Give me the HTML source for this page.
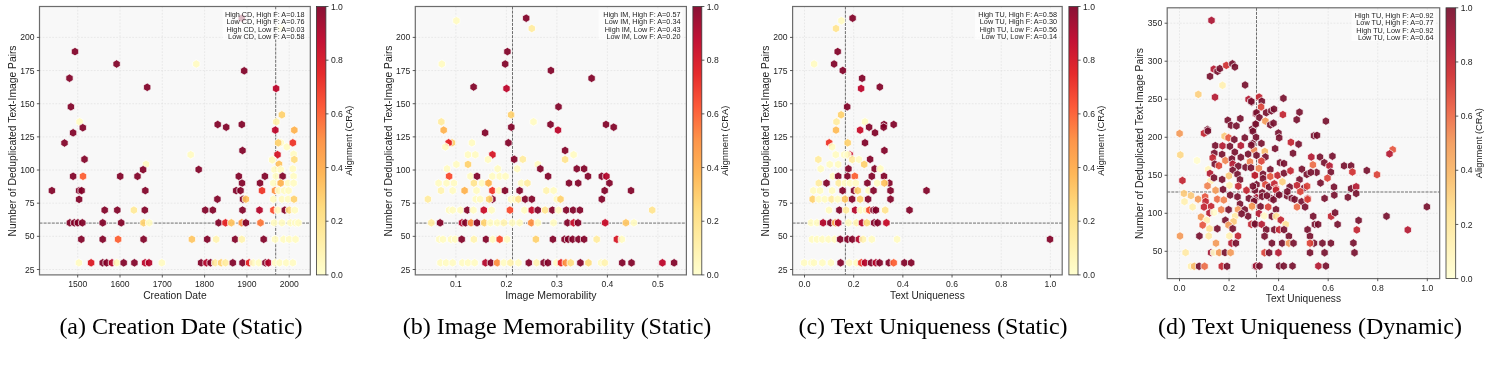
<!DOCTYPE html>
<html><head><meta charset="utf-8"><style>html,body{margin:0;padding:0;background:#fff;width:1496px;height:370px;overflow:hidden}svg{display:block;will-change:transform}</style></head>
<body><svg width="1496" height="370" viewBox="0 0 1496 370">
<rect x="39.5" y="6.5" width="270.8" height="268.4" fill="#f8f8f8"/>
<line x1="77.7" y1="6.5" x2="77.7" y2="274.9" stroke="#dedede" stroke-width="0.6" stroke-dasharray="1.7,1.5"/>
<line x1="120.0" y1="6.5" x2="120.0" y2="274.9" stroke="#dedede" stroke-width="0.6" stroke-dasharray="1.7,1.5"/>
<line x1="162.3" y1="6.5" x2="162.3" y2="274.9" stroke="#dedede" stroke-width="0.6" stroke-dasharray="1.7,1.5"/>
<line x1="204.6" y1="6.5" x2="204.6" y2="274.9" stroke="#dedede" stroke-width="0.6" stroke-dasharray="1.7,1.5"/>
<line x1="246.89999999999998" y1="6.5" x2="246.89999999999998" y2="274.9" stroke="#dedede" stroke-width="0.6" stroke-dasharray="1.7,1.5"/>
<line x1="289.2" y1="6.5" x2="289.2" y2="274.9" stroke="#dedede" stroke-width="0.6" stroke-dasharray="1.7,1.5"/>
<line x1="39.5" y1="269.5" x2="310.3" y2="269.5" stroke="#dedede" stroke-width="0.6" stroke-dasharray="1.7,1.5"/>
<line x1="39.5" y1="236.3425" x2="310.3" y2="236.3425" stroke="#dedede" stroke-width="0.6" stroke-dasharray="1.7,1.5"/>
<line x1="39.5" y1="203.185" x2="310.3" y2="203.185" stroke="#dedede" stroke-width="0.6" stroke-dasharray="1.7,1.5"/>
<line x1="39.5" y1="170.0275" x2="310.3" y2="170.0275" stroke="#dedede" stroke-width="0.6" stroke-dasharray="1.7,1.5"/>
<line x1="39.5" y1="136.87" x2="310.3" y2="136.87" stroke="#dedede" stroke-width="0.6" stroke-dasharray="1.7,1.5"/>
<line x1="39.5" y1="103.7125" x2="310.3" y2="103.7125" stroke="#dedede" stroke-width="0.6" stroke-dasharray="1.7,1.5"/>
<line x1="39.5" y1="70.555" x2="310.3" y2="70.555" stroke="#dedede" stroke-width="0.6" stroke-dasharray="1.7,1.5"/>
<line x1="39.5" y1="37.39750000000001" x2="310.3" y2="37.39750000000001" stroke="#dedede" stroke-width="0.6" stroke-dasharray="1.7,1.5"/>
<line x1="275.7" y1="6.5" x2="275.7" y2="274.9" stroke="#6e6e6e" stroke-width="1" stroke-dasharray="3,1.1"/>
<line x1="39.5" y1="223.0795" x2="310.3" y2="223.0795" stroke="#6e6e6e" stroke-width="1" stroke-dasharray="3,1.1"/>
<polygon points="75.00,47.40 71.36,49.50 71.36,53.70 75.00,55.80 78.64,53.70 78.64,49.50" fill="#800026" fill-opacity="0.92" stroke="#fff" stroke-width="0.7"/>
<polygon points="116.60,59.80 112.96,61.90 112.96,66.10 116.60,68.20 120.24,66.10 120.24,61.90" fill="#800026" fill-opacity="0.92" stroke="#fff" stroke-width="0.7"/>
<polygon points="69.50,74.00 65.86,76.10 65.86,80.30 69.50,82.40 73.14,80.30 73.14,76.10" fill="#800026" fill-opacity="0.92" stroke="#fff" stroke-width="0.7"/>
<polygon points="147.20,83.10 143.56,85.20 143.56,89.40 147.20,91.50 150.84,89.40 150.84,85.20" fill="#800026" fill-opacity="0.92" stroke="#fff" stroke-width="0.7"/>
<polygon points="70.90,102.60 67.26,104.70 67.26,108.90 70.90,111.00 74.54,108.90 74.54,104.70" fill="#800026" fill-opacity="0.92" stroke="#fff" stroke-width="0.7"/>
<polygon points="79.60,117.60 75.96,119.70 75.96,123.90 79.60,126.00 83.24,123.90 83.24,119.70" fill="#fffbc1" fill-opacity="0.92" stroke="#fff" stroke-width="0.7"/>
<polygon points="82.80,123.50 79.16,125.60 79.16,129.80 82.80,131.90 86.44,129.80 86.44,125.60" fill="#800026" fill-opacity="0.92" stroke="#fff" stroke-width="0.7"/>
<polygon points="73.10,128.60 69.46,130.70 69.46,134.90 73.10,137.00 76.74,134.90 76.74,130.70" fill="#800026" fill-opacity="0.92" stroke="#fff" stroke-width="0.7"/>
<polygon points="64.50,138.80 60.86,140.90 60.86,145.10 64.50,147.20 68.14,145.10 68.14,140.90" fill="#800026" fill-opacity="0.92" stroke="#fff" stroke-width="0.7"/>
<polygon points="84.50,155.10 80.86,157.20 80.86,161.40 84.50,163.50 88.14,161.40 88.14,157.20" fill="#800026" fill-opacity="0.92" stroke="#fff" stroke-width="0.7"/>
<polygon points="146.00,160.10 142.36,162.20 142.36,166.40 146.00,168.50 149.64,166.40 149.64,162.20" fill="#fffbc1" fill-opacity="0.92" stroke="#fff" stroke-width="0.7"/>
<polygon points="143.10,165.50 139.46,167.60 139.46,171.80 143.10,173.90 146.74,171.80 146.74,167.60" fill="#800026" fill-opacity="0.92" stroke="#fff" stroke-width="0.7"/>
<polygon points="73.10,172.10 69.46,174.20 69.46,178.40 73.10,180.50 76.74,178.40 76.74,174.20" fill="#800026" fill-opacity="0.92" stroke="#fff" stroke-width="0.7"/>
<polygon points="83.00,172.10 79.36,174.20 79.36,178.40 83.00,180.50 86.64,178.40 86.64,174.20" fill="#fc5b2e" fill-opacity="0.92" stroke="#fff" stroke-width="0.7"/>
<polygon points="120.20,172.10 116.56,174.20 116.56,178.40 120.20,180.50 123.84,178.40 123.84,174.20" fill="#800026" fill-opacity="0.92" stroke="#fff" stroke-width="0.7"/>
<polygon points="137.50,172.10 133.86,174.20 133.86,178.40 137.50,180.50 141.14,178.40 141.14,174.20" fill="#800026" fill-opacity="0.92" stroke="#fff" stroke-width="0.7"/>
<polygon points="51.90,186.40 48.26,188.50 48.26,192.70 51.90,194.80 55.54,192.70 55.54,188.50" fill="#800026" fill-opacity="0.92" stroke="#fff" stroke-width="0.7"/>
<polygon points="79.10,186.40 75.46,188.50 75.46,192.70 79.10,194.80 82.74,192.70 82.74,188.50" fill="#800026" fill-opacity="0.92" stroke="#fff" stroke-width="0.7"/>
<polygon points="81.60,186.40 77.96,188.50 77.96,192.70 81.60,194.80 85.24,192.70 85.24,188.50" fill="#800026" fill-opacity="0.92" stroke="#fff" stroke-width="0.7"/>
<polygon points="145.30,186.40 141.66,188.50 141.66,192.70 145.30,194.80 148.94,192.70 148.94,188.50" fill="#800026" fill-opacity="0.92" stroke="#fff" stroke-width="0.7"/>
<polygon points="79.10,195.20 75.46,197.30 75.46,201.50 79.10,203.60 82.74,201.50 82.74,197.30" fill="#800026" fill-opacity="0.92" stroke="#fff" stroke-width="0.7"/>
<polygon points="104.70,205.90 101.06,208.00 101.06,212.20 104.70,214.30 108.34,212.20 108.34,208.00" fill="#800026" fill-opacity="0.92" stroke="#fff" stroke-width="0.7"/>
<polygon points="117.30,205.90 113.66,208.00 113.66,212.20 117.30,214.30 120.94,212.20 120.94,208.00" fill="#800026" fill-opacity="0.92" stroke="#fff" stroke-width="0.7"/>
<polygon points="133.90,205.90 130.26,208.00 130.26,212.20 133.90,214.30 137.54,212.20 137.54,208.00" fill="#ffe998" fill-opacity="0.92" stroke="#fff" stroke-width="0.7"/>
<polygon points="144.80,205.90 141.16,208.00 141.16,212.20 144.80,214.30 148.44,212.20 148.44,208.00" fill="#800026" fill-opacity="0.92" stroke="#fff" stroke-width="0.7"/>
<polygon points="69.90,218.60 66.26,220.70 66.26,224.90 69.90,227.00 73.54,224.90 73.54,220.70" fill="#800026" fill-opacity="0.92" stroke="#fff" stroke-width="0.7"/>
<polygon points="74.30,218.60 70.66,220.70 70.66,224.90 74.30,227.00 77.94,224.90 77.94,220.70" fill="#800026" fill-opacity="0.92" stroke="#fff" stroke-width="0.7"/>
<polygon points="77.90,218.60 74.26,220.70 74.26,224.90 77.90,227.00 81.54,224.90 81.54,220.70" fill="#800026" fill-opacity="0.92" stroke="#fff" stroke-width="0.7"/>
<polygon points="82.30,218.60 78.66,220.70 78.66,224.90 82.30,227.00 85.94,224.90 85.94,220.70" fill="#800026" fill-opacity="0.92" stroke="#fff" stroke-width="0.7"/>
<polygon points="102.70,218.60 99.06,220.70 99.06,224.90 102.70,227.00 106.34,224.90 106.34,220.70" fill="#800026" fill-opacity="0.92" stroke="#fff" stroke-width="0.7"/>
<polygon points="121.20,218.60 117.56,220.70 117.56,224.90 121.20,227.00 124.84,224.90 124.84,220.70" fill="#800026" fill-opacity="0.92" stroke="#fff" stroke-width="0.7"/>
<polygon points="143.60,218.60 139.96,220.70 139.96,224.90 143.60,227.00 147.24,224.90 147.24,220.70" fill="#fed06c" fill-opacity="0.92" stroke="#fff" stroke-width="0.7"/>
<polygon points="149.20,218.60 145.56,220.70 145.56,224.90 149.20,227.00 152.84,224.90 152.84,220.70" fill="#fffbc1" fill-opacity="0.92" stroke="#fff" stroke-width="0.7"/>
<polygon points="81.30,235.10 77.66,237.20 77.66,241.40 81.30,243.50 84.94,241.40 84.94,237.20" fill="#800026" fill-opacity="0.92" stroke="#fff" stroke-width="0.7"/>
<polygon points="102.70,235.10 99.06,237.20 99.06,241.40 102.70,243.50 106.34,241.40 106.34,237.20" fill="#800026" fill-opacity="0.92" stroke="#fff" stroke-width="0.7"/>
<polygon points="118.10,235.10 114.46,237.20 114.46,241.40 118.10,243.50 121.74,241.40 121.74,237.20" fill="#fc5b2e" fill-opacity="0.92" stroke="#fff" stroke-width="0.7"/>
<polygon points="143.60,235.10 139.96,237.20 139.96,241.40 143.60,243.50 147.24,241.40 147.24,237.20" fill="#800026" fill-opacity="0.92" stroke="#fff" stroke-width="0.7"/>
<polygon points="78.90,258.60 75.26,260.70 75.26,264.90 78.90,267.00 82.54,264.90 82.54,260.70" fill="#fffbc1" fill-opacity="0.92" stroke="#fff" stroke-width="0.7"/>
<polygon points="91.10,258.60 87.46,260.70 87.46,264.90 91.10,267.00 94.74,264.90 94.74,260.70" fill="#da141e" fill-opacity="0.92" stroke="#fff" stroke-width="0.7"/>
<polygon points="102.70,258.60 99.06,260.70 99.06,264.90 102.70,267.00 106.34,264.90 106.34,260.70" fill="#800026" fill-opacity="0.92" stroke="#fff" stroke-width="0.7"/>
<polygon points="106.60,258.60 102.96,260.70 102.96,264.90 106.60,267.00 110.24,264.90 110.24,260.70" fill="#800026" fill-opacity="0.92" stroke="#fff" stroke-width="0.7"/>
<polygon points="112.00,258.60 108.36,260.70 108.36,264.90 112.00,267.00 115.64,264.90 115.64,260.70" fill="#b10026" fill-opacity="0.92" stroke="#fff" stroke-width="0.7"/>
<polygon points="116.80,258.60 113.16,260.70 113.16,264.90 116.80,267.00 120.44,264.90 120.44,260.70" fill="#fff8ba" fill-opacity="0.92" stroke="#fff" stroke-width="0.7"/>
<polygon points="123.70,258.60 120.06,260.70 120.06,264.90 123.70,267.00 127.34,264.90 127.34,260.70" fill="#800026" fill-opacity="0.92" stroke="#fff" stroke-width="0.7"/>
<polygon points="134.40,258.60 130.76,260.70 130.76,264.90 134.40,267.00 138.04,264.90 138.04,260.70" fill="#800026" fill-opacity="0.92" stroke="#fff" stroke-width="0.7"/>
<polygon points="145.10,258.60 141.46,260.70 141.46,264.90 145.10,267.00 148.74,264.90 148.74,260.70" fill="#bb0026" fill-opacity="0.92" stroke="#fff" stroke-width="0.7"/>
<polygon points="149.00,258.60 145.36,260.70 145.36,264.90 149.00,267.00 152.64,264.90 152.64,260.70" fill="#b10026" fill-opacity="0.92" stroke="#fff" stroke-width="0.7"/>
<polygon points="161.80,258.60 158.16,260.70 158.16,264.90 161.80,267.00 165.44,264.90 165.44,260.70" fill="#fffbc1" fill-opacity="0.92" stroke="#fff" stroke-width="0.7"/>
<polygon points="241.80,14.00 238.16,16.10 238.16,20.30 241.80,22.40 245.44,20.30 245.44,16.10" fill="#800026" fill-opacity="0.92" stroke="#fff" stroke-width="0.7"/>
<polygon points="280.70,23.80 277.06,25.90 277.06,30.10 280.70,32.20 284.34,30.10 284.34,25.90" fill="#fffbc1" fill-opacity="0.92" stroke="#fff" stroke-width="0.7"/>
<polygon points="196.30,59.80 192.66,61.90 192.66,66.10 196.30,68.20 199.94,66.10 199.94,61.90" fill="#fffbc1" fill-opacity="0.92" stroke="#fff" stroke-width="0.7"/>
<polygon points="244.20,66.60 240.56,68.70 240.56,72.90 244.20,75.00 247.84,72.90 247.84,68.70" fill="#800026" fill-opacity="0.92" stroke="#fff" stroke-width="0.7"/>
<polygon points="276.10,84.30 272.46,86.40 272.46,90.60 276.10,92.70 279.74,90.60 279.74,86.40" fill="#bb0026" fill-opacity="0.92" stroke="#fff" stroke-width="0.7"/>
<polygon points="281.90,110.60 278.26,112.70 278.26,116.90 281.90,119.00 285.54,116.90 285.54,112.70" fill="#fed06c" fill-opacity="0.92" stroke="#fff" stroke-width="0.7"/>
<polygon points="276.30,117.60 272.66,119.70 272.66,123.90 276.30,126.00 279.94,123.90 279.94,119.70" fill="#fff1a9" fill-opacity="0.92" stroke="#fff" stroke-width="0.7"/>
<polygon points="217.70,120.30 214.06,122.40 214.06,126.60 217.70,128.70 221.34,126.60 221.34,122.40" fill="#800026" fill-opacity="0.92" stroke="#fff" stroke-width="0.7"/>
<polygon points="226.20,123.00 222.56,125.10 222.56,129.30 226.20,131.40 229.84,129.30 229.84,125.10" fill="#800026" fill-opacity="0.92" stroke="#fff" stroke-width="0.7"/>
<polygon points="241.80,120.30 238.16,122.40 238.16,126.60 241.80,128.70 245.44,126.60 245.44,122.40" fill="#800026" fill-opacity="0.92" stroke="#fff" stroke-width="0.7"/>
<polygon points="275.30,125.90 271.66,128.00 271.66,132.20 275.30,134.30 278.94,132.20 278.94,128.00" fill="#bb0026" fill-opacity="0.92" stroke="#fff" stroke-width="0.7"/>
<polygon points="294.30,125.90 290.66,128.00 290.66,132.20 294.30,134.30 297.94,132.20 297.94,128.00" fill="#feb14b" fill-opacity="0.92" stroke="#fff" stroke-width="0.7"/>
<polygon points="280.70,138.60 277.06,140.70 277.06,144.90 280.70,147.00 284.34,144.90 284.34,140.70" fill="#fffbc1" fill-opacity="0.92" stroke="#fff" stroke-width="0.7"/>
<polygon points="278.20,138.60 274.56,140.70 274.56,144.90 278.20,147.00 281.84,144.90 281.84,140.70" fill="#fed06c" fill-opacity="0.92" stroke="#fff" stroke-width="0.7"/>
<polygon points="286.80,142.70 283.16,144.80 283.16,149.00 286.80,151.10 290.44,149.00 290.44,144.80" fill="#fffbc1" fill-opacity="0.92" stroke="#fff" stroke-width="0.7"/>
<polygon points="292.80,138.60 289.16,140.70 289.16,144.90 292.80,147.00 296.44,144.90 296.44,140.70" fill="#ed2f22" fill-opacity="0.92" stroke="#fff" stroke-width="0.7"/>
<polygon points="242.50,146.30 238.86,148.40 238.86,152.60 242.50,154.70 246.14,152.60 246.14,148.40" fill="#800026" fill-opacity="0.92" stroke="#fff" stroke-width="0.7"/>
<polygon points="190.70,150.50 187.06,152.60 187.06,156.80 190.70,158.90 194.34,156.80 194.34,152.60" fill="#fffbc1" fill-opacity="0.92" stroke="#fff" stroke-width="0.7"/>
<polygon points="277.50,150.50 273.86,152.60 273.86,156.80 277.50,158.90 281.14,156.80 281.14,152.60" fill="#d41020" fill-opacity="0.92" stroke="#fff" stroke-width="0.7"/>
<polygon points="293.60,150.00 289.96,152.10 289.96,156.30 293.60,158.40 297.24,156.30 297.24,152.10" fill="#fffbc1" fill-opacity="0.92" stroke="#fff" stroke-width="0.7"/>
<polygon points="272.20,155.30 268.56,157.40 268.56,161.60 272.20,163.70 275.84,161.60 275.84,157.40" fill="#ffe998" fill-opacity="0.92" stroke="#fff" stroke-width="0.7"/>
<polygon points="294.30,155.30 290.66,157.40 290.66,161.60 294.30,163.70 297.94,161.60 297.94,157.40" fill="#fedc7d" fill-opacity="0.92" stroke="#fff" stroke-width="0.7"/>
<polygon points="279.00,160.00 275.36,162.10 275.36,166.30 279.00,168.40 282.64,166.30 282.64,162.10" fill="#fec05b" fill-opacity="0.92" stroke="#fff" stroke-width="0.7"/>
<polygon points="198.70,165.30 195.06,167.40 195.06,171.60 198.70,173.70 202.34,171.60 202.34,167.40" fill="#800026" fill-opacity="0.92" stroke="#fff" stroke-width="0.7"/>
<polygon points="292.80,164.60 289.16,166.70 289.16,170.90 292.80,173.00 296.44,170.90 296.44,166.70" fill="#fffbc1" fill-opacity="0.92" stroke="#fff" stroke-width="0.7"/>
<polygon points="272.20,155.80 268.56,157.90 268.56,162.10 272.20,164.20 275.84,162.10 275.84,157.90" fill="#fffbc1" fill-opacity="0.92" stroke="#fff" stroke-width="0.7"/>
<polygon points="274.60,165.50 270.96,167.60 270.96,171.80 274.60,173.90 278.24,171.80 278.24,167.60" fill="#fffbc1" fill-opacity="0.92" stroke="#fff" stroke-width="0.7"/>
<polygon points="280.70,165.50 277.06,167.60 277.06,171.80 280.70,173.90 284.34,171.80 284.34,167.60" fill="#fffbc1" fill-opacity="0.92" stroke="#fff" stroke-width="0.7"/>
<polygon points="238.80,172.10 235.16,174.20 235.16,178.40 238.80,180.50 242.44,178.40 242.44,174.20" fill="#800026" fill-opacity="0.92" stroke="#fff" stroke-width="0.7"/>
<polygon points="264.90,172.10 261.26,174.20 261.26,178.40 264.90,180.50 268.54,178.40 268.54,174.20" fill="#800026" fill-opacity="0.92" stroke="#fff" stroke-width="0.7"/>
<polygon points="275.80,172.10 272.16,174.20 272.16,178.40 275.80,180.50 279.44,178.40 279.44,174.20" fill="#fffbc1" fill-opacity="0.92" stroke="#fff" stroke-width="0.7"/>
<polygon points="282.60,172.10 278.96,174.20 278.96,178.40 282.60,180.50 286.24,178.40 286.24,174.20" fill="#800026" fill-opacity="0.92" stroke="#fff" stroke-width="0.7"/>
<polygon points="293.60,172.10 289.96,174.20 289.96,178.40 293.60,180.50 297.24,178.40 297.24,174.20" fill="#fffbc1" fill-opacity="0.92" stroke="#fff" stroke-width="0.7"/>
<polygon points="242.00,178.90 238.36,181.00 238.36,185.20 242.00,187.30 245.64,185.20 245.64,181.00" fill="#800026" fill-opacity="0.92" stroke="#fff" stroke-width="0.7"/>
<polygon points="260.00,178.90 256.36,181.00 256.36,185.20 260.00,187.30 263.64,185.20 263.64,181.00" fill="#800026" fill-opacity="0.92" stroke="#fff" stroke-width="0.7"/>
<polygon points="273.40,178.90 269.76,181.00 269.76,185.20 273.40,187.30 277.04,185.20 277.04,181.00" fill="#fffbc1" fill-opacity="0.92" stroke="#fff" stroke-width="0.7"/>
<polygon points="280.70,178.90 277.06,181.00 277.06,185.20 280.70,187.30 284.34,185.20 284.34,181.00" fill="#feb14b" fill-opacity="0.92" stroke="#fff" stroke-width="0.7"/>
<polygon points="288.00,178.90 284.36,181.00 284.36,185.20 288.00,187.30 291.64,185.20 291.64,181.00" fill="#fffbc1" fill-opacity="0.92" stroke="#fff" stroke-width="0.7"/>
<polygon points="293.60,178.90 289.96,181.00 289.96,185.20 293.60,187.30 297.24,185.20 297.24,181.00" fill="#fffbc1" fill-opacity="0.92" stroke="#fff" stroke-width="0.7"/>
<polygon points="236.20,186.40 232.56,188.50 232.56,192.70 236.20,194.80 239.84,192.70 239.84,188.50" fill="#800026" fill-opacity="0.92" stroke="#fff" stroke-width="0.7"/>
<polygon points="240.50,186.40 236.86,188.50 236.86,192.70 240.50,194.80 244.14,192.70 244.14,188.50" fill="#800026" fill-opacity="0.92" stroke="#fff" stroke-width="0.7"/>
<polygon points="262.00,186.40 258.36,188.50 258.36,192.70 262.00,194.80 265.64,192.70 265.64,188.50" fill="#ed2f22" fill-opacity="0.92" stroke="#fff" stroke-width="0.7"/>
<polygon points="275.00,186.40 271.36,188.50 271.36,192.70 275.00,194.80 278.64,192.70 278.64,188.50" fill="#fd8d3c" fill-opacity="0.92" stroke="#fff" stroke-width="0.7"/>
<polygon points="278.70,186.40 275.06,188.50 275.06,192.70 278.70,194.80 282.34,192.70 282.34,188.50" fill="#fffbc1" fill-opacity="0.92" stroke="#fff" stroke-width="0.7"/>
<polygon points="284.30,186.40 280.66,188.50 280.66,192.70 284.30,194.80 287.94,192.70 287.94,188.50" fill="#fffbc1" fill-opacity="0.92" stroke="#fff" stroke-width="0.7"/>
<polygon points="288.50,186.40 284.86,188.50 284.86,192.70 288.50,194.80 292.14,192.70 292.14,188.50" fill="#fffbc1" fill-opacity="0.92" stroke="#fff" stroke-width="0.7"/>
<polygon points="217.40,195.00 213.76,197.10 213.76,201.30 217.40,203.40 221.04,201.30 221.04,197.10" fill="#800026" fill-opacity="0.92" stroke="#fff" stroke-width="0.7"/>
<polygon points="243.00,195.00 239.36,197.10 239.36,201.30 243.00,203.40 246.64,201.30 246.64,197.10" fill="#800026" fill-opacity="0.92" stroke="#fff" stroke-width="0.7"/>
<polygon points="245.90,195.00 242.26,197.10 242.26,201.30 245.90,203.40 249.54,201.30 249.54,197.10" fill="#fec05b" fill-opacity="0.92" stroke="#fff" stroke-width="0.7"/>
<polygon points="273.40,195.00 269.76,197.10 269.76,201.30 273.40,203.40 277.04,201.30 277.04,197.10" fill="#fffbc1" fill-opacity="0.92" stroke="#fff" stroke-width="0.7"/>
<polygon points="281.90,195.00 278.26,197.10 278.26,201.30 281.90,203.40 285.54,201.30 285.54,197.10" fill="#fffbc1" fill-opacity="0.92" stroke="#fff" stroke-width="0.7"/>
<polygon points="288.00,195.00 284.36,197.10 284.36,201.30 288.00,203.40 291.64,201.30 291.64,197.10" fill="#fffbc1" fill-opacity="0.92" stroke="#fff" stroke-width="0.7"/>
<polygon points="294.00,195.00 290.36,197.10 290.36,201.30 294.00,203.40 297.64,201.30 297.64,197.10" fill="#fed06c" fill-opacity="0.92" stroke="#fff" stroke-width="0.7"/>
<polygon points="205.30,205.90 201.66,208.00 201.66,212.20 205.30,214.30 208.94,212.20 208.94,208.00" fill="#800026" fill-opacity="0.92" stroke="#fff" stroke-width="0.7"/>
<polygon points="212.80,205.90 209.16,208.00 209.16,212.20 212.80,214.30 216.44,212.20 216.44,208.00" fill="#800026" fill-opacity="0.92" stroke="#fff" stroke-width="0.7"/>
<polygon points="242.50,205.90 238.86,208.00 238.86,212.20 242.50,214.30 246.14,212.20 246.14,208.00" fill="#800026" fill-opacity="0.92" stroke="#fff" stroke-width="0.7"/>
<polygon points="259.50,205.90 255.86,208.00 255.86,212.20 259.50,214.30 263.14,212.20 263.14,208.00" fill="#b10026" fill-opacity="0.92" stroke="#fff" stroke-width="0.7"/>
<polygon points="273.40,205.90 269.76,208.00 269.76,212.20 273.40,214.30 277.04,212.20 277.04,208.00" fill="#f74427" fill-opacity="0.92" stroke="#fff" stroke-width="0.7"/>
<polygon points="277.80,205.90 274.16,208.00 274.16,212.20 277.80,214.30 281.44,212.20 281.44,208.00" fill="#fffbc1" fill-opacity="0.92" stroke="#fff" stroke-width="0.7"/>
<polygon points="284.80,205.90 281.16,208.00 281.16,212.20 284.80,214.30 288.44,212.20 288.44,208.00" fill="#800026" fill-opacity="0.92" stroke="#fff" stroke-width="0.7"/>
<polygon points="289.20,205.90 285.56,208.00 285.56,212.20 289.20,214.30 292.84,212.20 292.84,208.00" fill="#fedc7d" fill-opacity="0.92" stroke="#fff" stroke-width="0.7"/>
<polygon points="294.80,205.90 291.16,208.00 291.16,212.20 294.80,214.30 298.44,212.20 298.44,208.00" fill="#fffbc1" fill-opacity="0.92" stroke="#fff" stroke-width="0.7"/>
<polygon points="218.60,218.60 214.96,220.70 214.96,224.90 218.60,227.00 222.24,224.90 222.24,220.70" fill="#800026" fill-opacity="0.92" stroke="#fff" stroke-width="0.7"/>
<polygon points="225.50,218.60 221.86,220.70 221.86,224.90 225.50,227.00 229.14,224.90 229.14,220.70" fill="#e31a1c" fill-opacity="0.92" stroke="#fff" stroke-width="0.7"/>
<polygon points="231.30,218.60 227.66,220.70 227.66,224.90 231.30,227.00 234.94,224.90 234.94,220.70" fill="#fec05b" fill-opacity="0.92" stroke="#fff" stroke-width="0.7"/>
<polygon points="241.80,218.60 238.16,220.70 238.16,224.90 241.80,227.00 245.44,224.90 245.44,220.70" fill="#fd8d3c" fill-opacity="0.92" stroke="#fff" stroke-width="0.7"/>
<polygon points="245.90,218.60 242.26,220.70 242.26,224.90 245.90,227.00 249.54,224.90 249.54,220.70" fill="#800026" fill-opacity="0.92" stroke="#fff" stroke-width="0.7"/>
<polygon points="260.50,218.60 256.86,220.70 256.86,224.90 260.50,227.00 264.14,224.90 264.14,220.70" fill="#fd7435" fill-opacity="0.92" stroke="#fff" stroke-width="0.7"/>
<polygon points="274.10,218.60 270.46,220.70 270.46,224.90 274.10,227.00 277.74,224.90 277.74,220.70" fill="#fffbc1" fill-opacity="0.92" stroke="#fff" stroke-width="0.7"/>
<polygon points="281.90,218.60 278.26,220.70 278.26,224.90 281.90,227.00 285.54,224.90 285.54,220.70" fill="#fffbc1" fill-opacity="0.92" stroke="#fff" stroke-width="0.7"/>
<polygon points="290.40,218.60 286.76,220.70 286.76,224.90 290.40,227.00 294.04,224.90 294.04,220.70" fill="#fffbc1" fill-opacity="0.92" stroke="#fff" stroke-width="0.7"/>
<polygon points="295.30,218.60 291.66,220.70 291.66,224.90 295.30,227.00 298.94,224.90 298.94,220.70" fill="#fffbc1" fill-opacity="0.92" stroke="#fff" stroke-width="0.7"/>
<polygon points="298.40,218.60 294.76,220.70 294.76,224.90 298.40,227.00 302.04,224.90 302.04,220.70" fill="#fffbc1" fill-opacity="0.92" stroke="#fff" stroke-width="0.7"/>
<polygon points="191.90,235.10 188.26,237.20 188.26,241.40 191.90,243.50 195.54,241.40 195.54,237.20" fill="#fec662" fill-opacity="0.92" stroke="#fff" stroke-width="0.7"/>
<polygon points="207.20,235.10 203.56,237.20 203.56,241.40 207.20,243.50 210.84,241.40 210.84,237.20" fill="#800026" fill-opacity="0.92" stroke="#fff" stroke-width="0.7"/>
<polygon points="216.20,235.10 212.56,237.20 212.56,241.40 216.20,243.50 219.84,241.40 219.84,237.20" fill="#fff3b0" fill-opacity="0.92" stroke="#fff" stroke-width="0.7"/>
<polygon points="235.20,235.10 231.56,237.20 231.56,241.40 235.20,243.50 238.84,241.40 238.84,237.20" fill="#800026" fill-opacity="0.92" stroke="#fff" stroke-width="0.7"/>
<polygon points="241.80,235.10 238.16,237.20 238.16,241.40 241.80,243.50 245.44,241.40 245.44,237.20" fill="#fff3b0" fill-opacity="0.92" stroke="#fff" stroke-width="0.7"/>
<polygon points="263.70,235.10 260.06,237.20 260.06,241.40 263.70,243.50 267.34,241.40 267.34,237.20" fill="#800026" fill-opacity="0.92" stroke="#fff" stroke-width="0.7"/>
<polygon points="275.10,235.10 271.46,237.20 271.46,241.40 275.10,243.50 278.74,241.40 278.74,237.20" fill="#fffbc1" fill-opacity="0.92" stroke="#fff" stroke-width="0.7"/>
<polygon points="283.60,235.10 279.96,237.20 279.96,241.40 283.60,243.50 287.24,241.40 287.24,237.20" fill="#fffbc1" fill-opacity="0.92" stroke="#fff" stroke-width="0.7"/>
<polygon points="289.20,235.10 285.56,237.20 285.56,241.40 289.20,243.50 292.84,241.40 292.84,237.20" fill="#fffbc1" fill-opacity="0.92" stroke="#fff" stroke-width="0.7"/>
<polygon points="295.50,235.10 291.86,237.20 291.86,241.40 295.50,243.50 299.14,241.40 299.14,237.20" fill="#fffbc1" fill-opacity="0.92" stroke="#fff" stroke-width="0.7"/>
<polygon points="201.10,258.60 197.46,260.70 197.46,264.90 201.10,267.00 204.74,264.90 204.74,260.70" fill="#800026" fill-opacity="0.92" stroke="#fff" stroke-width="0.7"/>
<polygon points="206.50,258.60 202.86,260.70 202.86,264.90 206.50,267.00 210.14,264.90 210.14,260.70" fill="#b10026" fill-opacity="0.92" stroke="#fff" stroke-width="0.7"/>
<polygon points="210.60,258.60 206.96,260.70 206.96,264.90 210.60,267.00 214.24,264.90 214.24,260.70" fill="#800026" fill-opacity="0.92" stroke="#fff" stroke-width="0.7"/>
<polygon points="215.20,258.60 211.56,260.70 211.56,264.90 215.20,267.00 218.84,264.90 218.84,260.70" fill="#ffec9e" fill-opacity="0.92" stroke="#fff" stroke-width="0.7"/>
<polygon points="221.10,258.60 217.46,260.70 217.46,264.90 221.10,267.00 224.74,264.90 224.74,260.70" fill="#fed06c" fill-opacity="0.92" stroke="#fff" stroke-width="0.7"/>
<polygon points="225.50,258.60 221.86,260.70 221.86,264.90 225.50,267.00 229.14,264.90 229.14,260.70" fill="#ffec9e" fill-opacity="0.92" stroke="#fff" stroke-width="0.7"/>
<polygon points="232.80,258.60 229.16,260.70 229.16,264.90 232.80,267.00 236.44,264.90 236.44,260.70" fill="#800026" fill-opacity="0.92" stroke="#fff" stroke-width="0.7"/>
<polygon points="242.50,258.60 238.86,260.70 238.86,264.90 242.50,267.00 246.14,264.90 246.14,260.70" fill="#800026" fill-opacity="0.92" stroke="#fff" stroke-width="0.7"/>
<polygon points="249.10,258.60 245.46,260.70 245.46,264.90 249.10,267.00 252.74,264.90 252.74,260.70" fill="#e31a1c" fill-opacity="0.92" stroke="#fff" stroke-width="0.7"/>
<polygon points="253.20,258.60 249.56,260.70 249.56,264.90 253.20,267.00 256.84,264.90 256.84,260.70" fill="#fffbc1" fill-opacity="0.92" stroke="#fff" stroke-width="0.7"/>
<polygon points="258.80,258.60 255.16,260.70 255.16,264.90 258.80,267.00 262.44,264.90 262.44,260.70" fill="#fffbc1" fill-opacity="0.92" stroke="#fff" stroke-width="0.7"/>
<polygon points="265.40,258.60 261.76,260.70 261.76,264.90 265.40,267.00 269.04,264.90 269.04,260.70" fill="#800026" fill-opacity="0.92" stroke="#fff" stroke-width="0.7"/>
<polygon points="268.50,258.60 264.86,260.70 264.86,264.90 268.50,267.00 272.14,264.90 272.14,260.70" fill="#b10026" fill-opacity="0.92" stroke="#fff" stroke-width="0.7"/>
<polygon points="275.10,258.60 271.46,260.70 271.46,264.90 275.10,267.00 278.74,264.90 278.74,260.70" fill="#fffbc1" fill-opacity="0.92" stroke="#fff" stroke-width="0.7"/>
<polygon points="279.50,258.60 275.86,260.70 275.86,264.90 279.50,267.00 283.14,264.90 283.14,260.70" fill="#fffbc1" fill-opacity="0.92" stroke="#fff" stroke-width="0.7"/>
<polygon points="286.30,258.60 282.66,260.70 282.66,264.90 286.30,267.00 289.94,264.90 289.94,260.70" fill="#fffbc1" fill-opacity="0.92" stroke="#fff" stroke-width="0.7"/>
<polygon points="292.80,258.60 289.16,260.70 289.16,264.90 292.80,267.00 296.44,264.90 296.44,260.70" fill="#fffbc1" fill-opacity="0.92" stroke="#fff" stroke-width="0.7"/>
<rect x="222.60000000000002" y="9.5" width="84" height="30" fill="#fff" fill-opacity="0.7"/>
<text x="304.6" y="16.7" font-family="Liberation Sans" font-size="6.9" fill="#222" text-anchor="end" textLength="79.7" lengthAdjust="spacingAndGlyphs">High CD, High F: A=0.18</text>
<text x="304.6" y="24.1" font-family="Liberation Sans" font-size="6.9" fill="#222" text-anchor="end" textLength="78.1" lengthAdjust="spacingAndGlyphs">Low CD, High F: A=0.76</text>
<text x="304.6" y="31.5" font-family="Liberation Sans" font-size="6.9" fill="#222" text-anchor="end" textLength="78.1" lengthAdjust="spacingAndGlyphs">High CD, Low F: A=0.03</text>
<text x="304.6" y="38.900000000000006" font-family="Liberation Sans" font-size="6.9" fill="#222" text-anchor="end" textLength="76.49" lengthAdjust="spacingAndGlyphs">Low CD, Low F: A=0.58</text>
<rect x="39.5" y="6.5" width="270.8" height="268.4" fill="none" stroke="#6c6c6c" stroke-width="1.2"/>
<line x1="77.7" y1="274.9" x2="77.7" y2="277.5" stroke="#333" stroke-width="0.8"/>
<text x="77.7" y="287.09999999999997" font-family="Liberation Sans" font-size="8.6" fill="#1e1e1e" text-anchor="middle">1500</text>
<line x1="120.0" y1="274.9" x2="120.0" y2="277.5" stroke="#333" stroke-width="0.8"/>
<text x="120.0" y="287.09999999999997" font-family="Liberation Sans" font-size="8.6" fill="#1e1e1e" text-anchor="middle">1600</text>
<line x1="162.3" y1="274.9" x2="162.3" y2="277.5" stroke="#333" stroke-width="0.8"/>
<text x="162.3" y="287.09999999999997" font-family="Liberation Sans" font-size="8.6" fill="#1e1e1e" text-anchor="middle">1700</text>
<line x1="204.6" y1="274.9" x2="204.6" y2="277.5" stroke="#333" stroke-width="0.8"/>
<text x="204.6" y="287.09999999999997" font-family="Liberation Sans" font-size="8.6" fill="#1e1e1e" text-anchor="middle">1800</text>
<line x1="246.89999999999998" y1="274.9" x2="246.89999999999998" y2="277.5" stroke="#333" stroke-width="0.8"/>
<text x="246.89999999999998" y="287.09999999999997" font-family="Liberation Sans" font-size="8.6" fill="#1e1e1e" text-anchor="middle">1900</text>
<line x1="289.2" y1="274.9" x2="289.2" y2="277.5" stroke="#333" stroke-width="0.8"/>
<text x="289.2" y="287.09999999999997" font-family="Liberation Sans" font-size="8.6" fill="#1e1e1e" text-anchor="middle">2000</text>
<line x1="36.9" y1="269.5" x2="39.5" y2="269.5" stroke="#333" stroke-width="0.8"/>
<text x="34.5" y="272.6" font-family="Liberation Sans" font-size="8.6" fill="#1e1e1e" text-anchor="end">25</text>
<line x1="36.9" y1="236.3425" x2="39.5" y2="236.3425" stroke="#333" stroke-width="0.8"/>
<text x="34.5" y="239.4425" font-family="Liberation Sans" font-size="8.6" fill="#1e1e1e" text-anchor="end">50</text>
<line x1="36.9" y1="203.185" x2="39.5" y2="203.185" stroke="#333" stroke-width="0.8"/>
<text x="34.5" y="206.285" font-family="Liberation Sans" font-size="8.6" fill="#1e1e1e" text-anchor="end">75</text>
<line x1="36.9" y1="170.0275" x2="39.5" y2="170.0275" stroke="#333" stroke-width="0.8"/>
<text x="34.5" y="173.1275" font-family="Liberation Sans" font-size="8.6" fill="#1e1e1e" text-anchor="end">100</text>
<line x1="36.9" y1="136.87" x2="39.5" y2="136.87" stroke="#333" stroke-width="0.8"/>
<text x="34.5" y="139.97" font-family="Liberation Sans" font-size="8.6" fill="#1e1e1e" text-anchor="end">125</text>
<line x1="36.9" y1="103.7125" x2="39.5" y2="103.7125" stroke="#333" stroke-width="0.8"/>
<text x="34.5" y="106.8125" font-family="Liberation Sans" font-size="8.6" fill="#1e1e1e" text-anchor="end">150</text>
<line x1="36.9" y1="70.555" x2="39.5" y2="70.555" stroke="#333" stroke-width="0.8"/>
<text x="34.5" y="73.655" font-family="Liberation Sans" font-size="8.6" fill="#1e1e1e" text-anchor="end">175</text>
<line x1="36.9" y1="37.39750000000001" x2="39.5" y2="37.39750000000001" stroke="#333" stroke-width="0.8"/>
<text x="34.5" y="40.49750000000001" font-family="Liberation Sans" font-size="8.6" fill="#1e1e1e" text-anchor="end">200</text>
<text x="174.9" y="298.59999999999997" font-family="Liberation Sans" font-size="10.2" fill="#1e1e1e" text-anchor="middle" textLength="63.5" lengthAdjust="spacingAndGlyphs">Creation Date</text>
<text transform="translate(15.7,141.0) rotate(-90)" font-family="Liberation Sans" font-size="10.3" fill="#1e1e1e" text-anchor="middle" textLength="191" lengthAdjust="spacingAndGlyphs">Number of Deduplicated Text-Image Pairs</text>
<defs><linearGradient id="ga" x1="0" y1="1" x2="0" y2="0"><stop offset="0.0" stop-color="#ffffcc"/><stop offset="0.125" stop-color="#ffeda0"/><stop offset="0.25" stop-color="#fed976"/><stop offset="0.375" stop-color="#feb24c"/><stop offset="0.5" stop-color="#fd8d3c"/><stop offset="0.625" stop-color="#fc4e2a"/><stop offset="0.75" stop-color="#e31a1c"/><stop offset="0.875" stop-color="#bd0026"/><stop offset="1.0" stop-color="#800026"/></linearGradient></defs>
<rect x="316.4" y="6.5" width="9.5" height="268.4" fill="url(#ga)" fill-opacity="0.93" stroke="#3a3a3a" stroke-width="0.8"/>
<line x1="325.9" y1="274.9" x2="328.5" y2="274.9" stroke="#333" stroke-width="0.8"/>
<text x="330.9" y="278.0" font-family="Liberation Sans" font-size="8.6" fill="#1e1e1e">0.0</text>
<line x1="325.9" y1="221.21999999999997" x2="328.5" y2="221.21999999999997" stroke="#333" stroke-width="0.8"/>
<text x="330.9" y="224.31999999999996" font-family="Liberation Sans" font-size="8.6" fill="#1e1e1e">0.2</text>
<line x1="325.9" y1="167.53999999999996" x2="328.5" y2="167.53999999999996" stroke="#333" stroke-width="0.8"/>
<text x="330.9" y="170.63999999999996" font-family="Liberation Sans" font-size="8.6" fill="#1e1e1e">0.4</text>
<line x1="325.9" y1="113.85999999999996" x2="328.5" y2="113.85999999999996" stroke="#333" stroke-width="0.8"/>
<text x="330.9" y="116.95999999999995" font-family="Liberation Sans" font-size="8.6" fill="#1e1e1e">0.6</text>
<line x1="325.9" y1="60.17999999999998" x2="328.5" y2="60.17999999999998" stroke="#333" stroke-width="0.8"/>
<text x="330.9" y="63.27999999999998" font-family="Liberation Sans" font-size="8.6" fill="#1e1e1e">0.8</text>
<line x1="325.9" y1="6.5" x2="328.5" y2="6.5" stroke="#333" stroke-width="0.8"/>
<text x="330.9" y="9.6" font-family="Liberation Sans" font-size="8.6" fill="#1e1e1e">1.0</text>
<text transform="translate(351.9,140.7) rotate(-90)" font-family="Liberation Sans" font-size="9.2" fill="#1e1e1e" text-anchor="middle" textLength="70" lengthAdjust="spacingAndGlyphs">Alignment (CRA)</text>
<text x="181" y="333.8" font-family="Liberation Serif" font-size="24" fill="#000" text-anchor="middle">(a) Creation Date (Static)</text>
<rect x="415.3" y="6.5" width="271.09999999999997" height="268.4" fill="#f8f8f8"/>
<line x1="455.9" y1="6.5" x2="455.9" y2="274.9" stroke="#dedede" stroke-width="0.6" stroke-dasharray="1.7,1.5"/>
<line x1="506.4" y1="6.5" x2="506.4" y2="274.9" stroke="#dedede" stroke-width="0.6" stroke-dasharray="1.7,1.5"/>
<line x1="556.9" y1="6.5" x2="556.9" y2="274.9" stroke="#dedede" stroke-width="0.6" stroke-dasharray="1.7,1.5"/>
<line x1="607.4" y1="6.5" x2="607.4" y2="274.9" stroke="#dedede" stroke-width="0.6" stroke-dasharray="1.7,1.5"/>
<line x1="657.9" y1="6.5" x2="657.9" y2="274.9" stroke="#dedede" stroke-width="0.6" stroke-dasharray="1.7,1.5"/>
<line x1="415.3" y1="269.5" x2="686.4" y2="269.5" stroke="#dedede" stroke-width="0.6" stroke-dasharray="1.7,1.5"/>
<line x1="415.3" y1="236.3425" x2="686.4" y2="236.3425" stroke="#dedede" stroke-width="0.6" stroke-dasharray="1.7,1.5"/>
<line x1="415.3" y1="203.185" x2="686.4" y2="203.185" stroke="#dedede" stroke-width="0.6" stroke-dasharray="1.7,1.5"/>
<line x1="415.3" y1="170.0275" x2="686.4" y2="170.0275" stroke="#dedede" stroke-width="0.6" stroke-dasharray="1.7,1.5"/>
<line x1="415.3" y1="136.87" x2="686.4" y2="136.87" stroke="#dedede" stroke-width="0.6" stroke-dasharray="1.7,1.5"/>
<line x1="415.3" y1="103.7125" x2="686.4" y2="103.7125" stroke="#dedede" stroke-width="0.6" stroke-dasharray="1.7,1.5"/>
<line x1="415.3" y1="70.555" x2="686.4" y2="70.555" stroke="#dedede" stroke-width="0.6" stroke-dasharray="1.7,1.5"/>
<line x1="415.3" y1="37.39750000000001" x2="686.4" y2="37.39750000000001" stroke="#dedede" stroke-width="0.6" stroke-dasharray="1.7,1.5"/>
<line x1="512.5" y1="6.5" x2="512.5" y2="274.9" stroke="#6e6e6e" stroke-width="1" stroke-dasharray="3,1.1"/>
<line x1="415.3" y1="223.0795" x2="686.4" y2="223.0795" stroke="#6e6e6e" stroke-width="1" stroke-dasharray="3,1.1"/>
<polygon points="456.40,16.50 452.76,18.60 452.76,22.80 456.40,24.90 460.04,22.80 460.04,18.60" fill="#fffbc1" fill-opacity="0.92" stroke="#fff" stroke-width="0.7"/>
<polygon points="526.20,14.00 522.56,16.10 522.56,20.30 526.20,22.40 529.84,20.30 529.84,16.10" fill="#800026" fill-opacity="0.92" stroke="#fff" stroke-width="0.7"/>
<polygon points="531.80,24.30 528.16,26.40 528.16,30.60 531.80,32.70 535.44,30.60 535.44,26.40" fill="#ffec9e" fill-opacity="0.92" stroke="#fff" stroke-width="0.7"/>
<polygon points="507.40,47.40 503.76,49.50 503.76,53.70 507.40,55.80 511.04,53.70 511.04,49.50" fill="#800026" fill-opacity="0.92" stroke="#fff" stroke-width="0.7"/>
<polygon points="441.80,59.80 438.16,61.90 438.16,66.10 441.80,68.20 445.44,66.10 445.44,61.90" fill="#fffbc1" fill-opacity="0.92" stroke="#fff" stroke-width="0.7"/>
<polygon points="505.20,59.80 501.56,61.90 501.56,66.10 505.20,68.20 508.84,66.10 508.84,61.90" fill="#800026" fill-opacity="0.92" stroke="#fff" stroke-width="0.7"/>
<polygon points="550.90,66.30 547.26,68.40 547.26,72.60 550.90,74.70 554.54,72.60 554.54,68.40" fill="#800026" fill-opacity="0.92" stroke="#fff" stroke-width="0.7"/>
<polygon points="473.60,82.80 469.96,84.90 469.96,89.10 473.60,91.20 477.24,89.10 477.24,84.90" fill="#800026" fill-opacity="0.92" stroke="#fff" stroke-width="0.7"/>
<polygon points="506.50,84.30 502.86,86.40 502.86,90.60 506.50,92.70 510.14,90.60 510.14,86.40" fill="#bb0026" fill-opacity="0.92" stroke="#fff" stroke-width="0.7"/>
<polygon points="591.60,74.10 587.96,76.20 587.96,80.40 591.60,82.50 595.24,80.40 595.24,76.20" fill="#800026" fill-opacity="0.92" stroke="#fff" stroke-width="0.7"/>
<polygon points="511.10,110.60 507.46,112.70 507.46,116.90 511.10,119.00 514.74,116.90 514.74,112.70" fill="#fed06c" fill-opacity="0.92" stroke="#fff" stroke-width="0.7"/>
<polygon points="441.30,117.60 437.66,119.70 437.66,123.90 441.30,126.00 444.94,123.90 444.94,119.70" fill="#ffec9e" fill-opacity="0.92" stroke="#fff" stroke-width="0.7"/>
<polygon points="533.50,117.60 529.86,119.70 529.86,123.90 533.50,126.00 537.14,123.90 537.14,119.70" fill="#fffbc1" fill-opacity="0.92" stroke="#fff" stroke-width="0.7"/>
<polygon points="550.50,120.30 546.86,122.40 546.86,126.60 550.50,128.70 554.14,126.60 554.14,122.40" fill="#800026" fill-opacity="0.92" stroke="#fff" stroke-width="0.7"/>
<polygon points="443.70,125.90 440.06,128.00 440.06,132.20 443.70,134.30 447.34,132.20 447.34,128.00" fill="#feb14b" fill-opacity="0.92" stroke="#fff" stroke-width="0.7"/>
<polygon points="511.30,123.00 507.66,125.10 507.66,129.30 511.30,131.40 514.94,129.30 514.94,125.10" fill="#800026" fill-opacity="0.92" stroke="#fff" stroke-width="0.7"/>
<polygon points="485.10,128.60 481.46,130.70 481.46,134.90 485.10,137.00 488.74,134.90 488.74,130.70" fill="#800026" fill-opacity="0.92" stroke="#fff" stroke-width="0.7"/>
<polygon points="452.00,138.60 448.36,140.70 448.36,144.90 452.00,147.00 455.64,144.90 455.64,140.70" fill="#fed06c" fill-opacity="0.92" stroke="#fff" stroke-width="0.7"/>
<polygon points="448.60,138.60 444.96,140.70 444.96,144.90 448.60,147.00 452.24,144.90 452.24,140.70" fill="#e31a1c" fill-opacity="0.92" stroke="#fff" stroke-width="0.7"/>
<polygon points="445.40,142.70 441.76,144.80 441.76,149.00 445.40,151.10 449.04,149.00 449.04,144.80" fill="#fffbc1" fill-opacity="0.92" stroke="#fff" stroke-width="0.7"/>
<polygon points="471.90,138.60 468.26,140.70 468.26,144.90 471.90,147.00 475.54,144.90 475.54,140.70" fill="#fffbc1" fill-opacity="0.92" stroke="#fff" stroke-width="0.7"/>
<polygon points="508.40,138.60 504.76,140.70 504.76,144.90 508.40,147.00 512.04,144.90 512.04,140.70" fill="#800026" fill-opacity="0.92" stroke="#fff" stroke-width="0.7"/>
<polygon points="468.00,150.50 464.36,152.60 464.36,156.80 468.00,158.90 471.64,156.80 471.64,152.60" fill="#fffbc1" fill-opacity="0.92" stroke="#fff" stroke-width="0.7"/>
<polygon points="475.30,150.50 471.66,152.60 471.66,156.80 475.30,158.90 478.94,156.80 478.94,152.60" fill="#fffbc1" fill-opacity="0.92" stroke="#fff" stroke-width="0.7"/>
<polygon points="492.40,150.50 488.76,152.60 488.76,156.80 492.40,158.90 496.04,156.80 496.04,152.60" fill="#d41020" fill-opacity="0.92" stroke="#fff" stroke-width="0.7"/>
<polygon points="488.00,155.30 484.36,157.40 484.36,161.60 488.00,163.70 491.64,161.60 491.64,157.40" fill="#fffbc1" fill-opacity="0.92" stroke="#fff" stroke-width="0.7"/>
<polygon points="514.20,155.10 510.56,157.20 510.56,161.40 514.20,163.50 517.84,161.40 517.84,157.20" fill="#800026" fill-opacity="0.92" stroke="#fff" stroke-width="0.7"/>
<polygon points="522.80,155.10 519.16,157.20 519.16,161.40 522.80,163.50 526.44,161.40 526.44,157.20" fill="#ffec9e" fill-opacity="0.92" stroke="#fff" stroke-width="0.7"/>
<polygon points="456.40,160.20 452.76,162.30 452.76,166.50 456.40,168.60 460.04,166.50 460.04,162.30" fill="#fffbc1" fill-opacity="0.92" stroke="#fff" stroke-width="0.7"/>
<polygon points="468.00,160.20 464.36,162.30 464.36,166.50 468.00,168.60 471.64,166.50 471.64,162.30" fill="#fed06c" fill-opacity="0.92" stroke="#fff" stroke-width="0.7"/>
<polygon points="537.80,160.20 534.16,162.30 534.16,166.50 537.80,168.60 541.44,166.50 541.44,162.30" fill="#fffbc1" fill-opacity="0.92" stroke="#fff" stroke-width="0.7"/>
<polygon points="447.10,164.60 443.46,166.70 443.46,170.90 447.10,173.00 450.74,170.90 450.74,166.70" fill="#fffbc1" fill-opacity="0.92" stroke="#fff" stroke-width="0.7"/>
<polygon points="497.70,164.60 494.06,166.70 494.06,170.90 497.70,173.00 501.34,170.90 501.34,166.70" fill="#fffbc1" fill-opacity="0.92" stroke="#fff" stroke-width="0.7"/>
<polygon points="517.20,164.60 513.56,166.70 513.56,170.90 517.20,173.00 520.84,170.90 520.84,166.70" fill="#fffbc1" fill-opacity="0.92" stroke="#fff" stroke-width="0.7"/>
<polygon points="540.30,164.60 536.66,166.70 536.66,170.90 540.30,173.00 543.94,170.90 543.94,166.70" fill="#800026" fill-opacity="0.92" stroke="#fff" stroke-width="0.7"/>
<polygon points="558.50,102.60 554.86,104.70 554.86,108.90 558.50,111.00 562.14,108.90 562.14,104.70" fill="#800026" fill-opacity="0.92" stroke="#fff" stroke-width="0.7"/>
<polygon points="558.00,125.90 554.36,128.00 554.36,132.20 558.00,134.30 561.64,132.20 561.64,128.00" fill="#bb0026" fill-opacity="0.92" stroke="#fff" stroke-width="0.7"/>
<polygon points="606.00,120.30 602.36,122.40 602.36,126.60 606.00,128.70 609.64,126.60 609.64,122.40" fill="#800026" fill-opacity="0.92" stroke="#fff" stroke-width="0.7"/>
<polygon points="613.70,123.00 610.06,125.10 610.06,129.30 613.70,131.40 617.34,129.30 617.34,125.10" fill="#800026" fill-opacity="0.92" stroke="#fff" stroke-width="0.7"/>
<polygon points="565.10,146.30 561.46,148.40 561.46,152.60 565.10,154.70 568.74,152.60 568.74,148.40" fill="#800026" fill-opacity="0.92" stroke="#fff" stroke-width="0.7"/>
<polygon points="573.60,150.50 569.96,152.60 569.96,156.80 573.60,158.90 577.24,156.80 577.24,152.60" fill="#fffbc1" fill-opacity="0.92" stroke="#fff" stroke-width="0.7"/>
<polygon points="565.10,155.30 561.46,157.40 561.46,161.60 565.10,163.70 568.74,161.60 568.74,157.40" fill="#ffe48e" fill-opacity="0.92" stroke="#fff" stroke-width="0.7"/>
<polygon points="576.80,164.60 573.16,166.70 573.16,170.90 576.80,173.00 580.44,170.90 580.44,166.70" fill="#800026" fill-opacity="0.92" stroke="#fff" stroke-width="0.7"/>
<polygon points="584.10,164.60 580.46,166.70 580.46,170.90 584.10,173.00 587.74,170.90 587.74,166.70" fill="#800026" fill-opacity="0.92" stroke="#fff" stroke-width="0.7"/>
<polygon points="449.10,172.10 445.46,174.20 445.46,178.40 449.10,180.50 452.74,178.40 452.74,174.20" fill="#f74427" fill-opacity="0.92" stroke="#fff" stroke-width="0.7"/>
<polygon points="470.50,172.10 466.86,174.20 466.86,178.40 470.50,180.50 474.14,178.40 474.14,174.20" fill="#fffbc1" fill-opacity="0.92" stroke="#fff" stroke-width="0.7"/>
<polygon points="477.00,172.10 473.36,174.20 473.36,178.40 477.00,180.50 480.64,178.40 480.64,174.20" fill="#800026" fill-opacity="0.92" stroke="#fff" stroke-width="0.7"/>
<polygon points="492.40,172.10 488.76,174.20 488.76,178.40 492.40,180.50 496.04,178.40 496.04,174.20" fill="#fffbc1" fill-opacity="0.92" stroke="#fff" stroke-width="0.7"/>
<polygon points="499.70,172.10 496.06,174.20 496.06,178.40 499.70,180.50 503.34,178.40 503.34,174.20" fill="#fffbc1" fill-opacity="0.92" stroke="#fff" stroke-width="0.7"/>
<polygon points="505.50,172.10 501.86,174.20 501.86,178.40 505.50,180.50 509.14,178.40 509.14,174.20" fill="#fffbc1" fill-opacity="0.92" stroke="#fff" stroke-width="0.7"/>
<polygon points="548.10,172.10 544.46,174.20 544.46,178.40 548.10,180.50 551.74,178.40 551.74,174.20" fill="#800026" fill-opacity="0.92" stroke="#fff" stroke-width="0.7"/>
<polygon points="588.00,172.10 584.36,174.20 584.36,178.40 588.00,180.50 591.64,178.40 591.64,174.20" fill="#800026" fill-opacity="0.92" stroke="#fff" stroke-width="0.7"/>
<polygon points="601.80,172.10 598.16,174.20 598.16,178.40 601.80,180.50 605.44,178.40 605.44,174.20" fill="#800026" fill-opacity="0.92" stroke="#fff" stroke-width="0.7"/>
<polygon points="606.40,172.10 602.76,174.20 602.76,178.40 606.40,180.50 610.04,178.40 610.04,174.20" fill="#b10026" fill-opacity="0.92" stroke="#fff" stroke-width="0.7"/>
<polygon points="438.60,178.90 434.96,181.00 434.96,185.20 438.60,187.30 442.24,185.20 442.24,181.00" fill="#fffbc1" fill-opacity="0.92" stroke="#fff" stroke-width="0.7"/>
<polygon points="446.60,178.90 442.96,181.00 442.96,185.20 446.60,187.30 450.24,185.20 450.24,181.00" fill="#fffbc1" fill-opacity="0.92" stroke="#fff" stroke-width="0.7"/>
<polygon points="453.90,178.90 450.26,181.00 450.26,185.20 453.90,187.30 457.54,185.20 457.54,181.00" fill="#fffbc1" fill-opacity="0.92" stroke="#fff" stroke-width="0.7"/>
<polygon points="473.90,178.90 470.26,181.00 470.26,185.20 473.90,187.30 477.54,185.20 477.54,181.00" fill="#ffe48e" fill-opacity="0.92" stroke="#fff" stroke-width="0.7"/>
<polygon points="481.90,178.90 478.26,181.00 478.26,185.20 481.90,187.30 485.54,185.20 485.54,181.00" fill="#fffbc1" fill-opacity="0.92" stroke="#fff" stroke-width="0.7"/>
<polygon points="488.50,178.90 484.86,181.00 484.86,185.20 488.50,187.30 492.14,185.20 492.14,181.00" fill="#feb14b" fill-opacity="0.92" stroke="#fff" stroke-width="0.7"/>
<polygon points="521.30,178.90 517.66,181.00 517.66,185.20 521.30,187.30 524.94,185.20 524.94,181.00" fill="#fffbc1" fill-opacity="0.92" stroke="#fff" stroke-width="0.7"/>
<polygon points="527.40,178.90 523.76,181.00 523.76,185.20 527.40,187.30 531.04,185.20 531.04,181.00" fill="#ffec9e" fill-opacity="0.92" stroke="#fff" stroke-width="0.7"/>
<polygon points="569.00,178.90 565.36,181.00 565.36,185.20 569.00,187.30 572.64,185.20 572.64,181.00" fill="#800026" fill-opacity="0.92" stroke="#fff" stroke-width="0.7"/>
<polygon points="578.20,178.90 574.56,181.00 574.56,185.20 578.20,187.30 581.84,185.20 581.84,181.00" fill="#800026" fill-opacity="0.92" stroke="#fff" stroke-width="0.7"/>
<polygon points="609.40,178.90 605.76,181.00 605.76,185.20 609.40,187.30 613.04,185.20 613.04,181.00" fill="#800026" fill-opacity="0.92" stroke="#fff" stroke-width="0.7"/>
<polygon points="441.00,186.40 437.36,188.50 437.36,192.70 441.00,194.80 444.64,192.70 444.64,188.50" fill="#fff3b0" fill-opacity="0.92" stroke="#fff" stroke-width="0.7"/>
<polygon points="452.70,186.40 449.06,188.50 449.06,192.70 452.70,194.80 456.34,192.70 456.34,188.50" fill="#fffbc1" fill-opacity="0.92" stroke="#fff" stroke-width="0.7"/>
<polygon points="464.60,186.40 460.96,188.50 460.96,192.70 464.60,194.80 468.24,192.70 468.24,188.50" fill="#feb14b" fill-opacity="0.92" stroke="#fff" stroke-width="0.7"/>
<polygon points="476.50,186.40 472.86,188.50 472.86,192.70 476.50,194.80 480.14,192.70 480.14,188.50" fill="#fffbc1" fill-opacity="0.92" stroke="#fff" stroke-width="0.7"/>
<polygon points="492.40,186.40 488.76,188.50 488.76,192.70 492.40,194.80 496.04,192.70 496.04,188.50" fill="#ed2f22" fill-opacity="0.92" stroke="#fff" stroke-width="0.7"/>
<polygon points="498.90,186.40 495.26,188.50 495.26,192.70 498.90,194.80 502.54,192.70 502.54,188.50" fill="#fffbc1" fill-opacity="0.92" stroke="#fff" stroke-width="0.7"/>
<polygon points="505.00,186.40 501.36,188.50 501.36,192.70 505.00,194.80 508.64,192.70 508.64,188.50" fill="#800026" fill-opacity="0.92" stroke="#fff" stroke-width="0.7"/>
<polygon points="519.60,186.40 515.96,188.50 515.96,192.70 519.60,194.80 523.24,192.70 523.24,188.50" fill="#800026" fill-opacity="0.92" stroke="#fff" stroke-width="0.7"/>
<polygon points="546.40,186.40 542.76,188.50 542.76,192.70 546.40,194.80 550.04,192.70 550.04,188.50" fill="#fff3b0" fill-opacity="0.92" stroke="#fff" stroke-width="0.7"/>
<polygon points="553.60,186.40 549.96,188.50 549.96,192.70 553.60,194.80 557.24,192.70 557.24,188.50" fill="#fffbc1" fill-opacity="0.92" stroke="#fff" stroke-width="0.7"/>
<polygon points="604.70,186.40 601.06,188.50 601.06,192.70 604.70,194.80 608.34,192.70 608.34,188.50" fill="#800026" fill-opacity="0.92" stroke="#fff" stroke-width="0.7"/>
<polygon points="631.00,186.40 627.36,188.50 627.36,192.70 631.00,194.80 634.64,192.70 634.64,188.50" fill="#800026" fill-opacity="0.92" stroke="#fff" stroke-width="0.7"/>
<polygon points="427.90,195.00 424.26,197.10 424.26,201.30 427.90,203.40 431.54,201.30 431.54,197.10" fill="#ffec9e" fill-opacity="0.92" stroke="#fff" stroke-width="0.7"/>
<polygon points="475.80,195.00 472.16,197.10 472.16,201.30 475.80,203.40 479.44,201.30 479.44,197.10" fill="#fffbc1" fill-opacity="0.92" stroke="#fff" stroke-width="0.7"/>
<polygon points="480.20,195.00 476.56,197.10 476.56,201.30 480.20,203.40 483.84,201.30 483.84,197.10" fill="#fffbc1" fill-opacity="0.92" stroke="#fff" stroke-width="0.7"/>
<polygon points="492.40,195.00 488.76,197.10 488.76,201.30 492.40,203.40 496.04,201.30 496.04,197.10" fill="#800026" fill-opacity="0.92" stroke="#fff" stroke-width="0.7"/>
<polygon points="489.20,195.00 485.56,197.10 485.56,201.30 489.20,203.40 492.84,201.30 492.84,197.10" fill="#fed06c" fill-opacity="0.92" stroke="#fff" stroke-width="0.7"/>
<polygon points="511.10,195.00 507.46,197.10 507.46,201.30 511.10,203.40 514.74,201.30 514.74,197.10" fill="#fffbc1" fill-opacity="0.92" stroke="#fff" stroke-width="0.7"/>
<polygon points="514.70,195.00 511.06,197.10 511.06,201.30 514.70,203.40 518.34,201.30 518.34,197.10" fill="#fffbc1" fill-opacity="0.92" stroke="#fff" stroke-width="0.7"/>
<polygon points="518.40,195.00 514.76,197.10 514.76,201.30 518.40,203.40 522.04,201.30 522.04,197.10" fill="#ffe48e" fill-opacity="0.92" stroke="#fff" stroke-width="0.7"/>
<polygon points="525.20,195.00 521.56,197.10 521.56,201.30 525.20,203.40 528.84,201.30 528.84,197.10" fill="#800026" fill-opacity="0.92" stroke="#fff" stroke-width="0.7"/>
<polygon points="531.80,195.00 528.16,197.10 528.16,201.30 531.80,203.40 535.44,201.30 535.44,197.10" fill="#800026" fill-opacity="0.92" stroke="#fff" stroke-width="0.7"/>
<polygon points="556.80,195.00 553.16,197.10 553.16,201.30 556.80,203.40 560.44,201.30 560.44,197.10" fill="#fffbc1" fill-opacity="0.92" stroke="#fff" stroke-width="0.7"/>
<polygon points="560.50,195.00 556.86,197.10 556.86,201.30 560.50,203.40 564.14,201.30 564.14,197.10" fill="#fed06c" fill-opacity="0.92" stroke="#fff" stroke-width="0.7"/>
<polygon points="601.80,195.00 598.16,197.10 598.16,201.30 601.80,203.40 605.44,201.30 605.44,197.10" fill="#800026" fill-opacity="0.92" stroke="#fff" stroke-width="0.7"/>
<polygon points="449.10,205.90 445.46,208.00 445.46,212.20 449.10,214.30 452.74,212.20 452.74,208.00" fill="#fffbc1" fill-opacity="0.92" stroke="#fff" stroke-width="0.7"/>
<polygon points="452.70,205.90 449.06,208.00 449.06,212.20 452.70,214.30 456.34,212.20 456.34,208.00" fill="#fffbc1" fill-opacity="0.92" stroke="#fff" stroke-width="0.7"/>
<polygon points="460.50,205.90 456.86,208.00 456.86,212.20 460.50,214.30 464.14,212.20 464.14,208.00" fill="#fffbc1" fill-opacity="0.92" stroke="#fff" stroke-width="0.7"/>
<polygon points="467.30,205.90 463.66,208.00 463.66,212.20 467.30,214.30 470.94,212.20 470.94,208.00" fill="#800026" fill-opacity="0.92" stroke="#fff" stroke-width="0.7"/>
<polygon points="473.40,205.90 469.76,208.00 469.76,212.20 473.40,214.30 477.04,212.20 477.04,208.00" fill="#fffbc1" fill-opacity="0.92" stroke="#fff" stroke-width="0.7"/>
<polygon points="483.80,205.90 480.16,208.00 480.16,212.20 483.80,214.30 487.44,212.20 487.44,208.00" fill="#c50524" fill-opacity="0.92" stroke="#fff" stroke-width="0.7"/>
<polygon points="491.60,205.90 487.96,208.00 487.96,212.20 491.60,214.30 495.24,212.20 495.24,208.00" fill="#fffbc1" fill-opacity="0.92" stroke="#fff" stroke-width="0.7"/>
<polygon points="509.90,205.90 506.26,208.00 506.26,212.20 509.90,214.30 513.54,212.20 513.54,208.00" fill="#f74427" fill-opacity="0.92" stroke="#fff" stroke-width="0.7"/>
<polygon points="524.50,205.90 520.86,208.00 520.86,212.20 524.50,214.30 528.14,212.20 528.14,208.00" fill="#fffbc1" fill-opacity="0.92" stroke="#fff" stroke-width="0.7"/>
<polygon points="531.80,205.90 528.16,208.00 528.16,212.20 531.80,214.30 535.44,212.20 535.44,208.00" fill="#c50524" fill-opacity="0.92" stroke="#fff" stroke-width="0.7"/>
<polygon points="537.80,205.90 534.16,208.00 534.16,212.20 537.80,214.30 541.44,212.20 541.44,208.00" fill="#800026" fill-opacity="0.92" stroke="#fff" stroke-width="0.7"/>
<polygon points="545.10,205.90 541.46,208.00 541.46,212.20 545.10,214.30 548.74,212.20 548.74,208.00" fill="#ffe48e" fill-opacity="0.92" stroke="#fff" stroke-width="0.7"/>
<polygon points="552.40,205.90 548.76,208.00 548.76,212.20 552.40,214.30 556.04,212.20 556.04,208.00" fill="#800026" fill-opacity="0.92" stroke="#fff" stroke-width="0.7"/>
<polygon points="558.50,205.90 554.86,208.00 554.86,212.20 558.50,214.30 562.14,212.20 562.14,208.00" fill="#fffbc1" fill-opacity="0.92" stroke="#fff" stroke-width="0.7"/>
<polygon points="566.30,205.90 562.66,208.00 562.66,212.20 566.30,214.30 569.94,212.20 569.94,208.00" fill="#800026" fill-opacity="0.92" stroke="#fff" stroke-width="0.7"/>
<polygon points="573.10,205.90 569.46,208.00 569.46,212.20 573.10,214.30 576.74,212.20 576.74,208.00" fill="#800026" fill-opacity="0.92" stroke="#fff" stroke-width="0.7"/>
<polygon points="579.90,205.90 576.26,208.00 576.26,212.20 579.90,214.30 583.54,212.20 583.54,208.00" fill="#800026" fill-opacity="0.92" stroke="#fff" stroke-width="0.7"/>
<polygon points="652.20,205.90 648.56,208.00 648.56,212.20 652.20,214.30 655.84,212.20 655.84,208.00" fill="#ffe48e" fill-opacity="0.92" stroke="#fff" stroke-width="0.7"/>
<polygon points="431.30,218.60 427.66,220.70 427.66,224.90 431.30,227.00 434.94,224.90 434.94,220.70" fill="#ffec9e" fill-opacity="0.92" stroke="#fff" stroke-width="0.7"/>
<polygon points="440.10,218.60 436.46,220.70 436.46,224.90 440.10,227.00 443.74,224.90 443.74,220.70" fill="#800026" fill-opacity="0.92" stroke="#fff" stroke-width="0.7"/>
<polygon points="462.00,218.60 458.36,220.70 458.36,224.90 462.00,227.00 465.64,224.90 465.64,220.70" fill="#b10026" fill-opacity="0.92" stroke="#fff" stroke-width="0.7"/>
<polygon points="465.40,218.60 461.76,220.70 461.76,224.90 465.40,227.00 469.04,224.90 469.04,220.70" fill="#800026" fill-opacity="0.92" stroke="#fff" stroke-width="0.7"/>
<polygon points="471.00,218.60 467.36,220.70 467.36,224.90 471.00,227.00 474.64,224.90 474.64,220.70" fill="#fd8d3c" fill-opacity="0.92" stroke="#fff" stroke-width="0.7"/>
<polygon points="477.00,218.60 473.36,220.70 473.36,224.90 477.00,227.00 480.64,224.90 480.64,220.70" fill="#800026" fill-opacity="0.92" stroke="#fff" stroke-width="0.7"/>
<polygon points="484.30,218.60 480.66,220.70 480.66,224.90 484.30,227.00 487.94,224.90 487.94,220.70" fill="#fed06c" fill-opacity="0.92" stroke="#fff" stroke-width="0.7"/>
<polygon points="490.40,218.60 486.76,220.70 486.76,224.90 490.40,227.00 494.04,224.90 494.04,220.70" fill="#fffbc1" fill-opacity="0.92" stroke="#fff" stroke-width="0.7"/>
<polygon points="497.20,218.60 493.56,220.70 493.56,224.90 497.20,227.00 500.84,224.90 500.84,220.70" fill="#fffbc1" fill-opacity="0.92" stroke="#fff" stroke-width="0.7"/>
<polygon points="503.80,218.60 500.16,220.70 500.16,224.90 503.80,227.00 507.44,224.90 507.44,220.70" fill="#fff3b0" fill-opacity="0.92" stroke="#fff" stroke-width="0.7"/>
<polygon points="512.30,218.60 508.66,220.70 508.66,224.90 512.30,227.00 515.94,224.90 515.94,220.70" fill="#fffbc1" fill-opacity="0.92" stroke="#fff" stroke-width="0.7"/>
<polygon points="519.60,218.60 515.96,220.70 515.96,224.90 519.60,227.00 523.24,224.90 523.24,220.70" fill="#fffbc1" fill-opacity="0.92" stroke="#fff" stroke-width="0.7"/>
<polygon points="531.30,218.60 527.66,220.70 527.66,224.90 531.30,227.00 534.94,224.90 534.94,220.70" fill="#fd8d3c" fill-opacity="0.92" stroke="#fff" stroke-width="0.7"/>
<polygon points="537.80,218.60 534.16,220.70 534.16,224.90 537.80,227.00 541.44,224.90 541.44,220.70" fill="#fffbc1" fill-opacity="0.92" stroke="#fff" stroke-width="0.7"/>
<polygon points="553.60,218.60 549.96,220.70 549.96,224.90 553.60,227.00 557.24,224.90 557.24,220.70" fill="#fffbc1" fill-opacity="0.92" stroke="#fff" stroke-width="0.7"/>
<polygon points="567.50,218.60 563.86,220.70 563.86,224.90 567.50,227.00 571.14,224.90 571.14,220.70" fill="#800026" fill-opacity="0.92" stroke="#fff" stroke-width="0.7"/>
<polygon points="573.60,218.60 569.96,220.70 569.96,224.90 573.60,227.00 577.24,224.90 577.24,220.70" fill="#c50524" fill-opacity="0.92" stroke="#fff" stroke-width="0.7"/>
<polygon points="578.00,218.60 574.36,220.70 574.36,224.90 578.00,227.00 581.64,224.90 581.64,220.70" fill="#800026" fill-opacity="0.92" stroke="#fff" stroke-width="0.7"/>
<polygon points="605.20,218.60 601.56,220.70 601.56,224.90 605.20,227.00 608.84,224.90 608.84,220.70" fill="#c50524" fill-opacity="0.92" stroke="#fff" stroke-width="0.7"/>
<polygon points="625.90,218.60 622.26,220.70 622.26,224.90 625.90,227.00 629.54,224.90 629.54,220.70" fill="#fec662" fill-opacity="0.92" stroke="#fff" stroke-width="0.7"/>
<polygon points="633.90,218.60 630.26,220.70 630.26,224.90 633.90,227.00 637.54,224.90 637.54,220.70" fill="#fffbc1" fill-opacity="0.92" stroke="#fff" stroke-width="0.7"/>
<polygon points="439.30,235.10 435.66,237.20 435.66,241.40 439.30,243.50 442.94,241.40 442.94,237.20" fill="#fffbc1" fill-opacity="0.92" stroke="#fff" stroke-width="0.7"/>
<polygon points="443.00,235.10 439.36,237.20 439.36,241.40 443.00,243.50 446.64,241.40 446.64,237.20" fill="#fffbc1" fill-opacity="0.92" stroke="#fff" stroke-width="0.7"/>
<polygon points="451.00,235.10 447.36,237.20 447.36,241.40 451.00,243.50 454.64,241.40 454.64,237.20" fill="#fffbc1" fill-opacity="0.92" stroke="#fff" stroke-width="0.7"/>
<polygon points="455.10,235.10 451.46,237.20 451.46,241.40 455.10,243.50 458.74,241.40 458.74,237.20" fill="#fffbc1" fill-opacity="0.92" stroke="#fff" stroke-width="0.7"/>
<polygon points="461.70,235.10 458.06,237.20 458.06,241.40 461.70,243.50 465.34,241.40 465.34,237.20" fill="#800026" fill-opacity="0.92" stroke="#fff" stroke-width="0.7"/>
<polygon points="473.90,235.10 470.26,237.20 470.26,241.40 473.90,243.50 477.54,241.40 477.54,237.20" fill="#fff3b0" fill-opacity="0.92" stroke="#fff" stroke-width="0.7"/>
<polygon points="486.00,235.10 482.36,237.20 482.36,241.40 486.00,243.50 489.64,241.40 489.64,237.20" fill="#800026" fill-opacity="0.92" stroke="#fff" stroke-width="0.7"/>
<polygon points="492.80,235.10 489.16,237.20 489.16,241.40 492.80,243.50 496.44,241.40 496.44,237.20" fill="#fffbc1" fill-opacity="0.92" stroke="#fff" stroke-width="0.7"/>
<polygon points="499.70,235.10 496.06,237.20 496.06,241.40 499.70,243.50 503.34,241.40 503.34,237.20" fill="#f74427" fill-opacity="0.92" stroke="#fff" stroke-width="0.7"/>
<polygon points="507.00,235.10 503.36,237.20 503.36,241.40 507.00,243.50 510.64,241.40 510.64,237.20" fill="#fffbc1" fill-opacity="0.92" stroke="#fff" stroke-width="0.7"/>
<polygon points="535.90,235.10 532.26,237.20 532.26,241.40 535.90,243.50 539.54,241.40 539.54,237.20" fill="#fed06c" fill-opacity="0.92" stroke="#fff" stroke-width="0.7"/>
<polygon points="552.90,235.10 549.26,237.20 549.26,241.40 552.90,243.50 556.54,241.40 556.54,237.20" fill="#800026" fill-opacity="0.92" stroke="#fff" stroke-width="0.7"/>
<polygon points="564.60,235.10 560.96,237.20 560.96,241.40 564.60,243.50 568.24,241.40 568.24,237.20" fill="#800026" fill-opacity="0.92" stroke="#fff" stroke-width="0.7"/>
<polygon points="568.20,235.10 564.56,237.20 564.56,241.40 568.20,243.50 571.84,241.40 571.84,237.20" fill="#800026" fill-opacity="0.92" stroke="#fff" stroke-width="0.7"/>
<polygon points="572.60,235.10 568.96,237.20 568.96,241.40 572.60,243.50 576.24,241.40 576.24,237.20" fill="#800026" fill-opacity="0.92" stroke="#fff" stroke-width="0.7"/>
<polygon points="578.50,235.10 574.86,237.20 574.86,241.40 578.50,243.50 582.14,241.40 582.14,237.20" fill="#800026" fill-opacity="0.92" stroke="#fff" stroke-width="0.7"/>
<polygon points="584.10,235.10 580.46,237.20 580.46,241.40 584.10,243.50 587.74,241.40 587.74,237.20" fill="#800026" fill-opacity="0.92" stroke="#fff" stroke-width="0.7"/>
<polygon points="596.70,235.10 593.06,237.20 593.06,241.40 596.70,243.50 600.34,241.40 600.34,237.20" fill="#ffec9e" fill-opacity="0.92" stroke="#fff" stroke-width="0.7"/>
<polygon points="616.90,235.10 613.26,237.20 613.26,241.40 616.90,243.50 620.54,241.40 620.54,237.20" fill="#d41020" fill-opacity="0.92" stroke="#fff" stroke-width="0.7"/>
<polygon points="621.80,235.10 618.16,237.20 618.16,241.40 621.80,243.50 625.44,241.40 625.44,237.20" fill="#fffbc1" fill-opacity="0.92" stroke="#fff" stroke-width="0.7"/>
<polygon points="440.50,258.60 436.86,260.70 436.86,264.90 440.50,267.00 444.14,264.90 444.14,260.70" fill="#fffbc1" fill-opacity="0.92" stroke="#fff" stroke-width="0.7"/>
<polygon points="446.10,258.60 442.46,260.70 442.46,264.90 446.10,267.00 449.74,264.90 449.74,260.70" fill="#fffbc1" fill-opacity="0.92" stroke="#fff" stroke-width="0.7"/>
<polygon points="452.70,258.60 449.06,260.70 449.06,264.90 452.70,267.00 456.34,264.90 456.34,260.70" fill="#fffbc1" fill-opacity="0.92" stroke="#fff" stroke-width="0.7"/>
<polygon points="462.40,258.60 458.76,260.70 458.76,264.90 462.40,267.00 466.04,264.90 466.04,260.70" fill="#fffbc1" fill-opacity="0.92" stroke="#fff" stroke-width="0.7"/>
<polygon points="468.00,258.60 464.36,260.70 464.36,264.90 468.00,267.00 471.64,264.90 471.64,260.70" fill="#fffbc1" fill-opacity="0.92" stroke="#fff" stroke-width="0.7"/>
<polygon points="474.60,258.60 470.96,260.70 470.96,264.90 474.60,267.00 478.24,264.90 478.24,260.70" fill="#fffbc1" fill-opacity="0.92" stroke="#fff" stroke-width="0.7"/>
<polygon points="485.50,258.60 481.86,260.70 481.86,264.90 485.50,267.00 489.14,264.90 489.14,260.70" fill="#b10026" fill-opacity="0.92" stroke="#fff" stroke-width="0.7"/>
<polygon points="490.90,258.60 487.26,260.70 487.26,264.90 490.90,267.00 494.54,264.90 494.54,260.70" fill="#800026" fill-opacity="0.92" stroke="#fff" stroke-width="0.7"/>
<polygon points="497.20,258.60 493.56,260.70 493.56,264.90 497.20,267.00 500.84,264.90 500.84,260.70" fill="#fd8d3c" fill-opacity="0.92" stroke="#fff" stroke-width="0.7"/>
<polygon points="503.80,258.60 500.16,260.70 500.16,264.90 503.80,267.00 507.44,264.90 507.44,260.70" fill="#fffbc1" fill-opacity="0.92" stroke="#fff" stroke-width="0.7"/>
<polygon points="510.40,258.60 506.76,260.70 506.76,264.90 510.40,267.00 514.04,264.90 514.04,260.70" fill="#fff1a9" fill-opacity="0.92" stroke="#fff" stroke-width="0.7"/>
<polygon points="518.40,258.60 514.76,260.70 514.76,264.90 518.40,267.00 522.04,264.90 522.04,260.70" fill="#fffbc1" fill-opacity="0.92" stroke="#fff" stroke-width="0.7"/>
<polygon points="528.80,258.60 525.16,260.70 525.16,264.90 528.80,267.00 532.44,264.90 532.44,260.70" fill="#800026" fill-opacity="0.92" stroke="#fff" stroke-width="0.7"/>
<polygon points="536.60,258.60 532.96,260.70 532.96,264.90 536.60,267.00 540.24,264.90 540.24,260.70" fill="#fff3b0" fill-opacity="0.92" stroke="#fff" stroke-width="0.7"/>
<polygon points="543.70,258.60 540.06,260.70 540.06,264.90 543.70,267.00 547.34,264.90 547.34,260.70" fill="#800026" fill-opacity="0.92" stroke="#fff" stroke-width="0.7"/>
<polygon points="547.90,258.60 544.26,260.70 544.26,264.90 547.90,267.00 551.54,264.90 551.54,260.70" fill="#800026" fill-opacity="0.92" stroke="#fff" stroke-width="0.7"/>
<polygon points="556.40,258.60 552.76,260.70 552.76,264.90 556.40,267.00 560.04,264.90 560.04,260.70" fill="#fffbc1" fill-opacity="0.92" stroke="#fff" stroke-width="0.7"/>
<polygon points="561.00,258.60 557.36,260.70 557.36,264.90 561.00,267.00 564.64,264.90 564.64,260.70" fill="#e31a1c" fill-opacity="0.92" stroke="#fff" stroke-width="0.7"/>
<polygon points="565.80,258.60 562.16,260.70 562.16,264.90 565.80,267.00 569.44,264.90 569.44,260.70" fill="#fd8d3c" fill-opacity="0.92" stroke="#fff" stroke-width="0.7"/>
<polygon points="570.70,258.60 567.06,260.70 567.06,264.90 570.70,267.00 574.34,264.90 574.34,260.70" fill="#fedc7d" fill-opacity="0.92" stroke="#fff" stroke-width="0.7"/>
<polygon points="580.40,258.60 576.76,260.70 576.76,264.90 580.40,267.00 584.04,264.90 584.04,260.70" fill="#800026" fill-opacity="0.92" stroke="#fff" stroke-width="0.7"/>
<polygon points="588.40,258.60 584.76,260.70 584.76,264.90 588.40,267.00 592.04,264.90 592.04,260.70" fill="#fedc7d" fill-opacity="0.92" stroke="#fff" stroke-width="0.7"/>
<polygon points="601.10,258.60 597.46,260.70 597.46,264.90 601.10,267.00 604.74,264.90 604.74,260.70" fill="#fffbc1" fill-opacity="0.92" stroke="#fff" stroke-width="0.7"/>
<polygon points="604.70,258.60 601.06,260.70 601.06,264.90 604.70,267.00 608.34,264.90 608.34,260.70" fill="#fff3b0" fill-opacity="0.92" stroke="#fff" stroke-width="0.7"/>
<polygon points="622.20,258.60 618.56,260.70 618.56,264.90 622.20,267.00 625.84,264.90 625.84,260.70" fill="#800026" fill-opacity="0.92" stroke="#fff" stroke-width="0.7"/>
<polygon points="631.50,258.60 627.86,260.70 627.86,264.90 631.50,267.00 635.14,264.90 635.14,260.70" fill="#800026" fill-opacity="0.92" stroke="#fff" stroke-width="0.7"/>
<polygon points="662.40,258.60 658.76,260.70 658.76,264.90 662.40,267.00 666.04,264.90 666.04,260.70" fill="#bb0026" fill-opacity="0.92" stroke="#fff" stroke-width="0.7"/>
<polygon points="674.10,258.60 670.46,260.70 670.46,264.90 674.10,267.00 677.74,264.90 677.74,260.70" fill="#800026" fill-opacity="0.92" stroke="#fff" stroke-width="0.7"/>
<rect x="598.5" y="9.5" width="84" height="30" fill="#fff" fill-opacity="0.7"/>
<text x="680.5" y="16.7" font-family="Liberation Sans" font-size="6.9" fill="#222" text-anchor="end" textLength="77.3" lengthAdjust="spacingAndGlyphs">High IM, High F: A=0.57</text>
<text x="680.5" y="24.1" font-family="Liberation Sans" font-size="6.9" fill="#222" text-anchor="end" textLength="75.69" lengthAdjust="spacingAndGlyphs">Low IM, High F: A=0.34</text>
<text x="680.5" y="31.5" font-family="Liberation Sans" font-size="6.9" fill="#222" text-anchor="end" textLength="75.69" lengthAdjust="spacingAndGlyphs">High IM, Low F: A=0.43</text>
<text x="680.5" y="38.900000000000006" font-family="Liberation Sans" font-size="6.9" fill="#222" text-anchor="end" textLength="74.08" lengthAdjust="spacingAndGlyphs">Low IM, Low F: A=0.20</text>
<rect x="415.3" y="6.5" width="271.09999999999997" height="268.4" fill="none" stroke="#6c6c6c" stroke-width="1.2"/>
<line x1="455.9" y1="274.9" x2="455.9" y2="277.5" stroke="#333" stroke-width="0.8"/>
<text x="455.9" y="287.09999999999997" font-family="Liberation Sans" font-size="8.6" fill="#1e1e1e" text-anchor="middle">0.1</text>
<line x1="506.4" y1="274.9" x2="506.4" y2="277.5" stroke="#333" stroke-width="0.8"/>
<text x="506.4" y="287.09999999999997" font-family="Liberation Sans" font-size="8.6" fill="#1e1e1e" text-anchor="middle">0.2</text>
<line x1="556.9" y1="274.9" x2="556.9" y2="277.5" stroke="#333" stroke-width="0.8"/>
<text x="556.9" y="287.09999999999997" font-family="Liberation Sans" font-size="8.6" fill="#1e1e1e" text-anchor="middle">0.3</text>
<line x1="607.4" y1="274.9" x2="607.4" y2="277.5" stroke="#333" stroke-width="0.8"/>
<text x="607.4" y="287.09999999999997" font-family="Liberation Sans" font-size="8.6" fill="#1e1e1e" text-anchor="middle">0.4</text>
<line x1="657.9" y1="274.9" x2="657.9" y2="277.5" stroke="#333" stroke-width="0.8"/>
<text x="657.9" y="287.09999999999997" font-family="Liberation Sans" font-size="8.6" fill="#1e1e1e" text-anchor="middle">0.5</text>
<line x1="412.7" y1="269.5" x2="415.3" y2="269.5" stroke="#333" stroke-width="0.8"/>
<text x="410.3" y="272.6" font-family="Liberation Sans" font-size="8.6" fill="#1e1e1e" text-anchor="end">25</text>
<line x1="412.7" y1="236.3425" x2="415.3" y2="236.3425" stroke="#333" stroke-width="0.8"/>
<text x="410.3" y="239.4425" font-family="Liberation Sans" font-size="8.6" fill="#1e1e1e" text-anchor="end">50</text>
<line x1="412.7" y1="203.185" x2="415.3" y2="203.185" stroke="#333" stroke-width="0.8"/>
<text x="410.3" y="206.285" font-family="Liberation Sans" font-size="8.6" fill="#1e1e1e" text-anchor="end">75</text>
<line x1="412.7" y1="170.0275" x2="415.3" y2="170.0275" stroke="#333" stroke-width="0.8"/>
<text x="410.3" y="173.1275" font-family="Liberation Sans" font-size="8.6" fill="#1e1e1e" text-anchor="end">100</text>
<line x1="412.7" y1="136.87" x2="415.3" y2="136.87" stroke="#333" stroke-width="0.8"/>
<text x="410.3" y="139.97" font-family="Liberation Sans" font-size="8.6" fill="#1e1e1e" text-anchor="end">125</text>
<line x1="412.7" y1="103.7125" x2="415.3" y2="103.7125" stroke="#333" stroke-width="0.8"/>
<text x="410.3" y="106.8125" font-family="Liberation Sans" font-size="8.6" fill="#1e1e1e" text-anchor="end">150</text>
<line x1="412.7" y1="70.555" x2="415.3" y2="70.555" stroke="#333" stroke-width="0.8"/>
<text x="410.3" y="73.655" font-family="Liberation Sans" font-size="8.6" fill="#1e1e1e" text-anchor="end">175</text>
<line x1="412.7" y1="37.39750000000001" x2="415.3" y2="37.39750000000001" stroke="#333" stroke-width="0.8"/>
<text x="410.3" y="40.49750000000001" font-family="Liberation Sans" font-size="8.6" fill="#1e1e1e" text-anchor="end">200</text>
<text x="550.85" y="298.59999999999997" font-family="Liberation Sans" font-size="10.2" fill="#1e1e1e" text-anchor="middle" textLength="91.4" lengthAdjust="spacingAndGlyphs">Image Memorability</text>
<text transform="translate(391.5,141.0) rotate(-90)" font-family="Liberation Sans" font-size="10.3" fill="#1e1e1e" text-anchor="middle" textLength="191" lengthAdjust="spacingAndGlyphs">Number of Deduplicated Text-Image Pairs</text>
<defs><linearGradient id="gb" x1="0" y1="1" x2="0" y2="0"><stop offset="0.0" stop-color="#ffffcc"/><stop offset="0.125" stop-color="#ffeda0"/><stop offset="0.25" stop-color="#fed976"/><stop offset="0.375" stop-color="#feb24c"/><stop offset="0.5" stop-color="#fd8d3c"/><stop offset="0.625" stop-color="#fc4e2a"/><stop offset="0.75" stop-color="#e31a1c"/><stop offset="0.875" stop-color="#bd0026"/><stop offset="1.0" stop-color="#800026"/></linearGradient></defs>
<rect x="692.9" y="6.5" width="8.899999999999977" height="268.4" fill="url(#gb)" fill-opacity="0.93" stroke="#3a3a3a" stroke-width="0.8"/>
<line x1="701.8" y1="274.9" x2="704.4" y2="274.9" stroke="#333" stroke-width="0.8"/>
<text x="706.8" y="278.0" font-family="Liberation Sans" font-size="8.6" fill="#1e1e1e">0.0</text>
<line x1="701.8" y1="221.21999999999997" x2="704.4" y2="221.21999999999997" stroke="#333" stroke-width="0.8"/>
<text x="706.8" y="224.31999999999996" font-family="Liberation Sans" font-size="8.6" fill="#1e1e1e">0.2</text>
<line x1="701.8" y1="167.53999999999996" x2="704.4" y2="167.53999999999996" stroke="#333" stroke-width="0.8"/>
<text x="706.8" y="170.63999999999996" font-family="Liberation Sans" font-size="8.6" fill="#1e1e1e">0.4</text>
<line x1="701.8" y1="113.85999999999996" x2="704.4" y2="113.85999999999996" stroke="#333" stroke-width="0.8"/>
<text x="706.8" y="116.95999999999995" font-family="Liberation Sans" font-size="8.6" fill="#1e1e1e">0.6</text>
<line x1="701.8" y1="60.17999999999998" x2="704.4" y2="60.17999999999998" stroke="#333" stroke-width="0.8"/>
<text x="706.8" y="63.27999999999998" font-family="Liberation Sans" font-size="8.6" fill="#1e1e1e">0.8</text>
<line x1="701.8" y1="6.5" x2="704.4" y2="6.5" stroke="#333" stroke-width="0.8"/>
<text x="706.8" y="9.6" font-family="Liberation Sans" font-size="8.6" fill="#1e1e1e">1.0</text>
<text transform="translate(727.8,140.7) rotate(-90)" font-family="Liberation Sans" font-size="9.2" fill="#1e1e1e" text-anchor="middle" textLength="70" lengthAdjust="spacingAndGlyphs">Alignment (CRA)</text>
<text x="557" y="333.8" font-family="Liberation Serif" font-size="24" fill="#000" text-anchor="middle">(b) Image Memorability (Static)</text>
<rect x="792.6" y="6.5" width="269.6" height="268.4" fill="#f8f8f8"/>
<line x1="804.5" y1="6.5" x2="804.5" y2="274.9" stroke="#dedede" stroke-width="0.6" stroke-dasharray="1.7,1.5"/>
<line x1="853.6800000000001" y1="6.5" x2="853.6800000000001" y2="274.9" stroke="#dedede" stroke-width="0.6" stroke-dasharray="1.7,1.5"/>
<line x1="902.86" y1="6.5" x2="902.86" y2="274.9" stroke="#dedede" stroke-width="0.6" stroke-dasharray="1.7,1.5"/>
<line x1="952.04" y1="6.5" x2="952.04" y2="274.9" stroke="#dedede" stroke-width="0.6" stroke-dasharray="1.7,1.5"/>
<line x1="1001.22" y1="6.5" x2="1001.22" y2="274.9" stroke="#dedede" stroke-width="0.6" stroke-dasharray="1.7,1.5"/>
<line x1="1050.4" y1="6.5" x2="1050.4" y2="274.9" stroke="#dedede" stroke-width="0.6" stroke-dasharray="1.7,1.5"/>
<line x1="792.6" y1="269.5" x2="1062.2" y2="269.5" stroke="#dedede" stroke-width="0.6" stroke-dasharray="1.7,1.5"/>
<line x1="792.6" y1="236.3425" x2="1062.2" y2="236.3425" stroke="#dedede" stroke-width="0.6" stroke-dasharray="1.7,1.5"/>
<line x1="792.6" y1="203.185" x2="1062.2" y2="203.185" stroke="#dedede" stroke-width="0.6" stroke-dasharray="1.7,1.5"/>
<line x1="792.6" y1="170.0275" x2="1062.2" y2="170.0275" stroke="#dedede" stroke-width="0.6" stroke-dasharray="1.7,1.5"/>
<line x1="792.6" y1="136.87" x2="1062.2" y2="136.87" stroke="#dedede" stroke-width="0.6" stroke-dasharray="1.7,1.5"/>
<line x1="792.6" y1="103.7125" x2="1062.2" y2="103.7125" stroke="#dedede" stroke-width="0.6" stroke-dasharray="1.7,1.5"/>
<line x1="792.6" y1="70.555" x2="1062.2" y2="70.555" stroke="#dedede" stroke-width="0.6" stroke-dasharray="1.7,1.5"/>
<line x1="792.6" y1="37.39750000000001" x2="1062.2" y2="37.39750000000001" stroke="#dedede" stroke-width="0.6" stroke-dasharray="1.7,1.5"/>
<line x1="845.4" y1="6.5" x2="845.4" y2="274.9" stroke="#6e6e6e" stroke-width="1" stroke-dasharray="3,1.1"/>
<line x1="792.6" y1="223.0795" x2="1062.2" y2="223.0795" stroke="#6e6e6e" stroke-width="1" stroke-dasharray="3,1.1"/>
<polygon points="841.40,16.50 837.76,18.60 837.76,22.80 841.40,24.90 845.04,22.80 845.04,18.60" fill="#fffbc1" fill-opacity="0.92" stroke="#fff" stroke-width="0.7"/>
<polygon points="852.60,14.00 848.96,16.10 848.96,20.30 852.60,22.40 856.24,20.30 856.24,16.10" fill="#800026" fill-opacity="0.92" stroke="#fff" stroke-width="0.7"/>
<polygon points="836.00,24.30 832.36,26.40 832.36,30.60 836.00,32.70 839.64,30.60 839.64,26.40" fill="#ffe48e" fill-opacity="0.92" stroke="#fff" stroke-width="0.7"/>
<polygon points="837.70,47.40 834.06,49.50 834.06,53.70 837.70,55.80 841.34,53.70 841.34,49.50" fill="#800026" fill-opacity="0.92" stroke="#fff" stroke-width="0.7"/>
<polygon points="814.10,59.80 810.46,61.90 810.46,66.10 814.10,68.20 817.74,66.10 817.74,61.90" fill="#fffbc1" fill-opacity="0.92" stroke="#fff" stroke-width="0.7"/>
<polygon points="834.10,59.80 830.46,61.90 830.46,66.10 834.10,68.20 837.74,66.10 837.74,61.90" fill="#800026" fill-opacity="0.92" stroke="#fff" stroke-width="0.7"/>
<polygon points="842.80,66.30 839.16,68.40 839.16,72.60 842.80,74.70 846.44,72.60 846.44,68.40" fill="#800026" fill-opacity="0.92" stroke="#fff" stroke-width="0.7"/>
<polygon points="862.10,74.10 858.46,76.20 858.46,80.40 862.10,82.50 865.74,80.40 865.74,76.20" fill="#800026" fill-opacity="0.92" stroke="#fff" stroke-width="0.7"/>
<polygon points="861.10,84.30 857.46,86.40 857.46,90.60 861.10,92.70 864.74,90.60 864.74,86.40" fill="#bb0026" fill-opacity="0.92" stroke="#fff" stroke-width="0.7"/>
<polygon points="879.80,82.80 876.16,84.90 876.16,89.10 879.80,91.20 883.44,89.10 883.44,84.90" fill="#800026" fill-opacity="0.92" stroke="#fff" stroke-width="0.7"/>
<polygon points="847.20,102.60 843.56,104.70 843.56,108.90 847.20,111.00 850.84,108.90 850.84,104.70" fill="#800026" fill-opacity="0.92" stroke="#fff" stroke-width="0.7"/>
<polygon points="841.10,110.60 837.46,112.70 837.46,116.90 841.10,119.00 844.74,116.90 844.74,112.70" fill="#fed06c" fill-opacity="0.92" stroke="#fff" stroke-width="0.7"/>
<polygon points="836.50,117.60 832.86,119.70 832.86,123.90 836.50,126.00 840.14,123.90 840.14,119.70" fill="#ffec9e" fill-opacity="0.92" stroke="#fff" stroke-width="0.7"/>
<polygon points="865.00,117.60 861.36,119.70 861.36,123.90 865.00,126.00 868.64,123.90 868.64,119.70" fill="#fffbc1" fill-opacity="0.92" stroke="#fff" stroke-width="0.7"/>
<polygon points="836.00,125.90 832.36,128.00 832.36,132.20 836.00,134.30 839.64,132.20 839.64,128.00" fill="#feba54" fill-opacity="0.92" stroke="#fff" stroke-width="0.7"/>
<polygon points="860.10,125.90 856.46,128.00 856.46,132.20 860.10,134.30 863.74,132.20 863.74,128.00" fill="#c50524" fill-opacity="0.92" stroke="#fff" stroke-width="0.7"/>
<polygon points="869.10,123.00 865.46,125.10 865.46,129.30 869.10,131.40 872.74,129.30 872.74,125.10" fill="#800026" fill-opacity="0.92" stroke="#fff" stroke-width="0.7"/>
<polygon points="875.00,128.60 871.36,130.70 871.36,134.90 875.00,137.00 878.64,134.90 878.64,130.70" fill="#800026" fill-opacity="0.92" stroke="#fff" stroke-width="0.7"/>
<polygon points="884.00,120.30 880.36,122.40 880.36,126.60 884.00,128.70 887.64,126.60 887.64,122.40" fill="#800026" fill-opacity="0.92" stroke="#fff" stroke-width="0.7"/>
<polygon points="883.70,123.00 880.06,125.10 880.06,129.30 883.70,131.40 887.34,129.30 887.34,125.10" fill="#800026" fill-opacity="0.92" stroke="#fff" stroke-width="0.7"/>
<polygon points="893.70,120.30 890.06,122.40 890.06,126.60 893.70,128.70 897.34,126.60 897.34,122.40" fill="#800026" fill-opacity="0.92" stroke="#fff" stroke-width="0.7"/>
<polygon points="829.20,138.60 825.56,140.70 825.56,144.90 829.20,147.00 832.84,144.90 832.84,140.70" fill="#ed2f22" fill-opacity="0.92" stroke="#fff" stroke-width="0.7"/>
<polygon points="832.10,142.70 828.46,144.80 828.46,149.00 832.10,151.10 835.74,149.00 835.74,144.80" fill="#fffbc1" fill-opacity="0.92" stroke="#fff" stroke-width="0.7"/>
<polygon points="847.70,138.60 844.06,140.70 844.06,144.90 847.70,147.00 851.34,144.90 851.34,140.70" fill="#fed06c" fill-opacity="0.92" stroke="#fff" stroke-width="0.7"/>
<polygon points="865.00,138.60 861.36,140.70 861.36,144.90 865.00,147.00 868.64,144.90 868.64,140.70" fill="#800026" fill-opacity="0.92" stroke="#fff" stroke-width="0.7"/>
<polygon points="884.40,146.30 880.76,148.40 880.76,152.60 884.40,154.70 888.04,152.60 888.04,148.40" fill="#800026" fill-opacity="0.92" stroke="#fff" stroke-width="0.7"/>
<polygon points="818.30,155.30 814.66,157.40 814.66,161.60 818.30,163.70 821.94,161.60 821.94,157.40" fill="#ffec9e" fill-opacity="0.92" stroke="#fff" stroke-width="0.7"/>
<polygon points="835.80,150.50 832.16,152.60 832.16,156.80 835.80,158.90 839.44,156.80 839.44,152.60" fill="#fffbc1" fill-opacity="0.92" stroke="#fff" stroke-width="0.7"/>
<polygon points="849.70,150.50 846.06,152.60 846.06,156.80 849.70,158.90 853.34,156.80 853.34,152.60" fill="#c50524" fill-opacity="0.92" stroke="#fff" stroke-width="0.7"/>
<polygon points="844.30,150.50 840.66,152.60 840.66,156.80 844.30,158.90 847.94,156.80 847.94,152.60" fill="#fffbc1" fill-opacity="0.92" stroke="#fff" stroke-width="0.7"/>
<polygon points="847.50,150.50 843.86,152.60 843.86,156.80 847.50,158.90 851.14,156.80 851.14,152.60" fill="#fffbc1" fill-opacity="0.92" stroke="#fff" stroke-width="0.7"/>
<polygon points="852.30,155.30 848.66,157.40 848.66,161.60 852.30,163.70 855.94,161.60 855.94,157.40" fill="#ffec9e" fill-opacity="0.92" stroke="#fff" stroke-width="0.7"/>
<polygon points="858.90,155.30 855.26,157.40 855.26,161.60 858.90,163.70 862.54,161.60 862.54,157.40" fill="#fffbc1" fill-opacity="0.92" stroke="#fff" stroke-width="0.7"/>
<polygon points="870.10,155.10 866.46,157.20 866.46,161.40 870.10,163.50 873.74,161.40 873.74,157.20" fill="#800026" fill-opacity="0.92" stroke="#fff" stroke-width="0.7"/>
<polygon points="829.70,160.20 826.06,162.30 826.06,166.50 829.70,168.60 833.34,166.50 833.34,162.30" fill="#fffbc1" fill-opacity="0.92" stroke="#fff" stroke-width="0.7"/>
<polygon points="838.20,160.20 834.56,162.30 834.56,166.50 838.20,168.60 841.84,166.50 841.84,162.30" fill="#fffbc1" fill-opacity="0.92" stroke="#fff" stroke-width="0.7"/>
<polygon points="864.20,160.20 860.56,162.30 860.56,166.50 864.20,168.60 867.84,166.50 867.84,162.30" fill="#fed06c" fill-opacity="0.92" stroke="#fff" stroke-width="0.7"/>
<polygon points="820.70,164.60 817.06,166.70 817.06,170.90 820.70,173.00 824.34,170.90 824.34,166.70" fill="#fffbc1" fill-opacity="0.92" stroke="#fff" stroke-width="0.7"/>
<polygon points="848.40,164.60 844.76,166.70 844.76,170.90 848.40,173.00 852.04,170.90 852.04,166.70" fill="#800026" fill-opacity="0.92" stroke="#fff" stroke-width="0.7"/>
<polygon points="874.70,164.60 871.06,166.70 871.06,170.90 874.70,173.00 878.34,170.90 878.34,166.70" fill="#800026" fill-opacity="0.92" stroke="#fff" stroke-width="0.7"/>
<polygon points="880.30,164.60 876.66,166.70 876.66,170.90 880.30,173.00 883.94,170.90 883.94,166.70" fill="#fffbc1" fill-opacity="0.92" stroke="#fff" stroke-width="0.7"/>
<polygon points="832.90,172.10 829.26,174.20 829.26,178.40 832.90,180.50 836.54,178.40 836.54,174.20" fill="#fffbc1" fill-opacity="0.92" stroke="#fff" stroke-width="0.7"/>
<polygon points="838.20,172.10 834.56,174.20 834.56,178.40 838.20,180.50 841.84,178.40 841.84,174.20" fill="#800026" fill-opacity="0.92" stroke="#fff" stroke-width="0.7"/>
<polygon points="847.50,172.10 843.86,174.20 843.86,178.40 847.50,180.50 851.14,178.40 851.14,174.20" fill="#800026" fill-opacity="0.92" stroke="#fff" stroke-width="0.7"/>
<polygon points="854.80,172.10 851.16,174.20 851.16,178.40 854.80,180.50 858.44,178.40 858.44,174.20" fill="#fc5b2e" fill-opacity="0.92" stroke="#fff" stroke-width="0.7"/>
<polygon points="871.80,172.10 868.16,174.20 868.16,178.40 871.80,180.50 875.44,178.40 875.44,174.20" fill="#800026" fill-opacity="0.92" stroke="#fff" stroke-width="0.7"/>
<polygon points="884.00,172.10 880.36,174.20 880.36,178.40 884.00,180.50 887.64,178.40 887.64,174.20" fill="#800026" fill-opacity="0.92" stroke="#fff" stroke-width="0.7"/>
<polygon points="818.80,178.90 815.16,181.00 815.16,185.20 818.80,187.30 822.44,185.20 822.44,181.00" fill="#ffec9e" fill-opacity="0.92" stroke="#fff" stroke-width="0.7"/>
<polygon points="826.50,178.90 822.86,181.00 822.86,185.20 826.50,187.30 830.14,185.20 830.14,181.00" fill="#800026" fill-opacity="0.92" stroke="#fff" stroke-width="0.7"/>
<polygon points="838.70,178.90 835.06,181.00 835.06,185.20 838.70,187.30 842.34,185.20 842.34,181.00" fill="#ffec9e" fill-opacity="0.92" stroke="#fff" stroke-width="0.7"/>
<polygon points="845.00,178.90 841.36,181.00 841.36,185.20 845.00,187.30 848.64,185.20 848.64,181.00" fill="#fffbc1" fill-opacity="0.92" stroke="#fff" stroke-width="0.7"/>
<polygon points="849.90,178.90 846.26,181.00 846.26,185.20 849.90,187.30 853.54,185.20 853.54,181.00" fill="#fffbc1" fill-opacity="0.92" stroke="#fff" stroke-width="0.7"/>
<polygon points="855.70,178.90 852.06,181.00 852.06,185.20 855.70,187.30 859.34,185.20 859.34,181.00" fill="#fffbc1" fill-opacity="0.92" stroke="#fff" stroke-width="0.7"/>
<polygon points="867.40,178.90 863.76,181.00 863.76,185.20 867.40,187.30 871.04,185.20 871.04,181.00" fill="#800026" fill-opacity="0.92" stroke="#fff" stroke-width="0.7"/>
<polygon points="877.10,178.90 873.46,181.00 873.46,185.20 877.10,187.30 880.74,185.20 880.74,181.00" fill="#fffbc1" fill-opacity="0.92" stroke="#fff" stroke-width="0.7"/>
<polygon points="889.30,178.90 885.66,181.00 885.66,185.20 889.30,187.30 892.94,185.20 892.94,181.00" fill="#800026" fill-opacity="0.92" stroke="#fff" stroke-width="0.7"/>
<polygon points="884.40,178.90 880.76,181.00 880.76,185.20 884.40,187.30 888.04,185.20 888.04,181.00" fill="#fec05b" fill-opacity="0.92" stroke="#fff" stroke-width="0.7"/>
<polygon points="813.40,186.40 809.76,188.50 809.76,192.70 813.40,194.80 817.04,192.70 817.04,188.50" fill="#fffbc1" fill-opacity="0.92" stroke="#fff" stroke-width="0.7"/>
<polygon points="820.00,186.40 816.36,188.50 816.36,192.70 820.00,194.80 823.64,192.70 823.64,188.50" fill="#fffbc1" fill-opacity="0.92" stroke="#fff" stroke-width="0.7"/>
<polygon points="832.10,186.40 828.46,188.50 828.46,192.70 832.10,194.80 835.74,192.70 835.74,188.50" fill="#fffbc1" fill-opacity="0.92" stroke="#fff" stroke-width="0.7"/>
<polygon points="842.60,186.40 838.96,188.50 838.96,192.70 842.60,194.80 846.24,192.70 846.24,188.50" fill="#800026" fill-opacity="0.92" stroke="#fff" stroke-width="0.7"/>
<polygon points="854.00,186.40 850.36,188.50 850.36,192.70 854.00,194.80 857.64,192.70 857.64,188.50" fill="#800026" fill-opacity="0.92" stroke="#fff" stroke-width="0.7"/>
<polygon points="857.70,186.40 854.06,188.50 854.06,192.70 857.70,194.80 861.34,192.70 861.34,188.50" fill="#fed06c" fill-opacity="0.92" stroke="#fff" stroke-width="0.7"/>
<polygon points="868.60,186.40 864.96,188.50 864.96,192.70 868.60,194.80 872.24,192.70 872.24,188.50" fill="#fffbc1" fill-opacity="0.92" stroke="#fff" stroke-width="0.7"/>
<polygon points="873.50,186.40 869.86,188.50 869.86,192.70 873.50,194.80 877.14,192.70 877.14,188.50" fill="#800026" fill-opacity="0.92" stroke="#fff" stroke-width="0.7"/>
<polygon points="890.50,186.40 886.86,188.50 886.86,192.70 890.50,194.80 894.14,192.70 894.14,188.50" fill="#800026" fill-opacity="0.92" stroke="#fff" stroke-width="0.7"/>
<polygon points="926.50,186.40 922.86,188.50 922.86,192.70 926.50,194.80 930.14,192.70 930.14,188.50" fill="#800026" fill-opacity="0.92" stroke="#fff" stroke-width="0.7"/>
<polygon points="812.70,195.00 809.06,197.10 809.06,201.30 812.70,203.40 816.34,201.30 816.34,197.10" fill="#fed06c" fill-opacity="0.92" stroke="#fff" stroke-width="0.7"/>
<polygon points="818.80,195.00 815.16,197.10 815.16,201.30 818.80,203.40 822.44,201.30 822.44,197.10" fill="#fffbc1" fill-opacity="0.92" stroke="#fff" stroke-width="0.7"/>
<polygon points="824.80,195.00 821.16,197.10 821.16,201.30 824.80,203.40 828.44,201.30 828.44,197.10" fill="#fffbc1" fill-opacity="0.92" stroke="#fff" stroke-width="0.7"/>
<polygon points="831.60,195.00 827.96,197.10 827.96,201.30 831.60,203.40 835.24,201.30 835.24,197.10" fill="#ffec9e" fill-opacity="0.92" stroke="#fff" stroke-width="0.7"/>
<polygon points="837.70,195.00 834.06,197.10 834.06,201.30 837.70,203.40 841.34,201.30 841.34,197.10" fill="#fffbc1" fill-opacity="0.92" stroke="#fff" stroke-width="0.7"/>
<polygon points="845.00,195.00 841.36,197.10 841.36,201.30 845.00,203.40 848.64,201.30 848.64,197.10" fill="#fec662" fill-opacity="0.92" stroke="#fff" stroke-width="0.7"/>
<polygon points="852.10,195.00 848.46,197.10 848.46,201.30 852.10,203.40 855.74,201.30 855.74,197.10" fill="#800026" fill-opacity="0.92" stroke="#fff" stroke-width="0.7"/>
<polygon points="860.10,195.00 856.46,197.10 856.46,201.30 860.10,203.40 863.74,201.30 863.74,197.10" fill="#fed06c" fill-opacity="0.92" stroke="#fff" stroke-width="0.7"/>
<polygon points="868.10,195.00 864.46,197.10 864.46,201.30 868.10,203.40 871.74,201.30 871.74,197.10" fill="#800026" fill-opacity="0.92" stroke="#fff" stroke-width="0.7"/>
<polygon points="890.50,195.00 886.86,197.10 886.86,201.30 890.50,203.40 894.14,201.30 894.14,197.10" fill="#800026" fill-opacity="0.92" stroke="#fff" stroke-width="0.7"/>
<polygon points="829.00,205.90 825.36,208.00 825.36,212.20 829.00,214.30 832.64,212.20 832.64,208.00" fill="#fffbc1" fill-opacity="0.92" stroke="#fff" stroke-width="0.7"/>
<polygon points="839.40,205.90 835.76,208.00 835.76,212.20 839.40,214.30 843.04,212.20 843.04,208.00" fill="#800026" fill-opacity="0.92" stroke="#fff" stroke-width="0.7"/>
<polygon points="846.00,205.90 842.36,208.00 842.36,212.20 846.00,214.30 849.64,212.20 849.64,208.00" fill="#ffec9e" fill-opacity="0.92" stroke="#fff" stroke-width="0.7"/>
<polygon points="855.20,205.90 851.56,208.00 851.56,212.20 855.20,214.30 858.84,212.20 858.84,208.00" fill="#b10026" fill-opacity="0.92" stroke="#fff" stroke-width="0.7"/>
<polygon points="860.60,205.90 856.96,208.00 856.96,212.20 860.60,214.30 864.24,212.20 864.24,208.00" fill="#fffbc1" fill-opacity="0.92" stroke="#fff" stroke-width="0.7"/>
<polygon points="866.20,205.90 862.56,208.00 862.56,212.20 866.20,214.30 869.84,212.20 869.84,208.00" fill="#fffbc1" fill-opacity="0.92" stroke="#fff" stroke-width="0.7"/>
<polygon points="869.40,205.90 865.76,208.00 865.76,212.20 869.40,214.30 873.04,212.20 873.04,208.00" fill="#f74427" fill-opacity="0.92" stroke="#fff" stroke-width="0.7"/>
<polygon points="873.50,205.90 869.86,208.00 869.86,212.20 873.50,214.30 877.14,212.20 877.14,208.00" fill="#800026" fill-opacity="0.92" stroke="#fff" stroke-width="0.7"/>
<polygon points="875.90,205.90 872.26,208.00 872.26,212.20 875.90,214.30 879.54,212.20 879.54,208.00" fill="#800026" fill-opacity="0.92" stroke="#fff" stroke-width="0.7"/>
<polygon points="885.20,205.90 881.56,208.00 881.56,212.20 885.20,214.30 888.84,212.20 888.84,208.00" fill="#ffe48e" fill-opacity="0.92" stroke="#fff" stroke-width="0.7"/>
<polygon points="909.50,205.90 905.86,208.00 905.86,212.20 909.50,214.30 913.14,212.20 913.14,208.00" fill="#800026" fill-opacity="0.92" stroke="#fff" stroke-width="0.7"/>
<polygon points="811.00,218.60 807.36,220.70 807.36,224.90 811.00,227.00 814.64,224.90 814.64,220.70" fill="#fffbc1" fill-opacity="0.92" stroke="#fff" stroke-width="0.7"/>
<polygon points="817.00,218.60 813.36,220.70 813.36,224.90 817.00,227.00 820.64,224.90 820.64,220.70" fill="#fffbc1" fill-opacity="0.92" stroke="#fff" stroke-width="0.7"/>
<polygon points="823.10,218.60 819.46,220.70 819.46,224.90 823.10,227.00 826.74,224.90 826.74,220.70" fill="#b10026" fill-opacity="0.92" stroke="#fff" stroke-width="0.7"/>
<polygon points="830.40,218.60 826.76,220.70 826.76,224.90 830.40,227.00 834.04,224.90 834.04,220.70" fill="#800026" fill-opacity="0.92" stroke="#fff" stroke-width="0.7"/>
<polygon points="835.30,218.60 831.66,220.70 831.66,224.90 835.30,227.00 838.94,224.90 838.94,220.70" fill="#feb14b" fill-opacity="0.92" stroke="#fff" stroke-width="0.7"/>
<polygon points="838.20,218.60 834.56,220.70 834.56,224.90 838.20,227.00 841.84,224.90 841.84,220.70" fill="#b10026" fill-opacity="0.92" stroke="#fff" stroke-width="0.7"/>
<polygon points="848.40,218.60 844.76,220.70 844.76,224.90 848.40,227.00 852.04,224.90 852.04,220.70" fill="#fffbc1" fill-opacity="0.92" stroke="#fff" stroke-width="0.7"/>
<polygon points="856.50,218.60 852.86,220.70 852.86,224.90 856.50,227.00 860.14,224.90 860.14,220.70" fill="#fff3b0" fill-opacity="0.92" stroke="#fff" stroke-width="0.7"/>
<polygon points="862.00,218.60 858.36,220.70 858.36,224.90 862.00,227.00 865.64,224.90 865.64,220.70" fill="#b10026" fill-opacity="0.92" stroke="#fff" stroke-width="0.7"/>
<polygon points="866.90,218.60 863.26,220.70 863.26,224.90 866.90,227.00 870.54,224.90 870.54,220.70" fill="#fedc7d" fill-opacity="0.92" stroke="#fff" stroke-width="0.7"/>
<polygon points="874.20,218.60 870.56,220.70 870.56,224.90 874.20,227.00 877.84,224.90 877.84,220.70" fill="#800026" fill-opacity="0.92" stroke="#fff" stroke-width="0.7"/>
<polygon points="877.60,218.60 873.96,220.70 873.96,224.90 877.60,227.00 881.24,224.90 881.24,220.70" fill="#800026" fill-opacity="0.92" stroke="#fff" stroke-width="0.7"/>
<polygon points="886.40,218.60 882.76,220.70 882.76,224.90 886.40,227.00 890.04,224.90 890.04,220.70" fill="#c50524" fill-opacity="0.92" stroke="#fff" stroke-width="0.7"/>
<polygon points="812.00,235.10 808.36,237.20 808.36,241.40 812.00,243.50 815.64,241.40 815.64,237.20" fill="#fffbc1" fill-opacity="0.92" stroke="#fff" stroke-width="0.7"/>
<polygon points="817.00,235.10 813.36,237.20 813.36,241.40 817.00,243.50 820.64,241.40 820.64,237.20" fill="#fffbc1" fill-opacity="0.92" stroke="#fff" stroke-width="0.7"/>
<polygon points="822.40,235.10 818.76,237.20 818.76,241.40 822.40,243.50 826.04,241.40 826.04,237.20" fill="#fffbc1" fill-opacity="0.92" stroke="#fff" stroke-width="0.7"/>
<polygon points="828.50,235.10 824.86,237.20 824.86,241.40 828.50,243.50 832.14,241.40 832.14,237.20" fill="#fffbc1" fill-opacity="0.92" stroke="#fff" stroke-width="0.7"/>
<polygon points="834.60,235.10 830.96,237.20 830.96,241.40 834.60,243.50 838.24,241.40 838.24,237.20" fill="#fffbc1" fill-opacity="0.92" stroke="#fff" stroke-width="0.7"/>
<polygon points="840.20,235.10 836.56,237.20 836.56,241.40 840.20,243.50 843.84,241.40 843.84,237.20" fill="#800026" fill-opacity="0.92" stroke="#fff" stroke-width="0.7"/>
<polygon points="847.50,235.10 843.86,237.20 843.86,241.40 847.50,243.50 851.14,241.40 851.14,237.20" fill="#800026" fill-opacity="0.92" stroke="#fff" stroke-width="0.7"/>
<polygon points="852.30,235.10 848.66,237.20 848.66,241.40 852.30,243.50 855.94,241.40 855.94,237.20" fill="#800026" fill-opacity="0.92" stroke="#fff" stroke-width="0.7"/>
<polygon points="858.90,235.10 855.26,237.20 855.26,241.40 858.90,243.50 862.54,241.40 862.54,237.20" fill="#b10026" fill-opacity="0.92" stroke="#fff" stroke-width="0.7"/>
<polygon points="863.00,235.10 859.36,237.20 859.36,241.40 863.00,243.50 866.64,241.40 866.64,237.20" fill="#fff3b0" fill-opacity="0.92" stroke="#fff" stroke-width="0.7"/>
<polygon points="871.80,235.10 868.16,237.20 868.16,241.40 871.80,243.50 875.44,241.40 875.44,237.20" fill="#fffbc1" fill-opacity="0.92" stroke="#fff" stroke-width="0.7"/>
<polygon points="897.10,235.10 893.46,237.20 893.46,241.40 897.10,243.50 900.74,241.40 900.74,237.20" fill="#fffbc1" fill-opacity="0.92" stroke="#fff" stroke-width="0.7"/>
<polygon points="1050.00,235.10 1046.36,237.20 1046.36,241.40 1050.00,243.50 1053.64,241.40 1053.64,237.20" fill="#800026" fill-opacity="0.92" stroke="#fff" stroke-width="0.7"/>
<polygon points="804.20,258.60 800.56,260.70 800.56,264.90 804.20,267.00 807.84,264.90 807.84,260.70" fill="#fffbc1" fill-opacity="0.92" stroke="#fff" stroke-width="0.7"/>
<polygon points="811.50,258.60 807.86,260.70 807.86,264.90 811.50,267.00 815.14,264.90 815.14,260.70" fill="#fffbc1" fill-opacity="0.92" stroke="#fff" stroke-width="0.7"/>
<polygon points="813.90,258.60 810.26,260.70 810.26,264.90 813.90,267.00 817.54,264.90 817.54,260.70" fill="#fffbc1" fill-opacity="0.92" stroke="#fff" stroke-width="0.7"/>
<polygon points="822.40,258.60 818.76,260.70 818.76,264.90 822.40,267.00 826.04,264.90 826.04,260.70" fill="#fffbc1" fill-opacity="0.92" stroke="#fff" stroke-width="0.7"/>
<polygon points="830.90,258.60 827.26,260.70 827.26,264.90 830.90,267.00 834.54,264.90 834.54,260.70" fill="#fffbc1" fill-opacity="0.92" stroke="#fff" stroke-width="0.7"/>
<polygon points="840.60,258.60 836.96,260.70 836.96,264.90 840.60,267.00 844.24,264.90 844.24,260.70" fill="#800026" fill-opacity="0.92" stroke="#fff" stroke-width="0.7"/>
<polygon points="849.20,258.60 845.56,260.70 845.56,264.90 849.20,267.00 852.84,264.90 852.84,260.70" fill="#fffbc1" fill-opacity="0.92" stroke="#fff" stroke-width="0.7"/>
<polygon points="856.50,258.60 852.86,260.70 852.86,264.90 856.50,267.00 860.14,264.90 860.14,260.70" fill="#fffbc1" fill-opacity="0.92" stroke="#fff" stroke-width="0.7"/>
<polygon points="861.30,258.60 857.66,260.70 857.66,264.90 861.30,267.00 864.94,264.90 864.94,260.70" fill="#ed2f22" fill-opacity="0.92" stroke="#fff" stroke-width="0.7"/>
<polygon points="865.00,258.60 861.36,260.70 861.36,264.90 865.00,267.00 868.64,264.90 868.64,260.70" fill="#b10026" fill-opacity="0.92" stroke="#fff" stroke-width="0.7"/>
<polygon points="871.10,258.60 867.46,260.70 867.46,264.90 871.10,267.00 874.74,264.90 874.74,260.70" fill="#800026" fill-opacity="0.92" stroke="#fff" stroke-width="0.7"/>
<polygon points="875.90,258.60 872.26,260.70 872.26,264.90 875.90,267.00 879.54,264.90 879.54,260.70" fill="#b10026" fill-opacity="0.92" stroke="#fff" stroke-width="0.7"/>
<polygon points="879.60,258.60 875.96,260.70 875.96,264.90 879.60,267.00 883.24,264.90 883.24,260.70" fill="#800026" fill-opacity="0.92" stroke="#fff" stroke-width="0.7"/>
<polygon points="888.80,258.60 885.16,260.70 885.16,264.90 888.80,267.00 892.44,264.90 892.44,260.70" fill="#800026" fill-opacity="0.92" stroke="#fff" stroke-width="0.7"/>
<polygon points="893.70,258.60 890.06,260.70 890.06,264.90 893.70,267.00 897.34,264.90 897.34,260.70" fill="#fc5b2e" fill-opacity="0.92" stroke="#fff" stroke-width="0.7"/>
<polygon points="904.40,258.60 900.76,260.70 900.76,264.90 904.40,267.00 908.04,264.90 908.04,260.70" fill="#800026" fill-opacity="0.92" stroke="#fff" stroke-width="0.7"/>
<polygon points="911.20,258.60 907.56,260.70 907.56,264.90 911.20,267.00 914.84,264.90 914.84,260.70" fill="#800026" fill-opacity="0.92" stroke="#fff" stroke-width="0.7"/>
<rect x="975" y="9.5" width="84" height="30" fill="#fff" fill-opacity="0.7"/>
<text x="1057" y="16.7" font-family="Liberation Sans" font-size="6.9" fill="#222" text-anchor="end" textLength="78.77" lengthAdjust="spacingAndGlyphs">High TU, High F: A=0.58</text>
<text x="1057" y="24.1" font-family="Liberation Sans" font-size="6.9" fill="#222" text-anchor="end" textLength="77.17" lengthAdjust="spacingAndGlyphs">Low TU, High F: A=0.30</text>
<text x="1057" y="31.5" font-family="Liberation Sans" font-size="6.9" fill="#222" text-anchor="end" textLength="77.17" lengthAdjust="spacingAndGlyphs">High TU, Low F: A=0.56</text>
<text x="1057" y="38.900000000000006" font-family="Liberation Sans" font-size="6.9" fill="#222" text-anchor="end" textLength="75.56" lengthAdjust="spacingAndGlyphs">Low TU, Low F: A=0.14</text>
<rect x="792.6" y="6.5" width="269.6" height="268.4" fill="none" stroke="#6c6c6c" stroke-width="1.2"/>
<line x1="804.5" y1="274.9" x2="804.5" y2="277.5" stroke="#333" stroke-width="0.8"/>
<text x="804.5" y="287.09999999999997" font-family="Liberation Sans" font-size="8.6" fill="#1e1e1e" text-anchor="middle">0.0</text>
<line x1="853.6800000000001" y1="274.9" x2="853.6800000000001" y2="277.5" stroke="#333" stroke-width="0.8"/>
<text x="853.6800000000001" y="287.09999999999997" font-family="Liberation Sans" font-size="8.6" fill="#1e1e1e" text-anchor="middle">0.2</text>
<line x1="902.86" y1="274.9" x2="902.86" y2="277.5" stroke="#333" stroke-width="0.8"/>
<text x="902.86" y="287.09999999999997" font-family="Liberation Sans" font-size="8.6" fill="#1e1e1e" text-anchor="middle">0.4</text>
<line x1="952.04" y1="274.9" x2="952.04" y2="277.5" stroke="#333" stroke-width="0.8"/>
<text x="952.04" y="287.09999999999997" font-family="Liberation Sans" font-size="8.6" fill="#1e1e1e" text-anchor="middle">0.6</text>
<line x1="1001.22" y1="274.9" x2="1001.22" y2="277.5" stroke="#333" stroke-width="0.8"/>
<text x="1001.22" y="287.09999999999997" font-family="Liberation Sans" font-size="8.6" fill="#1e1e1e" text-anchor="middle">0.8</text>
<line x1="1050.4" y1="274.9" x2="1050.4" y2="277.5" stroke="#333" stroke-width="0.8"/>
<text x="1050.4" y="287.09999999999997" font-family="Liberation Sans" font-size="8.6" fill="#1e1e1e" text-anchor="middle">1.0</text>
<line x1="790.0" y1="269.5" x2="792.6" y2="269.5" stroke="#333" stroke-width="0.8"/>
<text x="787.6" y="272.6" font-family="Liberation Sans" font-size="8.6" fill="#1e1e1e" text-anchor="end">25</text>
<line x1="790.0" y1="236.3425" x2="792.6" y2="236.3425" stroke="#333" stroke-width="0.8"/>
<text x="787.6" y="239.4425" font-family="Liberation Sans" font-size="8.6" fill="#1e1e1e" text-anchor="end">50</text>
<line x1="790.0" y1="203.185" x2="792.6" y2="203.185" stroke="#333" stroke-width="0.8"/>
<text x="787.6" y="206.285" font-family="Liberation Sans" font-size="8.6" fill="#1e1e1e" text-anchor="end">75</text>
<line x1="790.0" y1="170.0275" x2="792.6" y2="170.0275" stroke="#333" stroke-width="0.8"/>
<text x="787.6" y="173.1275" font-family="Liberation Sans" font-size="8.6" fill="#1e1e1e" text-anchor="end">100</text>
<line x1="790.0" y1="136.87" x2="792.6" y2="136.87" stroke="#333" stroke-width="0.8"/>
<text x="787.6" y="139.97" font-family="Liberation Sans" font-size="8.6" fill="#1e1e1e" text-anchor="end">125</text>
<line x1="790.0" y1="103.7125" x2="792.6" y2="103.7125" stroke="#333" stroke-width="0.8"/>
<text x="787.6" y="106.8125" font-family="Liberation Sans" font-size="8.6" fill="#1e1e1e" text-anchor="end">150</text>
<line x1="790.0" y1="70.555" x2="792.6" y2="70.555" stroke="#333" stroke-width="0.8"/>
<text x="787.6" y="73.655" font-family="Liberation Sans" font-size="8.6" fill="#1e1e1e" text-anchor="end">175</text>
<line x1="790.0" y1="37.39750000000001" x2="792.6" y2="37.39750000000001" stroke="#333" stroke-width="0.8"/>
<text x="787.6" y="40.49750000000001" font-family="Liberation Sans" font-size="8.6" fill="#1e1e1e" text-anchor="end">200</text>
<text x="927.4000000000001" y="298.59999999999997" font-family="Liberation Sans" font-size="10.2" fill="#1e1e1e" text-anchor="middle" textLength="74.6" lengthAdjust="spacingAndGlyphs">Text Uniqueness</text>
<text transform="translate(768.8000000000001,141.0) rotate(-90)" font-family="Liberation Sans" font-size="10.3" fill="#1e1e1e" text-anchor="middle" textLength="191" lengthAdjust="spacingAndGlyphs">Number of Deduplicated Text-Image Pairs</text>
<defs><linearGradient id="gc" x1="0" y1="1" x2="0" y2="0"><stop offset="0.0" stop-color="#ffffcc"/><stop offset="0.125" stop-color="#ffeda0"/><stop offset="0.25" stop-color="#fed976"/><stop offset="0.375" stop-color="#feb24c"/><stop offset="0.5" stop-color="#fd8d3c"/><stop offset="0.625" stop-color="#fc4e2a"/><stop offset="0.75" stop-color="#e31a1c"/><stop offset="0.875" stop-color="#bd0026"/><stop offset="1.0" stop-color="#800026"/></linearGradient></defs>
<rect x="1068.9" y="6.5" width="9.099999999999909" height="268.4" fill="url(#gc)" fill-opacity="0.93" stroke="#3a3a3a" stroke-width="0.8"/>
<line x1="1078" y1="274.9" x2="1080.6" y2="274.9" stroke="#333" stroke-width="0.8"/>
<text x="1083" y="278.0" font-family="Liberation Sans" font-size="8.6" fill="#1e1e1e">0.0</text>
<line x1="1078" y1="221.21999999999997" x2="1080.6" y2="221.21999999999997" stroke="#333" stroke-width="0.8"/>
<text x="1083" y="224.31999999999996" font-family="Liberation Sans" font-size="8.6" fill="#1e1e1e">0.2</text>
<line x1="1078" y1="167.53999999999996" x2="1080.6" y2="167.53999999999996" stroke="#333" stroke-width="0.8"/>
<text x="1083" y="170.63999999999996" font-family="Liberation Sans" font-size="8.6" fill="#1e1e1e">0.4</text>
<line x1="1078" y1="113.85999999999996" x2="1080.6" y2="113.85999999999996" stroke="#333" stroke-width="0.8"/>
<text x="1083" y="116.95999999999995" font-family="Liberation Sans" font-size="8.6" fill="#1e1e1e">0.6</text>
<line x1="1078" y1="60.17999999999998" x2="1080.6" y2="60.17999999999998" stroke="#333" stroke-width="0.8"/>
<text x="1083" y="63.27999999999998" font-family="Liberation Sans" font-size="8.6" fill="#1e1e1e">0.8</text>
<line x1="1078" y1="6.5" x2="1080.6" y2="6.5" stroke="#333" stroke-width="0.8"/>
<text x="1083" y="9.6" font-family="Liberation Sans" font-size="8.6" fill="#1e1e1e">1.0</text>
<text transform="translate(1104,140.7) rotate(-90)" font-family="Liberation Sans" font-size="9.2" fill="#1e1e1e" text-anchor="middle" textLength="70" lengthAdjust="spacingAndGlyphs">Alignment (CRA)</text>
<text x="933" y="333.8" font-family="Liberation Serif" font-size="24" fill="#000" text-anchor="middle">(c) Text Uniqueness (Static)</text>
<rect x="1167.2" y="7.8" width="272.5" height="270.8" fill="#f8f8f8"/>
<line x1="1179.5" y1="7.8" x2="1179.5" y2="278.6" stroke="#dedede" stroke-width="0.6" stroke-dasharray="1.7,1.5"/>
<line x1="1229.06" y1="7.8" x2="1229.06" y2="278.6" stroke="#dedede" stroke-width="0.6" stroke-dasharray="1.7,1.5"/>
<line x1="1278.62" y1="7.8" x2="1278.62" y2="278.6" stroke="#dedede" stroke-width="0.6" stroke-dasharray="1.7,1.5"/>
<line x1="1328.18" y1="7.8" x2="1328.18" y2="278.6" stroke="#dedede" stroke-width="0.6" stroke-dasharray="1.7,1.5"/>
<line x1="1377.74" y1="7.8" x2="1377.74" y2="278.6" stroke="#dedede" stroke-width="0.6" stroke-dasharray="1.7,1.5"/>
<line x1="1427.3" y1="7.8" x2="1427.3" y2="278.6" stroke="#dedede" stroke-width="0.6" stroke-dasharray="1.7,1.5"/>
<line x1="1167.2" y1="251.3" x2="1439.7" y2="251.3" stroke="#dedede" stroke-width="0.6" stroke-dasharray="1.7,1.5"/>
<line x1="1167.2" y1="213.28500000000003" x2="1439.7" y2="213.28500000000003" stroke="#dedede" stroke-width="0.6" stroke-dasharray="1.7,1.5"/>
<line x1="1167.2" y1="175.27" x2="1439.7" y2="175.27" stroke="#dedede" stroke-width="0.6" stroke-dasharray="1.7,1.5"/>
<line x1="1167.2" y1="137.255" x2="1439.7" y2="137.255" stroke="#dedede" stroke-width="0.6" stroke-dasharray="1.7,1.5"/>
<line x1="1167.2" y1="99.24000000000001" x2="1439.7" y2="99.24000000000001" stroke="#dedede" stroke-width="0.6" stroke-dasharray="1.7,1.5"/>
<line x1="1167.2" y1="61.22500000000002" x2="1439.7" y2="61.22500000000002" stroke="#dedede" stroke-width="0.6" stroke-dasharray="1.7,1.5"/>
<line x1="1167.2" y1="23.210000000000008" x2="1439.7" y2="23.210000000000008" stroke="#dedede" stroke-width="0.6" stroke-dasharray="1.7,1.5"/>
<line x1="1256.5" y1="7.8" x2="1256.5" y2="278.6" stroke="#6e6e6e" stroke-width="1" stroke-dasharray="3,1.1"/>
<line x1="1167.2" y1="192" x2="1439.7" y2="192" stroke="#6e6e6e" stroke-width="1" stroke-dasharray="3,1.1"/>
<polygon points="1211.50,16.20 1207.86,18.30 1207.86,22.50 1211.50,24.60 1215.14,22.50 1215.14,18.30" fill="#aa1432" fill-opacity="0.92" stroke="#fff" stroke-width="0.7"/>
<polygon points="1213.80,64.90 1210.16,67.00 1210.16,71.20 1213.80,73.30 1217.44,71.20 1217.44,67.00" fill="#b31932" fill-opacity="0.92" stroke="#fff" stroke-width="0.7"/>
<polygon points="1217.50,67.20 1213.86,69.30 1213.86,73.50 1217.50,75.60 1221.14,73.50 1221.14,69.30" fill="#77112f" fill-opacity="0.92" stroke="#fff" stroke-width="0.7"/>
<polygon points="1219.80,64.40 1216.16,66.50 1216.16,70.70 1219.80,72.80 1223.44,70.70 1223.44,66.50" fill="#77112f" fill-opacity="0.92" stroke="#fff" stroke-width="0.7"/>
<polygon points="1226.30,61.20 1222.66,63.30 1222.66,67.50 1226.30,69.60 1229.94,67.50 1229.94,63.30" fill="#cf2e30" fill-opacity="0.92" stroke="#fff" stroke-width="0.7"/>
<polygon points="1232.40,59.60 1228.76,61.70 1228.76,65.90 1232.40,68.00 1236.04,65.90 1236.04,61.70" fill="#77112f" fill-opacity="0.92" stroke="#fff" stroke-width="0.7"/>
<polygon points="1234.90,62.80 1231.26,64.90 1231.26,69.10 1234.90,71.20 1238.54,69.10 1238.54,64.90" fill="#77112f" fill-opacity="0.92" stroke="#fff" stroke-width="0.7"/>
<polygon points="1210.00,72.20 1206.36,74.30 1206.36,78.50 1210.00,80.60 1213.64,78.50 1213.64,74.30" fill="#77112f" fill-opacity="0.92" stroke="#fff" stroke-width="0.7"/>
<polygon points="1222.50,81.10 1218.86,83.20 1218.86,87.40 1222.50,89.50 1226.14,87.40 1226.14,83.20" fill="#fff0b1" fill-opacity="0.92" stroke="#fff" stroke-width="0.7"/>
<polygon points="1245.10,80.80 1241.46,82.90 1241.46,87.10 1245.10,89.20 1248.74,87.10 1248.74,82.90" fill="#77112f" fill-opacity="0.92" stroke="#fff" stroke-width="0.7"/>
<polygon points="1198.30,90.20 1194.66,92.30 1194.66,96.50 1198.30,98.60 1201.94,96.50 1201.94,92.30" fill="#fccf7f" fill-opacity="0.92" stroke="#fff" stroke-width="0.7"/>
<polygon points="1215.00,93.00 1211.36,95.10 1211.36,99.30 1215.00,101.40 1218.64,99.30 1218.64,95.10" fill="#b31932" fill-opacity="0.92" stroke="#fff" stroke-width="0.7"/>
<polygon points="1248.60,95.20 1244.96,97.30 1244.96,101.50 1248.60,103.60 1252.24,101.50 1252.24,97.30" fill="#b31932" fill-opacity="0.92" stroke="#fff" stroke-width="0.7"/>
<polygon points="1251.60,98.00 1247.96,100.10 1247.96,104.30 1251.60,106.40 1255.24,104.30 1255.24,100.10" fill="#77112f" fill-opacity="0.92" stroke="#fff" stroke-width="0.7"/>
<polygon points="1227.80,116.10 1224.16,118.20 1224.16,122.40 1227.80,124.50 1231.44,122.40 1231.44,118.20" fill="#77112f" fill-opacity="0.92" stroke="#fff" stroke-width="0.7"/>
<polygon points="1240.30,114.40 1236.66,116.50 1236.66,120.70 1240.30,122.80 1243.94,120.70 1243.94,116.50" fill="#77112f" fill-opacity="0.92" stroke="#fff" stroke-width="0.7"/>
<polygon points="1231.00,121.10 1227.36,123.20 1227.36,127.40 1231.00,129.50 1234.64,127.40 1234.64,123.20" fill="#77112f" fill-opacity="0.92" stroke="#fff" stroke-width="0.7"/>
<polygon points="1236.40,121.70 1232.76,123.80 1232.76,128.00 1236.40,130.10 1240.04,128.00 1240.04,123.80" fill="#77112f" fill-opacity="0.92" stroke="#fff" stroke-width="0.7"/>
<polygon points="1255.40,120.10 1251.76,122.20 1251.76,126.40 1255.40,128.50 1259.04,126.40 1259.04,122.20" fill="#77112f" fill-opacity="0.92" stroke="#fff" stroke-width="0.7"/>
<polygon points="1207.50,125.30 1203.86,127.40 1203.86,131.60 1207.50,133.70 1211.14,131.60 1211.14,127.40" fill="#77112f" fill-opacity="0.92" stroke="#fff" stroke-width="0.7"/>
<polygon points="1252.10,125.00 1248.46,127.10 1248.46,131.30 1252.10,133.40 1255.74,131.30 1255.74,127.10" fill="#77112f" fill-opacity="0.92" stroke="#fff" stroke-width="0.7"/>
<polygon points="1255.90,109.60 1252.26,111.70 1252.26,115.90 1255.90,118.00 1259.54,115.90 1259.54,111.70" fill="#a11332" fill-opacity="0.92" stroke="#fff" stroke-width="0.7"/>
<polygon points="1259.10,92.90 1255.46,95.00 1255.46,99.20 1259.10,101.30 1262.74,99.20 1262.74,95.00" fill="#c12431" fill-opacity="0.92" stroke="#fff" stroke-width="0.7"/>
<polygon points="1261.80,97.10 1258.16,99.20 1258.16,103.40 1261.80,105.50 1265.44,103.40 1265.44,99.20" fill="#77112f" fill-opacity="0.92" stroke="#fff" stroke-width="0.7"/>
<polygon points="1251.30,97.20 1247.66,99.30 1247.66,103.50 1251.30,105.60 1254.94,103.50 1254.94,99.30" fill="#77112f" fill-opacity="0.92" stroke="#fff" stroke-width="0.7"/>
<polygon points="1261.10,102.80 1257.46,104.90 1257.46,109.10 1261.10,111.20 1264.74,109.10 1264.74,104.90" fill="#da4238" fill-opacity="0.92" stroke="#fff" stroke-width="0.7"/>
<polygon points="1283.40,94.10 1279.76,96.20 1279.76,100.40 1283.40,102.50 1287.04,100.40 1287.04,96.20" fill="#77112f" fill-opacity="0.92" stroke="#fff" stroke-width="0.7"/>
<polygon points="1256.50,108.50 1252.86,110.60 1252.86,114.80 1256.50,116.90 1260.14,114.80 1260.14,110.60" fill="#77112f" fill-opacity="0.92" stroke="#fff" stroke-width="0.7"/>
<polygon points="1259.40,113.40 1255.76,115.50 1255.76,119.70 1259.40,121.80 1263.04,119.70 1263.04,115.50" fill="#77112f" fill-opacity="0.92" stroke="#fff" stroke-width="0.7"/>
<polygon points="1266.20,108.50 1262.56,110.60 1262.56,114.80 1266.20,116.90 1269.84,114.80 1269.84,110.60" fill="#77112f" fill-opacity="0.92" stroke="#fff" stroke-width="0.7"/>
<polygon points="1271.40,106.60 1267.76,108.70 1267.76,112.90 1271.40,115.00 1275.04,112.90 1275.04,108.70" fill="#77112f" fill-opacity="0.92" stroke="#fff" stroke-width="0.7"/>
<polygon points="1274.00,104.90 1270.36,107.00 1270.36,111.20 1274.00,113.30 1277.64,111.20 1277.64,107.00" fill="#77112f" fill-opacity="0.92" stroke="#fff" stroke-width="0.7"/>
<polygon points="1265.40,116.90 1261.76,119.00 1261.76,123.20 1265.40,125.30 1269.04,123.20 1269.04,119.00" fill="#f39a59" fill-opacity="0.92" stroke="#fff" stroke-width="0.7"/>
<polygon points="1270.30,120.70 1266.66,122.80 1266.66,127.00 1270.30,129.10 1273.94,127.00 1273.94,122.80" fill="#77112f" fill-opacity="0.92" stroke="#fff" stroke-width="0.7"/>
<polygon points="1273.50,119.00 1269.86,121.10 1269.86,125.30 1273.50,127.40 1277.14,125.30 1277.14,121.10" fill="#77112f" fill-opacity="0.92" stroke="#fff" stroke-width="0.7"/>
<polygon points="1282.90,110.40 1279.26,112.50 1279.26,116.70 1282.90,118.80 1286.54,116.70 1286.54,112.50" fill="#c12431" fill-opacity="0.92" stroke="#fff" stroke-width="0.7"/>
<polygon points="1299.50,108.00 1295.86,110.10 1295.86,114.30 1299.50,116.40 1303.14,114.30 1303.14,110.10" fill="#77112f" fill-opacity="0.92" stroke="#fff" stroke-width="0.7"/>
<polygon points="1296.70,115.50 1293.06,117.60 1293.06,121.80 1296.70,123.90 1300.34,121.80 1300.34,117.60" fill="#77112f" fill-opacity="0.92" stroke="#fff" stroke-width="0.7"/>
<polygon points="1325.90,116.90 1322.26,119.00 1322.26,123.20 1325.90,125.30 1329.54,123.20 1329.54,119.00" fill="#77112f" fill-opacity="0.92" stroke="#fff" stroke-width="0.7"/>
<polygon points="1255.70,119.90 1252.06,122.00 1252.06,126.20 1255.70,128.30 1259.34,126.20 1259.34,122.00" fill="#77112f" fill-opacity="0.92" stroke="#fff" stroke-width="0.7"/>
<polygon points="1252.90,127.10 1249.26,129.20 1249.26,133.40 1252.90,135.50 1256.54,133.40 1256.54,129.20" fill="#77112f" fill-opacity="0.92" stroke="#fff" stroke-width="0.7"/>
<polygon points="1256.00,133.10 1252.36,135.20 1252.36,139.40 1256.00,141.50 1259.64,139.40 1259.64,135.20" fill="#77112f" fill-opacity="0.92" stroke="#fff" stroke-width="0.7"/>
<polygon points="1278.40,128.80 1274.76,130.90 1274.76,135.10 1278.40,137.20 1282.04,135.10 1282.04,130.90" fill="#77112f" fill-opacity="0.92" stroke="#fff" stroke-width="0.7"/>
<polygon points="1279.20,133.60 1275.56,135.70 1275.56,139.90 1279.20,142.00 1282.84,139.90 1282.84,135.70" fill="#77112f" fill-opacity="0.92" stroke="#fff" stroke-width="0.7"/>
<polygon points="1290.90,138.10 1287.26,140.20 1287.26,144.40 1290.90,146.50 1294.54,144.40 1294.54,140.20" fill="#c12431" fill-opacity="0.92" stroke="#fff" stroke-width="0.7"/>
<polygon points="1298.60,140.00 1294.96,142.10 1294.96,146.30 1298.60,148.40 1302.24,146.30 1302.24,142.10" fill="#77112f" fill-opacity="0.92" stroke="#fff" stroke-width="0.7"/>
<polygon points="1314.00,131.50 1310.36,133.60 1310.36,137.80 1314.00,139.90 1317.64,137.80 1317.64,133.60" fill="#77112f" fill-opacity="0.92" stroke="#fff" stroke-width="0.7"/>
<polygon points="1317.00,131.20 1313.36,133.30 1313.36,137.50 1317.00,139.60 1320.64,137.50 1320.64,133.30" fill="#77112f" fill-opacity="0.92" stroke="#fff" stroke-width="0.7"/>
<polygon points="1261.40,139.20 1257.76,141.30 1257.76,145.50 1261.40,147.60 1265.04,145.50 1265.04,141.30" fill="#77112f" fill-opacity="0.92" stroke="#fff" stroke-width="0.7"/>
<polygon points="1252.40,139.30 1248.76,141.40 1248.76,145.60 1252.40,147.70 1256.04,145.60 1256.04,141.40" fill="#77112f" fill-opacity="0.92" stroke="#fff" stroke-width="0.7"/>
<polygon points="1275.10,144.40 1271.46,146.50 1271.46,150.70 1275.10,152.80 1278.74,150.70 1278.74,146.50" fill="#77112f" fill-opacity="0.92" stroke="#fff" stroke-width="0.7"/>
<polygon points="1254.00,145.80 1250.36,147.90 1250.36,152.10 1254.00,154.20 1257.64,152.10 1257.64,147.90" fill="#f08350" fill-opacity="0.92" stroke="#fff" stroke-width="0.7"/>
<polygon points="1264.80,147.30 1261.16,149.40 1261.16,153.60 1264.80,155.70 1268.44,153.60 1268.44,149.40" fill="#f9bb6a" fill-opacity="0.92" stroke="#fff" stroke-width="0.7"/>
<polygon points="1179.60,129.30 1175.96,131.40 1175.96,135.60 1179.60,137.70 1183.24,135.60 1183.24,131.40" fill="#f39a59" fill-opacity="0.92" stroke="#fff" stroke-width="0.7"/>
<polygon points="1204.00,129.10 1200.36,131.20 1200.36,135.40 1204.00,137.50 1207.64,135.40 1207.64,131.20" fill="#c12431" fill-opacity="0.92" stroke="#fff" stroke-width="0.7"/>
<polygon points="1207.90,126.80 1204.26,128.90 1204.26,133.10 1207.90,135.20 1211.54,133.10 1211.54,128.90" fill="#77112f" fill-opacity="0.92" stroke="#fff" stroke-width="0.7"/>
<polygon points="1224.60,132.00 1220.96,134.10 1220.96,138.30 1224.60,140.40 1228.24,138.30 1228.24,134.10" fill="#fbc979" fill-opacity="0.92" stroke="#fff" stroke-width="0.7"/>
<polygon points="1228.60,133.60 1224.96,135.70 1224.96,139.90 1228.60,142.00 1232.24,139.90 1232.24,135.70" fill="#e5563f" fill-opacity="0.92" stroke="#fff" stroke-width="0.7"/>
<polygon points="1234.30,135.30 1230.66,137.40 1230.66,141.60 1234.30,143.70 1237.94,141.60 1237.94,137.40" fill="#77112f" fill-opacity="0.92" stroke="#fff" stroke-width="0.7"/>
<polygon points="1244.80,133.60 1241.16,135.70 1241.16,139.90 1244.80,142.00 1248.44,139.90 1248.44,135.70" fill="#77112f" fill-opacity="0.92" stroke="#fff" stroke-width="0.7"/>
<polygon points="1215.30,141.40 1211.66,143.50 1211.66,147.70 1215.30,149.80 1218.94,147.70 1218.94,143.50" fill="#77112f" fill-opacity="0.92" stroke="#fff" stroke-width="0.7"/>
<polygon points="1222.50,141.70 1218.86,143.80 1218.86,148.00 1222.50,150.10 1226.14,148.00 1226.14,143.80" fill="#b31932" fill-opacity="0.92" stroke="#fff" stroke-width="0.7"/>
<polygon points="1229.90,142.10 1226.26,144.20 1226.26,148.40 1229.90,150.50 1233.54,148.40 1233.54,144.20" fill="#77112f" fill-opacity="0.92" stroke="#fff" stroke-width="0.7"/>
<polygon points="1240.80,141.40 1237.16,143.50 1237.16,147.70 1240.80,149.80 1244.44,147.70 1244.44,143.50" fill="#b31932" fill-opacity="0.92" stroke="#fff" stroke-width="0.7"/>
<polygon points="1251.30,140.90 1247.66,143.00 1247.66,147.20 1251.30,149.30 1254.94,147.20 1254.94,143.00" fill="#77112f" fill-opacity="0.92" stroke="#fff" stroke-width="0.7"/>
<polygon points="1214.30,149.00 1210.66,151.10 1210.66,155.30 1214.30,157.40 1217.94,155.30 1217.94,151.10" fill="#77112f" fill-opacity="0.92" stroke="#fff" stroke-width="0.7"/>
<polygon points="1222.10,150.20 1218.46,152.30 1218.46,156.50 1222.10,158.60 1225.74,156.50 1225.74,152.30" fill="#77112f" fill-opacity="0.92" stroke="#fff" stroke-width="0.7"/>
<polygon points="1234.80,147.90 1231.16,150.00 1231.16,154.20 1234.80,156.30 1238.44,154.20 1238.44,150.00" fill="#77112f" fill-opacity="0.92" stroke="#fff" stroke-width="0.7"/>
<polygon points="1240.80,153.10 1237.16,155.20 1237.16,159.40 1240.80,161.50 1244.44,159.40 1244.44,155.20" fill="#77112f" fill-opacity="0.92" stroke="#fff" stroke-width="0.7"/>
<polygon points="1248.10,149.90 1244.46,152.00 1244.46,156.20 1248.10,158.30 1251.74,156.20 1251.74,152.00" fill="#77112f" fill-opacity="0.92" stroke="#fff" stroke-width="0.7"/>
<polygon points="1180.30,150.70 1176.66,152.80 1176.66,157.00 1180.30,159.10 1183.94,157.00 1183.94,152.80" fill="#fdd888" fill-opacity="0.92" stroke="#fff" stroke-width="0.7"/>
<polygon points="1197.00,156.30 1193.36,158.40 1193.36,162.60 1197.00,164.70 1200.64,162.60 1200.64,158.40" fill="#fffccd" fill-opacity="0.92" stroke="#fff" stroke-width="0.7"/>
<polygon points="1212.70,153.60 1209.06,155.70 1209.06,159.90 1212.70,162.00 1216.34,159.90 1216.34,155.70" fill="#c12431" fill-opacity="0.92" stroke="#fff" stroke-width="0.7"/>
<polygon points="1225.40,156.30 1221.76,158.40 1221.76,162.60 1225.40,164.70 1229.04,162.60 1229.04,158.40" fill="#f08350" fill-opacity="0.92" stroke="#fff" stroke-width="0.7"/>
<polygon points="1231.90,154.70 1228.26,156.80 1228.26,161.00 1231.90,163.10 1235.54,161.00 1235.54,156.80" fill="#77112f" fill-opacity="0.92" stroke="#fff" stroke-width="0.7"/>
<polygon points="1214.80,159.90 1211.16,162.00 1211.16,166.20 1214.80,168.30 1218.44,166.20 1218.44,162.00" fill="#77112f" fill-opacity="0.92" stroke="#fff" stroke-width="0.7"/>
<polygon points="1218.90,161.50 1215.26,163.60 1215.26,167.80 1218.90,169.90 1222.54,167.80 1222.54,163.60" fill="#da4238" fill-opacity="0.92" stroke="#fff" stroke-width="0.7"/>
<polygon points="1232.70,159.90 1229.06,162.00 1229.06,166.20 1232.70,168.30 1236.34,166.20 1236.34,162.00" fill="#b31932" fill-opacity="0.92" stroke="#fff" stroke-width="0.7"/>
<polygon points="1238.30,162.00 1234.66,164.10 1234.66,168.30 1238.30,170.40 1241.94,168.30 1241.94,164.10" fill="#77112f" fill-opacity="0.92" stroke="#fff" stroke-width="0.7"/>
<polygon points="1245.60,163.10 1241.96,165.20 1241.96,169.40 1245.60,171.50 1249.24,169.40 1249.24,165.20" fill="#77112f" fill-opacity="0.92" stroke="#fff" stroke-width="0.7"/>
<polygon points="1250.00,157.60 1246.36,159.70 1246.36,163.90 1250.00,166.00 1253.64,163.90 1253.64,159.70" fill="#f08350" fill-opacity="0.92" stroke="#fff" stroke-width="0.7"/>
<polygon points="1251.00,163.60 1247.36,165.70 1247.36,169.90 1251.00,172.00 1254.64,169.90 1254.64,165.70" fill="#77112f" fill-opacity="0.92" stroke="#fff" stroke-width="0.7"/>
<polygon points="1208.30,165.30 1204.66,167.40 1204.66,171.60 1208.30,173.70 1211.94,171.60 1211.94,167.40" fill="#fff4ba" fill-opacity="0.92" stroke="#fff" stroke-width="0.7"/>
<polygon points="1210.00,169.30 1206.36,171.40 1206.36,175.60 1210.00,177.70 1213.64,175.60 1213.64,171.40" fill="#b31932" fill-opacity="0.92" stroke="#fff" stroke-width="0.7"/>
<polygon points="1232.70,166.10 1229.06,168.20 1229.06,172.40 1232.70,174.50 1236.34,172.40 1236.34,168.20" fill="#77112f" fill-opacity="0.92" stroke="#fff" stroke-width="0.7"/>
<polygon points="1237.50,170.10 1233.86,172.20 1233.86,176.40 1237.50,178.50 1241.14,176.40 1241.14,172.20" fill="#77112f" fill-opacity="0.92" stroke="#fff" stroke-width="0.7"/>
<polygon points="1228.90,171.70 1225.26,173.80 1225.26,178.00 1228.90,180.10 1232.54,178.00 1232.54,173.80" fill="#fbc979" fill-opacity="0.92" stroke="#fff" stroke-width="0.7"/>
<polygon points="1222.10,175.30 1218.46,177.40 1218.46,181.60 1222.10,183.70 1225.74,181.60 1225.74,177.40" fill="#77112f" fill-opacity="0.92" stroke="#fff" stroke-width="0.7"/>
<polygon points="1182.40,176.30 1178.76,178.40 1178.76,182.60 1182.40,184.70 1186.04,182.60 1186.04,178.40" fill="#c12431" fill-opacity="0.92" stroke="#fff" stroke-width="0.7"/>
<polygon points="1254.60,170.90 1250.96,173.00 1250.96,177.20 1254.60,179.30 1258.24,177.20 1258.24,173.00" fill="#77112f" fill-opacity="0.92" stroke="#fff" stroke-width="0.7"/>
<polygon points="1256.50,151.20 1252.86,153.30 1252.86,157.50 1256.50,159.60 1260.14,157.50 1260.14,153.30" fill="#77112f" fill-opacity="0.92" stroke="#fff" stroke-width="0.7"/>
<polygon points="1265.40,152.80 1261.76,154.90 1261.76,159.10 1265.40,161.20 1269.04,159.10 1269.04,154.90" fill="#77112f" fill-opacity="0.92" stroke="#fff" stroke-width="0.7"/>
<polygon points="1293.00,149.10 1289.36,151.20 1289.36,155.40 1293.00,157.50 1296.64,155.40 1296.64,151.20" fill="#77112f" fill-opacity="0.92" stroke="#fff" stroke-width="0.7"/>
<polygon points="1261.40,156.90 1257.76,159.00 1257.76,163.20 1261.40,165.30 1265.04,163.20 1265.04,159.00" fill="#da4238" fill-opacity="0.92" stroke="#fff" stroke-width="0.7"/>
<polygon points="1280.00,158.50 1276.36,160.60 1276.36,164.80 1280.00,166.90 1283.64,164.80 1283.64,160.60" fill="#77112f" fill-opacity="0.92" stroke="#fff" stroke-width="0.7"/>
<polygon points="1284.00,159.30 1280.36,161.40 1280.36,165.60 1284.00,167.70 1287.64,165.60 1287.64,161.40" fill="#77112f" fill-opacity="0.92" stroke="#fff" stroke-width="0.7"/>
<polygon points="1311.30,152.80 1307.66,154.90 1307.66,159.10 1311.30,161.20 1314.94,159.10 1314.94,154.90" fill="#b31932" fill-opacity="0.92" stroke="#fff" stroke-width="0.7"/>
<polygon points="1320.00,152.80 1316.36,154.90 1316.36,159.10 1320.00,161.20 1323.64,159.10 1323.64,154.90" fill="#77112f" fill-opacity="0.92" stroke="#fff" stroke-width="0.7"/>
<polygon points="1332.40,152.00 1328.76,154.10 1328.76,158.30 1332.40,160.40 1336.04,158.30 1336.04,154.10" fill="#77112f" fill-opacity="0.92" stroke="#fff" stroke-width="0.7"/>
<polygon points="1324.30,158.50 1320.66,160.60 1320.66,164.80 1324.30,166.90 1327.94,164.80 1327.94,160.60" fill="#77112f" fill-opacity="0.92" stroke="#fff" stroke-width="0.7"/>
<polygon points="1329.50,161.70 1325.86,163.80 1325.86,168.00 1329.50,170.10 1333.14,168.00 1333.14,163.80" fill="#b31932" fill-opacity="0.92" stroke="#fff" stroke-width="0.7"/>
<polygon points="1312.90,160.60 1309.26,162.70 1309.26,166.90 1312.90,169.00 1316.54,166.90 1316.54,162.70" fill="#ec6c48" fill-opacity="0.92" stroke="#fff" stroke-width="0.7"/>
<polygon points="1258.90,164.20 1255.26,166.30 1255.26,170.50 1258.90,172.60 1262.54,170.50 1262.54,166.30" fill="#f08350" fill-opacity="0.92" stroke="#fff" stroke-width="0.7"/>
<polygon points="1270.30,165.30 1266.66,167.40 1266.66,171.60 1270.30,173.70 1273.94,171.60 1273.94,167.40" fill="#77112f" fill-opacity="0.92" stroke="#fff" stroke-width="0.7"/>
<polygon points="1301.90,165.00 1298.26,167.10 1298.26,171.30 1301.90,173.40 1305.54,171.30 1305.54,167.10" fill="#77112f" fill-opacity="0.92" stroke="#fff" stroke-width="0.7"/>
<polygon points="1316.50,168.20 1312.86,170.30 1312.86,174.50 1316.50,176.60 1320.14,174.50 1320.14,170.30" fill="#77112f" fill-opacity="0.92" stroke="#fff" stroke-width="0.7"/>
<polygon points="1330.80,167.90 1327.16,170.00 1327.16,174.20 1330.80,176.30 1334.44,174.20 1334.44,170.00" fill="#77112f" fill-opacity="0.92" stroke="#fff" stroke-width="0.7"/>
<polygon points="1254.90,171.20 1251.26,173.30 1251.26,177.50 1254.90,179.60 1258.54,177.50 1258.54,173.30" fill="#c12431" fill-opacity="0.92" stroke="#fff" stroke-width="0.7"/>
<polygon points="1263.00,169.90 1259.36,172.00 1259.36,176.20 1263.00,178.30 1266.64,176.20 1266.64,172.00" fill="#77112f" fill-opacity="0.92" stroke="#fff" stroke-width="0.7"/>
<polygon points="1270.30,172.30 1266.66,174.40 1266.66,178.60 1270.30,180.70 1273.94,178.60 1273.94,174.40" fill="#e5563f" fill-opacity="0.92" stroke="#fff" stroke-width="0.7"/>
<polygon points="1277.60,171.20 1273.96,173.30 1273.96,177.50 1277.60,179.60 1281.24,177.50 1281.24,173.30" fill="#c12431" fill-opacity="0.92" stroke="#fff" stroke-width="0.7"/>
<polygon points="1284.00,169.00 1280.36,171.10 1280.36,175.30 1284.00,177.40 1287.64,175.30 1287.64,171.10" fill="#77112f" fill-opacity="0.92" stroke="#fff" stroke-width="0.7"/>
<polygon points="1290.50,166.60 1286.86,168.70 1286.86,172.90 1290.50,175.00 1294.14,172.90 1294.14,168.70" fill="#c12431" fill-opacity="0.92" stroke="#fff" stroke-width="0.7"/>
<polygon points="1306.80,170.20 1303.16,172.30 1303.16,176.50 1306.80,178.60 1310.44,176.50 1310.44,172.30" fill="#77112f" fill-opacity="0.92" stroke="#fff" stroke-width="0.7"/>
<polygon points="1310.80,168.20 1307.16,170.30 1307.16,174.50 1310.80,176.60 1314.44,174.50 1314.44,170.30" fill="#77112f" fill-opacity="0.92" stroke="#fff" stroke-width="0.7"/>
<polygon points="1263.00,174.40 1259.36,176.50 1259.36,180.70 1263.00,182.80 1266.64,180.70 1266.64,176.50" fill="#77112f" fill-opacity="0.92" stroke="#fff" stroke-width="0.7"/>
<polygon points="1282.40,177.60 1278.76,179.70 1278.76,183.90 1282.40,186.00 1286.04,183.90 1286.04,179.70" fill="#fccf7f" fill-opacity="0.92" stroke="#fff" stroke-width="0.7"/>
<polygon points="1299.50,175.50 1295.86,177.60 1295.86,181.80 1299.50,183.90 1303.14,181.80 1303.14,177.60" fill="#77112f" fill-opacity="0.92" stroke="#fff" stroke-width="0.7"/>
<polygon points="1327.50,173.90 1323.86,176.00 1323.86,180.20 1327.50,182.30 1331.14,180.20 1331.14,176.00" fill="#da4238" fill-opacity="0.92" stroke="#fff" stroke-width="0.7"/>
<polygon points="1320.50,178.80 1316.86,180.90 1316.86,185.10 1320.50,187.20 1324.14,185.10 1324.14,180.90" fill="#77112f" fill-opacity="0.92" stroke="#fff" stroke-width="0.7"/>
<polygon points="1256.50,180.40 1252.86,182.50 1252.86,186.70 1256.50,188.80 1260.14,186.70 1260.14,182.50" fill="#77112f" fill-opacity="0.92" stroke="#fff" stroke-width="0.7"/>
<polygon points="1265.40,180.40 1261.76,182.50 1261.76,186.70 1265.40,188.80 1269.04,186.70 1269.04,182.50" fill="#da4238" fill-opacity="0.92" stroke="#fff" stroke-width="0.7"/>
<polygon points="1269.10,182.80 1265.46,184.90 1265.46,189.10 1269.10,191.20 1272.74,189.10 1272.74,184.90" fill="#77112f" fill-opacity="0.92" stroke="#fff" stroke-width="0.7"/>
<polygon points="1274.30,179.60 1270.66,181.70 1270.66,185.90 1274.30,188.00 1277.94,185.90 1277.94,181.70" fill="#c12431" fill-opacity="0.92" stroke="#fff" stroke-width="0.7"/>
<polygon points="1276.00,184.40 1272.36,186.50 1272.36,190.70 1276.00,192.80 1279.64,190.70 1279.64,186.50" fill="#da4238" fill-opacity="0.92" stroke="#fff" stroke-width="0.7"/>
<polygon points="1289.70,182.80 1286.06,184.90 1286.06,189.10 1289.70,191.20 1293.34,189.10 1293.34,184.90" fill="#77112f" fill-opacity="0.92" stroke="#fff" stroke-width="0.7"/>
<polygon points="1297.00,181.20 1293.36,183.30 1293.36,187.50 1297.00,189.60 1300.64,187.50 1300.64,183.30" fill="#c12431" fill-opacity="0.92" stroke="#fff" stroke-width="0.7"/>
<polygon points="1304.30,183.60 1300.66,185.70 1300.66,189.90 1304.30,192.00 1307.94,189.90 1307.94,185.70" fill="#77112f" fill-opacity="0.92" stroke="#fff" stroke-width="0.7"/>
<polygon points="1307.10,182.00 1303.46,184.10 1303.46,188.30 1307.10,190.40 1310.74,188.30 1310.74,184.10" fill="#da4238" fill-opacity="0.92" stroke="#fff" stroke-width="0.7"/>
<polygon points="1300.30,187.40 1296.66,189.50 1296.66,193.70 1300.30,195.80 1303.94,193.70 1303.94,189.50" fill="#da4238" fill-opacity="0.92" stroke="#fff" stroke-width="0.7"/>
<polygon points="1334.00,182.80 1330.36,184.90 1330.36,189.10 1334.00,191.20 1337.64,189.10 1337.64,184.90" fill="#77112f" fill-opacity="0.92" stroke="#fff" stroke-width="0.7"/>
<polygon points="1254.90,186.10 1251.26,188.20 1251.26,192.40 1254.90,194.50 1258.54,192.40 1258.54,188.20" fill="#77112f" fill-opacity="0.92" stroke="#fff" stroke-width="0.7"/>
<polygon points="1262.20,188.50 1258.56,190.60 1258.56,194.80 1262.20,196.90 1265.84,194.80 1265.84,190.60" fill="#77112f" fill-opacity="0.92" stroke="#fff" stroke-width="0.7"/>
<polygon points="1277.60,190.10 1273.96,192.20 1273.96,196.40 1277.60,198.50 1281.24,196.40 1281.24,192.20" fill="#77112f" fill-opacity="0.92" stroke="#fff" stroke-width="0.7"/>
<polygon points="1287.00,191.70 1283.36,193.80 1283.36,198.00 1287.00,200.10 1290.64,198.00 1290.64,193.80" fill="#77112f" fill-opacity="0.92" stroke="#fff" stroke-width="0.7"/>
<polygon points="1291.80,194.20 1288.16,196.30 1288.16,200.50 1291.80,202.60 1295.44,200.50 1295.44,196.30" fill="#77112f" fill-opacity="0.92" stroke="#fff" stroke-width="0.7"/>
<polygon points="1307.60,194.20 1303.96,196.30 1303.96,200.50 1307.60,202.60 1311.24,200.50 1311.24,196.30" fill="#c12431" fill-opacity="0.92" stroke="#fff" stroke-width="0.7"/>
<polygon points="1324.60,194.20 1320.96,196.30 1320.96,200.50 1324.60,202.60 1328.24,200.50 1328.24,196.30" fill="#77112f" fill-opacity="0.92" stroke="#fff" stroke-width="0.7"/>
<polygon points="1334.30,190.90 1330.66,193.00 1330.66,197.20 1334.30,199.30 1337.94,197.20 1337.94,193.00" fill="#77112f" fill-opacity="0.92" stroke="#fff" stroke-width="0.7"/>
<polygon points="1271.10,194.20 1267.46,196.30 1267.46,200.50 1271.10,202.60 1274.74,200.50 1274.74,196.30" fill="#77112f" fill-opacity="0.92" stroke="#fff" stroke-width="0.7"/>
<polygon points="1256.50,193.40 1252.86,195.50 1252.86,199.70 1256.50,201.80 1260.14,199.70 1260.14,195.50" fill="#aa1432" fill-opacity="0.92" stroke="#fff" stroke-width="0.7"/>
<polygon points="1210.50,176.80 1206.86,178.90 1206.86,183.10 1210.50,185.20 1214.14,183.10 1214.14,178.90" fill="#fff0b1" fill-opacity="0.92" stroke="#fff" stroke-width="0.7"/>
<polygon points="1207.50,181.70 1203.86,183.80 1203.86,188.00 1207.50,190.10 1211.14,188.00 1211.14,183.80" fill="#f08350" fill-opacity="0.92" stroke="#fff" stroke-width="0.7"/>
<polygon points="1214.00,173.60 1210.36,175.70 1210.36,179.90 1214.00,182.00 1217.64,179.90 1217.64,175.70" fill="#77112f" fill-opacity="0.92" stroke="#fff" stroke-width="0.7"/>
<polygon points="1229.40,181.20 1225.76,183.30 1225.76,187.50 1229.40,189.60 1233.04,187.50 1233.04,183.30" fill="#fff0b1" fill-opacity="0.92" stroke="#fff" stroke-width="0.7"/>
<polygon points="1215.60,186.10 1211.96,188.20 1211.96,192.40 1215.60,194.50 1219.24,192.40 1219.24,188.20" fill="#f39a59" fill-opacity="0.92" stroke="#fff" stroke-width="0.7"/>
<polygon points="1223.00,185.30 1219.36,187.40 1219.36,191.60 1223.00,193.70 1226.64,191.60 1226.64,187.40" fill="#77112f" fill-opacity="0.92" stroke="#fff" stroke-width="0.7"/>
<polygon points="1240.00,175.50 1236.36,177.60 1236.36,181.80 1240.00,183.90 1243.64,181.80 1243.64,177.60" fill="#77112f" fill-opacity="0.92" stroke="#fff" stroke-width="0.7"/>
<polygon points="1238.30,182.00 1234.66,184.10 1234.66,188.30 1238.30,190.40 1241.94,188.30 1241.94,184.10" fill="#c12431" fill-opacity="0.92" stroke="#fff" stroke-width="0.7"/>
<polygon points="1246.50,186.10 1242.86,188.20 1242.86,192.40 1246.50,194.50 1250.14,192.40 1250.14,188.20" fill="#c12431" fill-opacity="0.92" stroke="#fff" stroke-width="0.7"/>
<polygon points="1252.90,182.00 1249.26,184.10 1249.26,188.30 1252.90,190.40 1256.54,188.30 1256.54,184.10" fill="#77112f" fill-opacity="0.92" stroke="#fff" stroke-width="0.7"/>
<polygon points="1184.00,189.30 1180.36,191.40 1180.36,195.60 1184.00,197.70 1187.64,195.60 1187.64,191.40" fill="#fbc979" fill-opacity="0.92" stroke="#fff" stroke-width="0.7"/>
<polygon points="1191.00,191.40 1187.36,193.50 1187.36,197.70 1191.00,199.80 1194.64,197.70 1194.64,193.50" fill="#fbc979" fill-opacity="0.92" stroke="#fff" stroke-width="0.7"/>
<polygon points="1184.50,197.40 1180.86,199.50 1180.86,203.70 1184.50,205.80 1188.14,203.70 1188.14,199.50" fill="#fff0b1" fill-opacity="0.92" stroke="#fff" stroke-width="0.7"/>
<polygon points="1192.60,202.80 1188.96,204.90 1188.96,209.10 1192.60,211.20 1196.24,209.10 1196.24,204.90" fill="#fff0b1" fill-opacity="0.92" stroke="#fff" stroke-width="0.7"/>
<polygon points="1198.10,195.00 1194.46,197.10 1194.46,201.30 1198.10,203.40 1201.74,201.30 1201.74,197.10" fill="#f39a59" fill-opacity="0.92" stroke="#fff" stroke-width="0.7"/>
<polygon points="1205.10,192.60 1201.46,194.70 1201.46,198.90 1205.10,201.00 1208.74,198.90 1208.74,194.70" fill="#e5563f" fill-opacity="0.92" stroke="#fff" stroke-width="0.7"/>
<polygon points="1205.60,197.40 1201.96,199.50 1201.96,203.70 1205.60,205.80 1209.24,203.70 1209.24,199.50" fill="#c12431" fill-opacity="0.92" stroke="#fff" stroke-width="0.7"/>
<polygon points="1217.30,195.00 1213.66,197.10 1213.66,201.30 1217.30,203.40 1220.94,201.30 1220.94,197.10" fill="#ec6c48" fill-opacity="0.92" stroke="#fff" stroke-width="0.7"/>
<polygon points="1223.80,195.80 1220.16,197.90 1220.16,202.10 1223.80,204.20 1227.44,202.10 1227.44,197.90" fill="#f08350" fill-opacity="0.92" stroke="#fff" stroke-width="0.7"/>
<polygon points="1230.20,190.90 1226.56,193.00 1226.56,197.20 1230.20,199.30 1233.84,197.20 1233.84,193.00" fill="#77112f" fill-opacity="0.92" stroke="#fff" stroke-width="0.7"/>
<polygon points="1237.50,192.60 1233.86,194.70 1233.86,198.90 1237.50,201.00 1241.14,198.90 1241.14,194.70" fill="#77112f" fill-opacity="0.92" stroke="#fff" stroke-width="0.7"/>
<polygon points="1248.90,194.20 1245.26,196.30 1245.26,200.50 1248.90,202.60 1252.54,200.50 1252.54,196.30" fill="#77112f" fill-opacity="0.92" stroke="#fff" stroke-width="0.7"/>
<polygon points="1254.60,195.80 1250.96,197.90 1250.96,202.10 1254.60,204.20 1258.24,202.10 1258.24,197.90" fill="#77112f" fill-opacity="0.92" stroke="#fff" stroke-width="0.7"/>
<polygon points="1204.00,202.80 1200.36,204.90 1200.36,209.10 1204.00,211.20 1207.64,209.10 1207.64,204.90" fill="#c12431" fill-opacity="0.92" stroke="#fff" stroke-width="0.7"/>
<polygon points="1211.10,202.30 1207.46,204.40 1207.46,208.60 1211.10,210.70 1214.74,208.60 1214.74,204.40" fill="#c12431" fill-opacity="0.92" stroke="#fff" stroke-width="0.7"/>
<polygon points="1221.30,205.50 1217.66,207.60 1217.66,211.80 1221.30,213.90 1224.94,211.80 1224.94,207.60" fill="#f08350" fill-opacity="0.92" stroke="#fff" stroke-width="0.7"/>
<polygon points="1228.60,205.50 1224.96,207.60 1224.96,211.80 1228.60,213.90 1232.24,211.80 1232.24,207.60" fill="#77112f" fill-opacity="0.92" stroke="#fff" stroke-width="0.7"/>
<polygon points="1240.00,199.80 1236.36,201.90 1236.36,206.10 1240.00,208.20 1243.64,206.10 1243.64,201.90" fill="#77112f" fill-opacity="0.92" stroke="#fff" stroke-width="0.7"/>
<polygon points="1238.00,205.50 1234.36,207.60 1234.36,211.80 1238.00,213.90 1241.64,211.80 1241.64,207.60" fill="#f39a59" fill-opacity="0.92" stroke="#fff" stroke-width="0.7"/>
<polygon points="1244.80,205.50 1241.16,207.60 1241.16,211.80 1244.80,213.90 1248.44,211.80 1248.44,207.60" fill="#77112f" fill-opacity="0.92" stroke="#fff" stroke-width="0.7"/>
<polygon points="1252.10,202.80 1248.46,204.90 1248.46,209.10 1252.10,211.20 1255.74,209.10 1255.74,204.90" fill="#f39a59" fill-opacity="0.92" stroke="#fff" stroke-width="0.7"/>
<polygon points="1209.50,208.80 1205.86,210.90 1205.86,215.10 1209.50,217.20 1213.14,215.10 1213.14,210.90" fill="#b31932" fill-opacity="0.92" stroke="#fff" stroke-width="0.7"/>
<polygon points="1214.00,208.30 1210.36,210.40 1210.36,214.60 1214.00,216.70 1217.64,214.60 1217.64,210.40" fill="#fffccd" fill-opacity="0.92" stroke="#fff" stroke-width="0.7"/>
<polygon points="1201.00,212.80 1197.36,214.90 1197.36,219.10 1201.00,221.20 1204.64,219.10 1204.64,214.90" fill="#f39a59" fill-opacity="0.92" stroke="#fff" stroke-width="0.7"/>
<polygon points="1206.70,216.10 1203.06,218.20 1203.06,222.40 1206.70,224.50 1210.34,222.40 1210.34,218.20" fill="#fff0b1" fill-opacity="0.92" stroke="#fff" stroke-width="0.7"/>
<polygon points="1225.40,216.10 1221.76,218.20 1221.76,222.40 1225.40,224.50 1229.04,222.40 1229.04,218.20" fill="#77112f" fill-opacity="0.92" stroke="#fff" stroke-width="0.7"/>
<polygon points="1235.10,212.00 1231.46,214.10 1231.46,218.30 1235.10,220.40 1238.74,218.30 1238.74,214.10" fill="#ffe9a5" fill-opacity="0.92" stroke="#fff" stroke-width="0.7"/>
<polygon points="1233.50,217.40 1229.86,219.50 1229.86,223.70 1233.50,225.80 1237.14,223.70 1237.14,219.50" fill="#fbc979" fill-opacity="0.92" stroke="#fff" stroke-width="0.7"/>
<polygon points="1248.10,212.00 1244.46,214.10 1244.46,218.30 1248.10,220.40 1251.74,218.30 1251.74,214.10" fill="#77112f" fill-opacity="0.92" stroke="#fff" stroke-width="0.7"/>
<polygon points="1241.60,209.60 1237.96,211.70 1237.96,215.90 1241.60,218.00 1245.24,215.90 1245.24,211.70" fill="#77112f" fill-opacity="0.92" stroke="#fff" stroke-width="0.7"/>
<polygon points="1202.70,220.90 1199.06,223.00 1199.06,227.20 1202.70,229.30 1206.34,227.20 1206.34,223.00" fill="#e5563f" fill-opacity="0.92" stroke="#fff" stroke-width="0.7"/>
<polygon points="1209.50,224.50 1205.86,226.60 1205.86,230.80 1209.50,232.90 1213.14,230.80 1213.14,226.60" fill="#fee397" fill-opacity="0.92" stroke="#fff" stroke-width="0.7"/>
<polygon points="1217.30,224.50 1213.66,226.60 1213.66,230.80 1217.30,232.90 1220.94,230.80 1220.94,226.60" fill="#77112f" fill-opacity="0.92" stroke="#fff" stroke-width="0.7"/>
<polygon points="1228.60,220.90 1224.96,223.00 1224.96,227.20 1228.60,229.30 1232.24,227.20 1232.24,223.00" fill="#f39a59" fill-opacity="0.92" stroke="#fff" stroke-width="0.7"/>
<polygon points="1232.70,224.50 1229.06,226.60 1229.06,230.80 1232.70,232.90 1236.34,230.80 1236.34,226.60" fill="#77112f" fill-opacity="0.92" stroke="#fff" stroke-width="0.7"/>
<polygon points="1251.30,220.10 1247.66,222.20 1247.66,226.40 1251.30,228.50 1254.94,226.40 1254.94,222.20" fill="#c12431" fill-opacity="0.92" stroke="#fff" stroke-width="0.7"/>
<polygon points="1255.40,220.10 1251.76,222.20 1251.76,226.40 1255.40,228.50 1259.04,226.40 1259.04,222.20" fill="#77112f" fill-opacity="0.92" stroke="#fff" stroke-width="0.7"/>
<polygon points="1276.00,185.80 1272.36,187.90 1272.36,192.10 1276.00,194.20 1279.64,192.10 1279.64,187.90" fill="#c12431" fill-opacity="0.92" stroke="#fff" stroke-width="0.7"/>
<polygon points="1287.30,187.40 1283.66,189.50 1283.66,193.70 1287.30,195.80 1290.94,193.70 1290.94,189.50" fill="#77112f" fill-opacity="0.92" stroke="#fff" stroke-width="0.7"/>
<polygon points="1254.00,197.20 1250.36,199.30 1250.36,203.50 1254.00,205.60 1257.64,203.50 1257.64,199.30" fill="#77112f" fill-opacity="0.92" stroke="#fff" stroke-width="0.7"/>
<polygon points="1262.20,192.30 1258.56,194.40 1258.56,198.60 1262.20,200.70 1265.84,198.60 1265.84,194.40" fill="#77112f" fill-opacity="0.92" stroke="#fff" stroke-width="0.7"/>
<polygon points="1267.00,191.50 1263.36,193.60 1263.36,197.80 1267.00,199.90 1270.64,197.80 1270.64,193.60" fill="#77112f" fill-opacity="0.92" stroke="#fff" stroke-width="0.7"/>
<polygon points="1273.50,195.50 1269.86,197.60 1269.86,201.80 1273.50,203.90 1277.14,201.80 1277.14,197.60" fill="#77112f" fill-opacity="0.92" stroke="#fff" stroke-width="0.7"/>
<polygon points="1279.20,190.70 1275.56,192.80 1275.56,197.00 1279.20,199.10 1282.84,197.00 1282.84,192.80" fill="#77112f" fill-opacity="0.92" stroke="#fff" stroke-width="0.7"/>
<polygon points="1294.60,195.20 1290.96,197.30 1290.96,201.50 1294.60,203.60 1298.24,201.50 1298.24,197.30" fill="#77112f" fill-opacity="0.92" stroke="#fff" stroke-width="0.7"/>
<polygon points="1301.60,197.50 1297.96,199.60 1297.96,203.80 1301.60,205.90 1305.24,203.80 1305.24,199.60" fill="#77112f" fill-opacity="0.92" stroke="#fff" stroke-width="0.7"/>
<polygon points="1307.60,195.20 1303.96,197.30 1303.96,201.50 1307.60,203.60 1311.24,201.50 1311.24,197.30" fill="#da4238" fill-opacity="0.92" stroke="#fff" stroke-width="0.7"/>
<polygon points="1252.00,202.00 1248.36,204.10 1248.36,208.30 1252.00,210.40 1255.64,208.30 1255.64,204.10" fill="#f39a59" fill-opacity="0.92" stroke="#fff" stroke-width="0.7"/>
<polygon points="1260.50,202.30 1256.86,204.40 1256.86,208.60 1260.50,210.70 1264.14,208.60 1264.14,204.40" fill="#77112f" fill-opacity="0.92" stroke="#fff" stroke-width="0.7"/>
<polygon points="1268.20,202.80 1264.56,204.90 1264.56,209.10 1268.20,211.20 1271.84,209.10 1271.84,204.90" fill="#da4238" fill-opacity="0.92" stroke="#fff" stroke-width="0.7"/>
<polygon points="1276.00,205.30 1272.36,207.40 1272.36,211.60 1276.00,213.70 1279.64,211.60 1279.64,207.40" fill="#77112f" fill-opacity="0.92" stroke="#fff" stroke-width="0.7"/>
<polygon points="1297.00,202.80 1293.36,204.90 1293.36,209.10 1297.00,211.20 1300.64,209.10 1300.64,204.90" fill="#ec6c48" fill-opacity="0.92" stroke="#fff" stroke-width="0.7"/>
<polygon points="1305.10,202.80 1301.46,204.90 1301.46,209.10 1305.10,211.20 1308.74,209.10 1308.74,204.90" fill="#77112f" fill-opacity="0.92" stroke="#fff" stroke-width="0.7"/>
<polygon points="1258.90,209.30 1255.26,211.40 1255.26,215.60 1258.90,217.70 1262.54,215.60 1262.54,211.40" fill="#b31932" fill-opacity="0.92" stroke="#fff" stroke-width="0.7"/>
<polygon points="1264.30,211.70 1260.66,213.80 1260.66,218.00 1264.30,220.10 1267.94,218.00 1267.94,213.80" fill="#fff9c8" fill-opacity="0.92" stroke="#fff" stroke-width="0.7"/>
<polygon points="1271.90,212.10 1268.26,214.20 1268.26,218.40 1271.90,220.50 1275.54,218.40 1275.54,214.20" fill="#77112f" fill-opacity="0.92" stroke="#fff" stroke-width="0.7"/>
<polygon points="1276.30,212.10 1272.66,214.20 1272.66,218.40 1276.30,220.50 1279.94,218.40 1279.94,214.20" fill="#fee397" fill-opacity="0.92" stroke="#fff" stroke-width="0.7"/>
<polygon points="1280.80,215.80 1277.16,217.90 1277.16,222.10 1280.80,224.20 1284.44,222.10 1284.44,217.90" fill="#c12431" fill-opacity="0.92" stroke="#fff" stroke-width="0.7"/>
<polygon points="1285.70,220.20 1282.06,222.30 1282.06,226.50 1285.70,228.60 1289.34,226.50 1289.34,222.30" fill="#fee397" fill-opacity="0.92" stroke="#fff" stroke-width="0.7"/>
<polygon points="1313.20,212.10 1309.56,214.20 1309.56,218.40 1313.20,220.50 1316.84,218.40 1316.84,214.20" fill="#77112f" fill-opacity="0.92" stroke="#fff" stroke-width="0.7"/>
<polygon points="1331.10,212.10 1327.46,214.20 1327.46,218.40 1331.10,220.50 1334.74,218.40 1334.74,214.20" fill="#c12431" fill-opacity="0.92" stroke="#fff" stroke-width="0.7"/>
<polygon points="1335.10,208.50 1331.46,210.60 1331.46,214.80 1335.10,216.90 1338.74,214.80 1338.74,210.60" fill="#77112f" fill-opacity="0.92" stroke="#fff" stroke-width="0.7"/>
<polygon points="1254.90,219.80 1251.26,221.90 1251.26,226.10 1254.90,228.20 1258.54,226.10 1258.54,221.90" fill="#77112f" fill-opacity="0.92" stroke="#fff" stroke-width="0.7"/>
<polygon points="1261.70,220.20 1258.06,222.30 1258.06,226.50 1261.70,228.60 1265.34,226.50 1265.34,222.30" fill="#b31932" fill-opacity="0.92" stroke="#fff" stroke-width="0.7"/>
<polygon points="1266.20,225.50 1262.56,227.60 1262.56,231.80 1266.20,233.90 1269.84,231.80 1269.84,227.60" fill="#77112f" fill-opacity="0.92" stroke="#fff" stroke-width="0.7"/>
<polygon points="1274.30,225.50 1270.66,227.60 1270.66,231.80 1274.30,233.90 1277.94,231.80 1277.94,227.60" fill="#77112f" fill-opacity="0.92" stroke="#fff" stroke-width="0.7"/>
<polygon points="1279.20,225.50 1275.56,227.60 1275.56,231.80 1279.20,233.90 1282.84,231.80 1282.84,227.60" fill="#c12431" fill-opacity="0.92" stroke="#fff" stroke-width="0.7"/>
<polygon points="1284.00,225.50 1280.36,227.60 1280.36,231.80 1284.00,233.90 1287.64,231.80 1287.64,227.60" fill="#77112f" fill-opacity="0.92" stroke="#fff" stroke-width="0.7"/>
<polygon points="1314.90,220.20 1311.26,222.30 1311.26,226.50 1314.90,228.60 1318.54,226.50 1318.54,222.30" fill="#77112f" fill-opacity="0.92" stroke="#fff" stroke-width="0.7"/>
<polygon points="1318.10,220.20 1314.46,222.30 1314.46,226.50 1318.10,228.60 1321.74,226.50 1321.74,222.30" fill="#77112f" fill-opacity="0.92" stroke="#fff" stroke-width="0.7"/>
<polygon points="1307.60,225.50 1303.96,227.60 1303.96,231.80 1307.60,233.90 1311.24,231.80 1311.24,227.60" fill="#77112f" fill-opacity="0.92" stroke="#fff" stroke-width="0.7"/>
<polygon points="1337.60,220.20 1333.96,222.30 1333.96,226.50 1337.60,228.60 1341.24,226.50 1341.24,222.30" fill="#77112f" fill-opacity="0.92" stroke="#fff" stroke-width="0.7"/>
<polygon points="1264.60,232.00 1260.96,234.10 1260.96,238.30 1264.60,240.40 1268.24,238.30 1268.24,234.10" fill="#77112f" fill-opacity="0.92" stroke="#fff" stroke-width="0.7"/>
<polygon points="1288.90,232.00 1285.26,234.10 1285.26,238.30 1288.90,240.40 1292.54,238.30 1292.54,234.10" fill="#77112f" fill-opacity="0.92" stroke="#fff" stroke-width="0.7"/>
<polygon points="1310.00,232.00 1306.36,234.10 1306.36,238.30 1310.00,240.40 1313.64,238.30 1313.64,234.10" fill="#77112f" fill-opacity="0.92" stroke="#fff" stroke-width="0.7"/>
<polygon points="1271.90,239.00 1268.26,241.10 1268.26,245.30 1271.90,247.40 1275.54,245.30 1275.54,241.10" fill="#77112f" fill-opacity="0.92" stroke="#fff" stroke-width="0.7"/>
<polygon points="1282.10,239.00 1278.46,241.10 1278.46,245.30 1282.10,247.40 1285.74,245.30 1285.74,241.10" fill="#77112f" fill-opacity="0.92" stroke="#fff" stroke-width="0.7"/>
<polygon points="1288.90,239.00 1285.26,241.10 1285.26,245.30 1288.90,247.40 1292.54,245.30 1292.54,241.10" fill="#f39a59" fill-opacity="0.92" stroke="#fff" stroke-width="0.7"/>
<polygon points="1293.50,239.00 1289.86,241.10 1289.86,245.30 1293.50,247.40 1297.14,245.30 1297.14,241.10" fill="#77112f" fill-opacity="0.92" stroke="#fff" stroke-width="0.7"/>
<polygon points="1314.00,239.00 1310.36,241.10 1310.36,245.30 1314.00,247.40 1317.64,245.30 1317.64,241.10" fill="#77112f" fill-opacity="0.92" stroke="#fff" stroke-width="0.7"/>
<polygon points="1310.00,239.00 1306.36,241.10 1306.36,245.30 1310.00,247.40 1313.64,245.30 1313.64,241.10" fill="#da4238" fill-opacity="0.92" stroke="#fff" stroke-width="0.7"/>
<polygon points="1322.40,239.00 1318.76,241.10 1318.76,245.30 1322.40,247.40 1326.04,245.30 1326.04,241.10" fill="#77112f" fill-opacity="0.92" stroke="#fff" stroke-width="0.7"/>
<polygon points="1330.90,239.00 1327.26,241.10 1327.26,245.30 1330.90,247.40 1334.54,245.30 1334.54,241.10" fill="#77112f" fill-opacity="0.92" stroke="#fff" stroke-width="0.7"/>
<polygon points="1180.00,231.80 1176.36,233.90 1176.36,238.10 1180.00,240.20 1183.64,238.10 1183.64,233.90" fill="#f39a59" fill-opacity="0.92" stroke="#fff" stroke-width="0.7"/>
<polygon points="1199.40,231.80 1195.76,233.90 1195.76,238.10 1199.40,240.20 1203.04,238.10 1203.04,233.90" fill="#77112f" fill-opacity="0.92" stroke="#fff" stroke-width="0.7"/>
<polygon points="1208.70,231.80 1205.06,233.90 1205.06,238.10 1208.70,240.20 1212.34,238.10 1212.34,233.90" fill="#ffe9a5" fill-opacity="0.92" stroke="#fff" stroke-width="0.7"/>
<polygon points="1229.40,231.80 1225.76,233.90 1225.76,238.10 1229.40,240.20 1233.04,238.10 1233.04,233.90" fill="#fff0b1" fill-opacity="0.92" stroke="#fff" stroke-width="0.7"/>
<polygon points="1238.00,231.80 1234.36,233.90 1234.36,238.10 1238.00,240.20 1241.64,238.10 1241.64,233.90" fill="#c12431" fill-opacity="0.92" stroke="#fff" stroke-width="0.7"/>
<polygon points="1216.00,239.00 1212.36,241.10 1212.36,245.30 1216.00,247.40 1219.64,245.30 1219.64,241.10" fill="#f39a59" fill-opacity="0.92" stroke="#fff" stroke-width="0.7"/>
<polygon points="1231.50,239.00 1227.86,241.10 1227.86,245.30 1231.50,247.40 1235.14,245.30 1235.14,241.10" fill="#b31932" fill-opacity="0.92" stroke="#fff" stroke-width="0.7"/>
<polygon points="1235.90,239.00 1232.26,241.10 1232.26,245.30 1235.90,247.40 1239.54,245.30 1239.54,241.10" fill="#77112f" fill-opacity="0.92" stroke="#fff" stroke-width="0.7"/>
<polygon points="1185.60,248.40 1181.96,250.50 1181.96,254.70 1185.60,256.80 1189.24,254.70 1189.24,250.50" fill="#ffe9a5" fill-opacity="0.92" stroke="#fff" stroke-width="0.7"/>
<polygon points="1211.10,248.40 1207.46,250.50 1207.46,254.70 1211.10,256.80 1214.74,254.70 1214.74,250.50" fill="#a11332" fill-opacity="0.92" stroke="#fff" stroke-width="0.7"/>
<polygon points="1214.00,248.40 1210.36,250.50 1210.36,254.70 1214.00,256.80 1217.64,254.70 1217.64,250.50" fill="#fff9c8" fill-opacity="0.92" stroke="#fff" stroke-width="0.7"/>
<polygon points="1219.20,248.40 1215.56,250.50 1215.56,254.70 1219.20,256.80 1222.84,254.70 1222.84,250.50" fill="#f39a59" fill-opacity="0.92" stroke="#fff" stroke-width="0.7"/>
<polygon points="1225.00,248.40 1221.36,250.50 1221.36,254.70 1225.00,256.80 1228.64,254.70 1228.64,250.50" fill="#77112f" fill-opacity="0.92" stroke="#fff" stroke-width="0.7"/>
<polygon points="1230.60,248.40 1226.96,250.50 1226.96,254.70 1230.60,256.80 1234.24,254.70 1234.24,250.50" fill="#f39a59" fill-opacity="0.92" stroke="#fff" stroke-width="0.7"/>
<polygon points="1191.00,262.10 1187.36,264.20 1187.36,268.40 1191.00,270.50 1194.64,268.40 1194.64,264.20" fill="#fff0b1" fill-opacity="0.92" stroke="#fff" stroke-width="0.7"/>
<polygon points="1194.20,262.10 1190.56,264.20 1190.56,268.40 1194.20,270.50 1197.84,268.40 1197.84,264.20" fill="#f9bb6a" fill-opacity="0.92" stroke="#fff" stroke-width="0.7"/>
<polygon points="1199.10,262.10 1195.46,264.20 1195.46,268.40 1199.10,270.50 1202.74,268.40 1202.74,264.20" fill="#77112f" fill-opacity="0.92" stroke="#fff" stroke-width="0.7"/>
<polygon points="1204.60,262.10 1200.96,264.20 1200.96,268.40 1204.60,270.50 1208.24,268.40 1208.24,264.20" fill="#ec6c48" fill-opacity="0.92" stroke="#fff" stroke-width="0.7"/>
<polygon points="1221.80,262.10 1218.16,264.20 1218.16,268.40 1221.80,270.50 1225.44,268.40 1225.44,264.20" fill="#c12431" fill-opacity="0.92" stroke="#fff" stroke-width="0.7"/>
<polygon points="1227.00,262.10 1223.36,264.20 1223.36,268.40 1227.00,270.50 1230.64,268.40 1230.64,264.20" fill="#77112f" fill-opacity="0.92" stroke="#fff" stroke-width="0.7"/>
<polygon points="1255.40,262.10 1251.76,264.20 1251.76,268.40 1255.40,270.50 1259.04,268.40 1259.04,264.20" fill="#77112f" fill-opacity="0.92" stroke="#fff" stroke-width="0.7"/>
<polygon points="1264.60,248.50 1260.96,250.60 1260.96,254.80 1264.60,256.90 1268.24,254.80 1268.24,250.60" fill="#da4238" fill-opacity="0.92" stroke="#fff" stroke-width="0.7"/>
<polygon points="1269.10,248.50 1265.46,250.60 1265.46,254.80 1269.10,256.90 1272.74,254.80 1272.74,250.60" fill="#77112f" fill-opacity="0.92" stroke="#fff" stroke-width="0.7"/>
<polygon points="1278.40,248.50 1274.76,250.60 1274.76,254.80 1278.40,256.90 1282.04,254.80 1282.04,250.60" fill="#b31932" fill-opacity="0.92" stroke="#fff" stroke-width="0.7"/>
<polygon points="1310.00,248.50 1306.36,250.60 1306.36,254.80 1310.00,256.90 1313.64,254.80 1313.64,250.60" fill="#77112f" fill-opacity="0.92" stroke="#fff" stroke-width="0.7"/>
<polygon points="1324.60,248.50 1320.96,250.60 1320.96,254.80 1324.60,256.90 1328.24,254.80 1328.24,250.60" fill="#77112f" fill-opacity="0.92" stroke="#fff" stroke-width="0.7"/>
<polygon points="1256.20,261.80 1252.56,263.90 1252.56,268.10 1256.20,270.20 1259.84,268.10 1259.84,263.90" fill="#a11332" fill-opacity="0.92" stroke="#fff" stroke-width="0.7"/>
<polygon points="1259.40,261.80 1255.76,263.90 1255.76,268.10 1259.40,270.20 1263.04,268.10 1263.04,263.90" fill="#77112f" fill-opacity="0.92" stroke="#fff" stroke-width="0.7"/>
<polygon points="1279.20,261.80 1275.56,263.90 1275.56,268.10 1279.20,270.20 1282.84,268.10 1282.84,263.90" fill="#77112f" fill-opacity="0.92" stroke="#fff" stroke-width="0.7"/>
<polygon points="1283.70,261.80 1280.06,263.90 1280.06,268.10 1283.70,270.20 1287.34,268.10 1287.34,263.90" fill="#77112f" fill-opacity="0.92" stroke="#fff" stroke-width="0.7"/>
<polygon points="1292.50,261.80 1288.86,263.90 1288.86,268.10 1292.50,270.20 1296.14,268.10 1296.14,263.90" fill="#77112f" fill-opacity="0.92" stroke="#fff" stroke-width="0.7"/>
<polygon points="1318.40,261.80 1314.76,263.90 1314.76,268.10 1318.40,270.20 1322.04,268.10 1322.04,263.90" fill="#b31932" fill-opacity="0.92" stroke="#fff" stroke-width="0.7"/>
<polygon points="1325.90,261.80 1322.26,263.90 1322.26,268.10 1325.90,270.20 1329.54,268.10 1329.54,263.90" fill="#77112f" fill-opacity="0.92" stroke="#fff" stroke-width="0.7"/>
<polygon points="1392.70,145.50 1389.06,147.60 1389.06,151.80 1392.70,153.90 1396.34,151.80 1396.34,147.60" fill="#e5563f" fill-opacity="0.92" stroke="#fff" stroke-width="0.7"/>
<polygon points="1389.50,149.70 1385.86,151.80 1385.86,156.00 1389.50,158.10 1393.14,156.00 1393.14,151.80" fill="#b31932" fill-opacity="0.92" stroke="#fff" stroke-width="0.7"/>
<polygon points="1344.10,161.60 1340.46,163.70 1340.46,167.90 1344.10,170.00 1347.74,167.90 1347.74,163.70" fill="#77112f" fill-opacity="0.92" stroke="#fff" stroke-width="0.7"/>
<polygon points="1351.10,161.60 1347.46,163.70 1347.46,167.90 1351.10,170.00 1354.74,167.90 1354.74,163.70" fill="#77112f" fill-opacity="0.92" stroke="#fff" stroke-width="0.7"/>
<polygon points="1352.40,167.80 1348.76,169.90 1348.76,174.10 1352.40,176.20 1356.04,174.10 1356.04,169.90" fill="#cf2e30" fill-opacity="0.92" stroke="#fff" stroke-width="0.7"/>
<polygon points="1366.80,166.30 1363.16,168.40 1363.16,172.60 1366.80,174.70 1370.44,172.60 1370.44,168.40" fill="#77112f" fill-opacity="0.92" stroke="#fff" stroke-width="0.7"/>
<polygon points="1377.00,170.50 1373.36,172.60 1373.36,176.80 1377.00,178.90 1380.64,176.80 1380.64,172.60" fill="#da4238" fill-opacity="0.92" stroke="#fff" stroke-width="0.7"/>
<polygon points="1351.10,184.40 1347.46,186.50 1347.46,190.70 1351.10,192.80 1354.74,190.70 1354.74,186.50" fill="#77112f" fill-opacity="0.92" stroke="#fff" stroke-width="0.7"/>
<polygon points="1356.20,182.50 1352.56,184.60 1352.56,188.80 1356.20,190.90 1359.84,188.80 1359.84,184.60" fill="#b31932" fill-opacity="0.92" stroke="#fff" stroke-width="0.7"/>
<polygon points="1356.20,189.30 1352.56,191.40 1352.56,195.60 1356.20,197.70 1359.84,195.60 1359.84,191.40" fill="#77112f" fill-opacity="0.92" stroke="#fff" stroke-width="0.7"/>
<polygon points="1347.90,193.10 1344.26,195.20 1344.26,199.40 1347.90,201.50 1351.54,199.40 1351.54,195.20" fill="#77112f" fill-opacity="0.92" stroke="#fff" stroke-width="0.7"/>
<polygon points="1426.90,202.60 1423.26,204.70 1423.26,208.90 1426.90,211.00 1430.54,208.90 1430.54,204.70" fill="#77112f" fill-opacity="0.92" stroke="#fff" stroke-width="0.7"/>
<polygon points="1386.50,212.00 1382.86,214.10 1382.86,218.30 1386.50,220.40 1390.14,218.30 1390.14,214.10" fill="#77112f" fill-opacity="0.92" stroke="#fff" stroke-width="0.7"/>
<polygon points="1358.60,216.20 1354.96,218.30 1354.96,222.50 1358.60,224.60 1362.24,222.50 1362.24,218.30" fill="#77112f" fill-opacity="0.92" stroke="#fff" stroke-width="0.7"/>
<polygon points="1356.80,225.70 1353.16,227.80 1353.16,232.00 1356.80,234.10 1360.44,232.00 1360.44,227.80" fill="#c12431" fill-opacity="0.92" stroke="#fff" stroke-width="0.7"/>
<polygon points="1407.80,225.70 1404.16,227.80 1404.16,232.00 1407.80,234.10 1411.44,232.00 1411.44,227.80" fill="#b31932" fill-opacity="0.92" stroke="#fff" stroke-width="0.7"/>
<polygon points="1353.40,238.80 1349.76,240.90 1349.76,245.10 1353.40,247.20 1357.04,245.10 1357.04,240.90" fill="#77112f" fill-opacity="0.92" stroke="#fff" stroke-width="0.7"/>
<polygon points="1354.50,248.50 1350.86,250.60 1350.86,254.80 1354.50,256.90 1358.14,254.80 1358.14,250.60" fill="#77112f" fill-opacity="0.92" stroke="#fff" stroke-width="0.7"/>
<rect x="1351.5" y="10.8" width="84" height="30" fill="#fff" fill-opacity="0.7"/>
<text x="1433.5" y="18.0" font-family="Liberation Sans" font-size="6.9" fill="#222" text-anchor="end" textLength="78.77" lengthAdjust="spacingAndGlyphs">High TU, High F: A=0.92</text>
<text x="1433.5" y="25.4" font-family="Liberation Sans" font-size="6.9" fill="#222" text-anchor="end" textLength="77.17" lengthAdjust="spacingAndGlyphs">Low TU, High F: A=0.77</text>
<text x="1433.5" y="32.8" font-family="Liberation Sans" font-size="6.9" fill="#222" text-anchor="end" textLength="77.17" lengthAdjust="spacingAndGlyphs">High TU, Low F: A=0.92</text>
<text x="1433.5" y="40.2" font-family="Liberation Sans" font-size="6.9" fill="#222" text-anchor="end" textLength="75.56" lengthAdjust="spacingAndGlyphs">Low TU, Low F: A=0.64</text>
<rect x="1167.2" y="7.8" width="272.5" height="270.8" fill="none" stroke="#6c6c6c" stroke-width="1.2"/>
<line x1="1179.5" y1="278.6" x2="1179.5" y2="281.20000000000005" stroke="#333" stroke-width="0.8"/>
<text x="1179.5" y="290.8" font-family="Liberation Sans" font-size="8.6" fill="#1e1e1e" text-anchor="middle">0.0</text>
<line x1="1229.06" y1="278.6" x2="1229.06" y2="281.20000000000005" stroke="#333" stroke-width="0.8"/>
<text x="1229.06" y="290.8" font-family="Liberation Sans" font-size="8.6" fill="#1e1e1e" text-anchor="middle">0.2</text>
<line x1="1278.62" y1="278.6" x2="1278.62" y2="281.20000000000005" stroke="#333" stroke-width="0.8"/>
<text x="1278.62" y="290.8" font-family="Liberation Sans" font-size="8.6" fill="#1e1e1e" text-anchor="middle">0.4</text>
<line x1="1328.18" y1="278.6" x2="1328.18" y2="281.20000000000005" stroke="#333" stroke-width="0.8"/>
<text x="1328.18" y="290.8" font-family="Liberation Sans" font-size="8.6" fill="#1e1e1e" text-anchor="middle">0.6</text>
<line x1="1377.74" y1="278.6" x2="1377.74" y2="281.20000000000005" stroke="#333" stroke-width="0.8"/>
<text x="1377.74" y="290.8" font-family="Liberation Sans" font-size="8.6" fill="#1e1e1e" text-anchor="middle">0.8</text>
<line x1="1427.3" y1="278.6" x2="1427.3" y2="281.20000000000005" stroke="#333" stroke-width="0.8"/>
<text x="1427.3" y="290.8" font-family="Liberation Sans" font-size="8.6" fill="#1e1e1e" text-anchor="middle">1.0</text>
<line x1="1164.6000000000001" y1="251.3" x2="1167.2" y2="251.3" stroke="#333" stroke-width="0.8"/>
<text x="1162.2" y="254.4" font-family="Liberation Sans" font-size="8.6" fill="#1e1e1e" text-anchor="end">50</text>
<line x1="1164.6000000000001" y1="213.28500000000003" x2="1167.2" y2="213.28500000000003" stroke="#333" stroke-width="0.8"/>
<text x="1162.2" y="216.38500000000002" font-family="Liberation Sans" font-size="8.6" fill="#1e1e1e" text-anchor="end">100</text>
<line x1="1164.6000000000001" y1="175.27" x2="1167.2" y2="175.27" stroke="#333" stroke-width="0.8"/>
<text x="1162.2" y="178.37" font-family="Liberation Sans" font-size="8.6" fill="#1e1e1e" text-anchor="end">150</text>
<line x1="1164.6000000000001" y1="137.255" x2="1167.2" y2="137.255" stroke="#333" stroke-width="0.8"/>
<text x="1162.2" y="140.355" font-family="Liberation Sans" font-size="8.6" fill="#1e1e1e" text-anchor="end">200</text>
<line x1="1164.6000000000001" y1="99.24000000000001" x2="1167.2" y2="99.24000000000001" stroke="#333" stroke-width="0.8"/>
<text x="1162.2" y="102.34" font-family="Liberation Sans" font-size="8.6" fill="#1e1e1e" text-anchor="end">250</text>
<line x1="1164.6000000000001" y1="61.22500000000002" x2="1167.2" y2="61.22500000000002" stroke="#333" stroke-width="0.8"/>
<text x="1162.2" y="64.32500000000002" font-family="Liberation Sans" font-size="8.6" fill="#1e1e1e" text-anchor="end">300</text>
<line x1="1164.6000000000001" y1="23.210000000000008" x2="1167.2" y2="23.210000000000008" stroke="#333" stroke-width="0.8"/>
<text x="1162.2" y="26.31000000000001" font-family="Liberation Sans" font-size="8.6" fill="#1e1e1e" text-anchor="end">350</text>
<text x="1303.45" y="302.3" font-family="Liberation Sans" font-size="10.2" fill="#1e1e1e" text-anchor="middle" textLength="75.2" lengthAdjust="spacingAndGlyphs">Text Uniqueness</text>
<text transform="translate(1143.4,143.50000000000003) rotate(-90)" font-family="Liberation Sans" font-size="10.3" fill="#1e1e1e" text-anchor="middle" textLength="191" lengthAdjust="spacingAndGlyphs">Number of Deduplicated Text-Image Pairs</text>
<defs><linearGradient id="gd" x1="0" y1="1" x2="0" y2="0"><stop offset="0.0" stop-color="#ffffd6"/><stop offset="0.125" stop-color="#fff1b3"/><stop offset="0.25" stop-color="#fee191"/><stop offset="0.375" stop-color="#f9bc6b"/><stop offset="0.5" stop-color="#f39a59"/><stop offset="0.625" stop-color="#eb6043"/><stop offset="0.75" stop-color="#cf2e30"/><stop offset="0.875" stop-color="#ab1433"/><stop offset="1.0" stop-color="#77112f"/></linearGradient></defs>
<rect x="1446" y="7.8" width="9.700000000000045" height="270.8" fill="url(#gd)" fill-opacity="0.93" stroke="#3a3a3a" stroke-width="0.8"/>
<line x1="1455.7" y1="278.6" x2="1458.3" y2="278.6" stroke="#333" stroke-width="0.8"/>
<text x="1460.7" y="281.70000000000005" font-family="Liberation Sans" font-size="8.6" fill="#1e1e1e">0.0</text>
<line x1="1455.7" y1="224.44000000000003" x2="1458.3" y2="224.44000000000003" stroke="#333" stroke-width="0.8"/>
<text x="1460.7" y="227.54000000000002" font-family="Liberation Sans" font-size="8.6" fill="#1e1e1e">0.2</text>
<line x1="1455.7" y1="170.28000000000003" x2="1458.3" y2="170.28000000000003" stroke="#333" stroke-width="0.8"/>
<text x="1460.7" y="173.38000000000002" font-family="Liberation Sans" font-size="8.6" fill="#1e1e1e">0.4</text>
<line x1="1455.7" y1="116.12" x2="1458.3" y2="116.12" stroke="#333" stroke-width="0.8"/>
<text x="1460.7" y="119.22" font-family="Liberation Sans" font-size="8.6" fill="#1e1e1e">0.6</text>
<line x1="1455.7" y1="61.96000000000001" x2="1458.3" y2="61.96000000000001" stroke="#333" stroke-width="0.8"/>
<text x="1460.7" y="65.06" font-family="Liberation Sans" font-size="8.6" fill="#1e1e1e">0.8</text>
<line x1="1455.7" y1="7.800000000000011" x2="1458.3" y2="7.800000000000011" stroke="#333" stroke-width="0.8"/>
<text x="1460.7" y="10.900000000000011" font-family="Liberation Sans" font-size="8.6" fill="#1e1e1e">1.0</text>
<text transform="translate(1481.7,143.20000000000002) rotate(-90)" font-family="Liberation Sans" font-size="9.2" fill="#1e1e1e" text-anchor="middle" textLength="70" lengthAdjust="spacingAndGlyphs">Alignment (CRA)</text>
<text x="1310" y="333.8" font-family="Liberation Serif" font-size="24" fill="#000" text-anchor="middle">(d) Text Uniqueness (Dynamic)</text>
</svg></body></html>
